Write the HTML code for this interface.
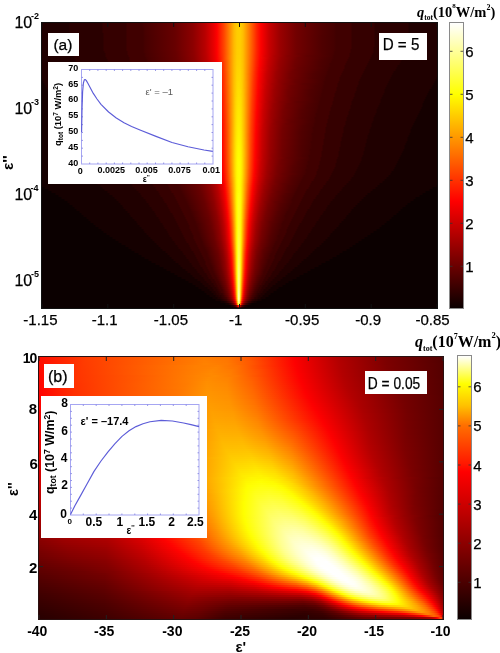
<!DOCTYPE html>
<html><head><meta charset="utf-8"><style>
html,body{margin:0;padding:0;background:#fff;}
body{width:500px;height:653px;position:relative;overflow:hidden;}
.t{position:absolute;white-space:nowrap;z-index:3;}
.t sub{font-size:70%;vertical-align:-0.25em;line-height:0}
.t sup{font-size:70%;vertical-align:0.5em;line-height:0}
.hm{position:absolute;overflow:hidden;}
.hm div{width:100%;}
.box{position:absolute;background:#fff;}
.cb{position:absolute;box-sizing:border-box;border:1px solid #8a8a8a;}
.sv{position:absolute;left:0;top:0;z-index:2;}
</style></head><body>
<div class="hm" style="left:42px;top:23px;width:395px;height:285px;"><div style="height:2px;background:linear-gradient(90deg,#200000 0px,#200000 27px,#2a0000 28px,#2a0000 60px,#350000 61px,#350000 84px,#400000 85px,#400000 100px,#460000 102px,#650000 132px,#8c0000 151px,#b70000 163px,#ea0000 172px,#ff0100 175px,#ff4500 182px,#ffb900 192px,#ffcd00 195px,#ffcf00 198px,#ffbe00 201px,#ff7c00 207px,#ff2100 215px,#fd0000 219px,#c80000 227px,#9a0000 238px,#720000 254px,#500000 280px,#460000 292px,#400000 294px,#400000 309px,#350000 310px,#350000 332px,#2a0000 333px,#2a0000 366px,#200000 367px,#200000 395px)"></div><div style="height:2px;background:linear-gradient(90deg,#200000 0px,#200000 27px,#2a0000 28px,#2a0000 60px,#350000 61px,#350000 84px,#400000 85px,#400000 100px,#460000 102px,#650000 132px,#8c0000 151px,#b70000 163px,#ea0000 172px,#ff0100 175px,#ff4500 182px,#ffb900 192px,#ffcd00 195px,#ffcf00 198px,#ffbe00 201px,#ff7c00 207px,#ff2100 215px,#fd0000 219px,#c80000 227px,#9a0000 238px,#720000 254px,#500000 280px,#460000 292px,#400000 294px,#400000 309px,#350000 310px,#350000 332px,#2a0000 333px,#2a0000 366px,#200000 367px,#200000 395px)"></div><div style="height:2px;background:linear-gradient(90deg,#200000 0px,#200000 27px,#2a0000 28px,#2a0000 60px,#350000 61px,#350000 84px,#400000 85px,#400000 101px,#470000 103px,#670000 133px,#8c0000 151px,#b70000 163px,#ea0000 172px,#ff0100 175px,#ff4500 182px,#ffb900 192px,#ffcd00 195px,#ffcf00 198px,#ffbe00 201px,#ff7c00 207px,#ff2100 215px,#fd0000 219px,#c80000 227px,#9a0000 238px,#720000 254px,#500000 280px,#460000 292px,#400000 294px,#400000 309px,#350000 310px,#350000 332px,#2a0000 333px,#2a0000 366px,#200000 367px,#200000 395px)"></div><div style="height:2px;background:linear-gradient(90deg,#200000 0px,#200000 27px,#2a0000 28px,#2a0000 60px,#350000 61px,#350000 84px,#400000 85px,#400000 101px,#470000 103px,#670000 133px,#8c0000 151px,#b70000 163px,#ea0000 172px,#ff0100 175px,#ff4500 182px,#ffb900 192px,#ffcd00 195px,#ffcf00 198px,#ffbe00 201px,#ff7c00 207px,#ff2100 215px,#fd0000 219px,#c80000 227px,#9a0000 238px,#720000 254px,#500000 280px,#450000 292px,#400000 294px,#400000 309px,#350000 310px,#350000 332px,#2a0000 333px,#2a0000 366px,#200000 367px,#200000 395px)"></div><div style="height:2px;background:linear-gradient(90deg,#200000 0px,#200000 27px,#2a0000 28px,#2a0000 60px,#350000 61px,#350000 84px,#400000 85px,#400000 101px,#470000 103px,#670000 133px,#8c0000 151px,#b70000 163px,#ea0000 172px,#ff0100 175px,#ff4500 182px,#ffb900 192px,#ffcd00 195px,#ffcf00 198px,#ffbe00 201px,#ff7c00 207px,#ff2100 215px,#fd0000 219px,#c80000 227px,#9a0000 238px,#720000 254px,#500000 280px,#450000 292px,#400000 294px,#400000 309px,#350000 310px,#350000 332px,#2a0000 333px,#2a0000 366px,#200000 367px,#200000 395px)"></div><div style="height:2px;background:linear-gradient(90deg,#200000 0px,#200000 27px,#2a0000 28px,#2a0000 61px,#350000 62px,#350000 84px,#400000 85px,#400000 101px,#470000 103px,#670000 133px,#8c0000 151px,#b70000 163px,#ea0000 172px,#ff0100 175px,#ff4500 182px,#ffb900 192px,#ffcd00 195px,#ffcf00 198px,#ffbe00 201px,#ff7c00 207px,#ff2100 215px,#fd0000 219px,#c80000 227px,#9a0000 238px,#720000 254px,#500000 280px,#450000 292px,#400000 294px,#400000 309px,#350000 310px,#350000 332px,#2a0000 333px,#2a0000 366px,#200000 367px,#200000 395px)"></div><div style="height:2px;background:linear-gradient(90deg,#200000 0px,#200000 27px,#2a0000 28px,#2a0000 61px,#350000 62px,#350000 84px,#400000 85px,#400000 101px,#460000 103px,#670000 133px,#8c0000 151px,#b70000 163px,#ea0000 172px,#ff0100 175px,#ff4500 182px,#ffb900 192px,#ffcd00 195px,#ffcf00 198px,#ffbe00 201px,#ff7c00 207px,#ff2100 215px,#fd0000 219px,#c80000 227px,#9a0000 238px,#720000 254px,#4f0000 280px,#450000 292px,#400000 294px,#400000 309px,#350000 310px,#350000 332px,#2a0000 333px,#2a0000 366px,#200000 367px,#200000 395px)"></div><div style="height:2px;background:linear-gradient(90deg,#200000 0px,#200000 27px,#2a0000 28px,#2a0000 61px,#350000 62px,#350000 84px,#400000 85px,#400000 101px,#460000 103px,#670000 133px,#8c0000 151px,#b70000 163px,#ea0000 172px,#ff0100 175px,#ff4500 182px,#ffb900 192px,#ffcd00 195px,#ffcf00 198px,#ffbe00 201px,#ff7c00 207px,#ff2100 215px,#fd0000 219px,#c80000 227px,#9a0000 238px,#720000 254px,#4f0000 280px,#450000 292px,#400000 294px,#400000 309px,#350000 310px,#350000 332px,#2a0000 333px,#2a0000 365px,#200000 366px,#200000 395px)"></div><div style="height:2px;background:linear-gradient(90deg,#200000 0px,#200000 27px,#2a0000 28px,#2a0000 61px,#350000 62px,#350000 84px,#400000 85px,#400000 101px,#460000 103px,#670000 133px,#8c0000 151px,#b70000 163px,#ea0000 172px,#ff0100 175px,#ff4500 182px,#ffb900 192px,#ffcd00 195px,#ffcf00 198px,#ffbe00 201px,#ff7c00 207px,#ff2100 215px,#fd0000 219px,#c80000 227px,#9a0000 238px,#720000 254px,#4f0000 280px,#450000 292px,#400000 294px,#400000 309px,#350000 310px,#350000 332px,#2a0000 333px,#2a0000 365px,#200000 366px,#200000 395px)"></div><div style="height:2px;background:linear-gradient(90deg,#200000 0px,#200000 27px,#2a0000 28px,#2a0000 61px,#350000 62px,#350000 84px,#400000 85px,#400000 101px,#460000 103px,#670000 133px,#8c0000 151px,#b70000 163px,#ea0000 172px,#ff0100 175px,#ff4500 182px,#ffb900 192px,#ffcd00 195px,#ffcf00 198px,#ffbe00 201px,#ff7c00 207px,#ff2100 215px,#fd0000 219px,#c80000 227px,#9a0000 238px,#720000 254px,#4f0000 280px,#450000 292px,#400000 294px,#400000 309px,#350000 310px,#350000 332px,#2a0000 333px,#2a0000 365px,#200000 366px,#200000 395px)"></div><div style="height:2px;background:linear-gradient(90deg,#200000 0px,#200000 28px,#2a0000 29px,#2a0000 61px,#350000 62px,#350000 84px,#400000 85px,#400000 101px,#460000 103px,#670000 133px,#8c0000 151px,#b70000 163px,#ea0000 172px,#ff0100 175px,#ff4500 182px,#ffb900 192px,#ffcd00 195px,#ffcf00 198px,#ffbe00 201px,#ff7c00 207px,#ff2100 215px,#fd0000 219px,#c80000 227px,#9a0000 238px,#720000 254px,#4f0000 280px,#450000 292px,#400000 294px,#400000 309px,#350000 310px,#350000 332px,#2a0000 333px,#2a0000 365px,#200000 366px,#200000 395px)"></div><div style="height:2px;background:linear-gradient(90deg,#200000 0px,#200000 28px,#2a0000 29px,#2a0000 61px,#350000 62px,#350000 84px,#400000 85px,#400000 101px,#460000 103px,#670000 133px,#8c0000 151px,#b70000 163px,#ea0000 172px,#ff0100 175px,#ff4500 182px,#ffb900 192px,#ffcd00 195px,#ffcf00 198px,#ffbe00 201px,#ff7c00 207px,#ff2100 215px,#fd0000 219px,#c80000 227px,#9a0000 238px,#720000 254px,#4f0000 280px,#450000 292px,#400000 294px,#400000 309px,#350000 310px,#350000 332px,#2a0000 333px,#2a0000 365px,#200000 366px,#200000 395px)"></div><div style="height:2px;background:linear-gradient(90deg,#200000 0px,#200000 28px,#2a0000 29px,#2a0000 61px,#350000 62px,#350000 84px,#400000 85px,#400000 101px,#460000 103px,#670000 133px,#8c0000 151px,#b70000 163px,#e90000 172px,#ff0100 175px,#ff4500 182px,#ffb900 192px,#ffcd00 195px,#ffcf00 198px,#ffbe00 201px,#ff7c00 207px,#ff2100 215px,#fd0000 219px,#c80000 227px,#9a0000 238px,#720000 254px,#4f0000 280px,#450000 292px,#400000 294px,#400000 309px,#350000 310px,#350000 331px,#2a0000 332px,#2a0000 365px,#200000 366px,#200000 395px)"></div><div style="height:2px;background:linear-gradient(90deg,#200000 0px,#200000 28px,#2a0000 29px,#2a0000 61px,#350000 62px,#350000 84px,#400000 85px,#400000 101px,#460000 103px,#670000 133px,#8c0000 151px,#b60000 163px,#e90000 172px,#ff0100 175px,#ff4400 182px,#ffb900 192px,#ffce00 195px,#ffd000 198px,#ffbf00 201px,#ff7b00 207px,#ff2100 215px,#fd0000 219px,#c80000 227px,#9a0000 238px,#720000 254px,#4f0000 280px,#450000 292px,#400000 294px,#400000 308px,#350000 309px,#350000 331px,#2a0000 332px,#2a0000 364px,#200000 365px,#200000 395px)"></div><div style="height:2px;background:linear-gradient(90deg,#200000 0px,#200000 29px,#2a0000 30px,#2a0000 62px,#350000 63px,#350000 85px,#400000 86px,#400000 101px,#460000 103px,#660000 133px,#8b0000 151px,#b60000 163px,#e90000 172px,#ff0000 175px,#ff4400 182px,#ffb900 192px,#ffce00 195px,#ffd000 198px,#ffbf00 201px,#ff7b00 207px,#ff2000 215px,#fc0000 219px,#c80000 227px,#990000 238px,#720000 254px,#4f0000 280px,#460000 291px,#400000 293px,#400000 308px,#350000 309px,#350000 331px,#2a0000 332px,#2a0000 364px,#200000 365px,#200000 395px)"></div><div style="height:2px;background:linear-gradient(90deg,#200000 0px,#200000 30px,#2a0000 31px,#2a0000 63px,#350000 64px,#350000 85px,#400000 86px,#400000 102px,#460000 104px,#670000 134px,#8e0000 152px,#ba0000 164px,#ef0000 173px,#ff0000 175px,#ff4300 182px,#ffb900 192px,#ffce00 195px,#ffd000 198px,#ffbf00 201px,#ff7b00 207px,#ff2a00 214px,#ff0500 218px,#f40000 220px,#c20000 228px,#960000 239px,#6d0000 256px,#4c0000 283px,#450000 291px,#400000 293px,#400000 307px,#350000 308px,#350000 330px,#2a0000 331px,#2a0000 363px,#200000 364px,#200000 395px)"></div><div style="height:2px;background:linear-gradient(90deg,#200000 0px,#200000 31px,#2a0000 32px,#2a0000 63px,#350000 64px,#350000 86px,#400000 87px,#400000 102px,#460000 104px,#670000 134px,#8d0000 152px,#b90000 164px,#ee0000 173px,#fe0000 175px,#ff3800 181px,#ffba00 192px,#ffcf00 195px,#ffd100 198px,#ffbf00 201px,#ff7a00 207px,#ff2900 214px,#ff0400 218px,#de0000 223px,#ae0000 232px,#840000 245px,#5f0000 265px,#460000 290px,#400000 292px,#400000 307px,#350000 308px,#350000 329px,#2a0000 330px,#2a0000 362px,#200000 363px,#200000 395px)"></div><div style="height:2px;background:linear-gradient(90deg,#200000 0px,#200000 32px,#2a0000 33px,#2a0000 64px,#350000 65px,#350000 87px,#400000 88px,#400000 103px,#460000 105px,#660000 134px,#8c0000 152px,#b80000 164px,#ed0000 173px,#fd0000 175px,#ff2c00 180px,#ffba00 192px,#ffcf00 195px,#ffd100 198px,#ffbf00 201px,#ff7a00 207px,#ff2800 214px,#ff0300 218px,#c00000 228px,#940000 239px,#6c0000 256px,#4b0000 283px,#450000 290px,#400000 292px,#400000 306px,#350000 307px,#350000 328px,#2a0000 329px,#2a0000 361px,#200000 362px,#200000 395px)"></div><div style="height:2px;background:linear-gradient(90deg,#200000 0px,#200000 33px,#2a0000 34px,#2a0000 65px,#350000 66px,#350000 87px,#400000 88px,#400000 104px,#470000 106px,#670000 135px,#8e0000 153px,#bc0000 165px,#ec0000 173px,#fb0000 175px,#ff1700 178px,#ff6500 185px,#ffba00 192px,#ffd000 195px,#ffd200 198px,#ffc000 201px,#ff7900 207px,#ff2700 214px,#ff0100 218px,#c40000 227px,#960000 238px,#6f0000 254px,#4d0000 280px,#450000 289px,#400000 291px,#400000 305px,#350000 306px,#350000 327px,#2a0000 328px,#2a0000 359px,#200000 360px,#200000 395px)"></div><div style="height:2px;background:linear-gradient(90deg,#200000 0px,#200000 34px,#2a0000 35px,#2a0000 66px,#350000 67px,#350000 88px,#400000 89px,#400000 104px,#460000 106px,#660000 135px,#8d0000 153px,#bb0000 165px,#eb0000 173px,#ff0300 176px,#ff4b00 183px,#ffba00 192px,#ffd100 195px,#ffd300 198px,#ffc000 201px,#ff7900 207px,#ff2500 214px,#ff0000 218px,#c80000 226px,#980000 237px,#700000 253px,#4d0000 279px,#460000 288px,#400000 290px,#400000 304px,#350000 305px,#350000 326px,#2a0000 327px,#2a0000 358px,#200000 359px,#200000 395px)"></div><div style="height:2px;background:linear-gradient(90deg,#200000 0px,#200000 36px,#2a0000 37px,#2a0000 67px,#350000 68px,#350000 89px,#400000 90px,#400000 105px,#460000 107px,#670000 136px,#8c0000 153px,#b90000 165px,#e90000 173px,#ff0200 176px,#ff3e00 182px,#ffbb00 192px,#ffd100 195px,#ffd400 198px,#ffc100 201px,#ff7800 207px,#ff2400 214px,#fe0000 218px,#c70000 226px,#970000 237px,#6f0000 253px,#4d0000 279px,#460000 287px,#400000 288px,#400000 303px,#350000 304px,#350000 325px,#2a0000 326px,#2a0000 357px,#200000 358px,#200000 395px)"></div><div style="height:2px;background:linear-gradient(90deg,#200000 0px,#200000 37px,#2a0000 38px,#2a0000 69px,#350000 70px,#350000 90px,#400000 91px,#400000 106px,#460000 108px,#660000 136px,#8b0000 153px,#b80000 165px,#e80000 173px,#ff0100 176px,#ff3d00 182px,#ffbb00 192px,#ffd200 195px,#ffd400 198px,#ffc100 201px,#ff7700 207px,#ff2300 214px,#fc0000 218px,#c50000 226px,#960000 237px,#6e0000 253px,#4c0000 279px,#450000 287px,#400000 289px,#400000 302px,#350000 303px,#350000 324px,#2a0000 325px,#2a0000 355px,#200000 356px,#200000 395px)"></div><div style="height:2px;background:linear-gradient(90deg,#200000 0px,#200000 39px,#2a0000 40px,#2a0000 70px,#350000 71px,#350000 91px,#400000 92px,#400000 107px,#460000 109px,#670000 137px,#8d0000 154px,#b70000 165px,#e60000 173px,#fe0000 176px,#ff3c00 182px,#ffbb00 192px,#ffd300 195px,#ffd500 198px,#ffc100 201px,#ff7600 207px,#ff2100 214px,#ff0400 217px,#eb0000 220px,#ba0000 228px,#8f0000 239px,#680000 256px,#470000 284px,#450000 286px,#400000 288px,#400000 302px,#350000 303px,#350000 323px,#2a0000 324px,#2a0000 354px,#200000 355px,#200000 395px)"></div><div style="height:2px;background:linear-gradient(90deg,#200000 0px,#200000 40px,#2a0000 41px,#2a0000 71px,#350000 72px,#350000 92px,#400000 93px,#400000 108px,#470000 110px,#680000 138px,#8f0000 155px,#ba0000 166px,#ec0000 174px,#fd0000 176px,#ff2f00 181px,#ffbb00 192px,#ffd400 195px,#ffd600 198px,#ffc200 201px,#ff7500 207px,#ff2000 214px,#ff0300 217px,#c30000 226px,#940000 237px,#6c0000 253px,#4b0000 279px,#460000 285px,#400000 287px,#400000 301px,#350000 302px,#350000 322px,#2a0000 323px,#2a0000 353px,#200000 354px,#200000 395px)"></div><div style="height:2px;background:linear-gradient(90deg,#200000 0px,#200000 41px,#2a0000 42px,#2a0000 72px,#350000 73px,#350000 93px,#400000 94px,#400000 108px,#460000 110px,#670000 138px,#8e0000 155px,#b90000 166px,#eb0000 174px,#fb0000 176px,#ff0e00 178px,#ff5200 184px,#ffbc00 192px,#ffd400 195px,#ffd700 198px,#ffc200 201px,#ff7500 207px,#ff2900 213px,#ff0100 217px,#c70000 225px,#990000 235px,#710000 250px,#4f0000 274px,#460000 284px,#400000 286px,#400000 300px,#350000 301px,#350000 321px,#2a0000 322px,#2a0000 351px,#200000 352px,#200000 395px)"></div><div style="height:2px;background:linear-gradient(90deg,#200000 0px,#200000 43px,#2a0000 44px,#2a0000 73px,#350000 74px,#350000 94px,#400000 95px,#400000 109px,#460000 111px,#660000 138px,#8c0000 155px,#b80000 166px,#ea0000 174px,#ff0400 177px,#ff4400 183px,#ffbc00 192px,#ffd500 195px,#ffd800 198px,#ffc200 201px,#ff6600 208px,#ff1d00 214px,#ff0000 217px,#cb0000 224px,#9c0000 234px,#740000 248px,#510000 271px,#450000 284px,#400000 286px,#400000 299px,#350000 300px,#350000 320px,#2a0000 321px,#2a0000 350px,#200000 351px,#200000 395px)"></div><div style="height:2px;background:linear-gradient(90deg,#200000 0px,#200000 44px,#2a0000 45px,#2a0000 74px,#350000 75px,#350000 95px,#400000 96px,#400000 110px,#470000 112px,#670000 139px,#8b0000 155px,#b60000 166px,#e80000 174px,#ff0200 177px,#ff4300 183px,#ffbc00 192px,#ffd600 195px,#ffd800 198px,#ffc300 201px,#ff3200 212px,#fe0000 217px,#ca0000 224px,#9b0000 234px,#740000 248px,#510000 271px,#450000 283px,#400000 285px,#400000 298px,#350000 299px,#350000 319px,#2a0000 320px,#2a0000 349px,#200000 350px,#200000 395px)"></div><div style="height:2px;background:linear-gradient(90deg,#200000 0px,#200000 45px,#2a0000 46px,#2a0000 75px,#350000 76px,#350000 95px,#400000 96px,#400000 110px,#460000 112px,#660000 139px,#8b0000 155px,#b50000 166px,#e70000 174px,#ff0100 177px,#ff4200 183px,#ffbc00 192px,#ffd700 195px,#ffd900 198px,#ffc300 201px,#ff3100 212px,#ff0700 216px,#fd0000 217px,#c90000 224px,#9a0000 234px,#730000 248px,#500000 271px,#460000 282px,#400000 284px,#400000 297px,#350000 298px,#350000 318px,#2a0000 319px,#2a0000 348px,#200000 349px,#200000 394px,#150000 395px)"></div><div style="height:2px;background:linear-gradient(90deg,#150000 0px,#200000 1px,#200000 46px,#2a0000 47px,#2a0000 75px,#350000 76px,#350000 96px,#400000 97px,#400000 111px,#460000 113px,#670000 140px,#8d0000 156px,#ba0000 167px,#ee0000 175px,#ff0000 177px,#ff4100 183px,#ffbd00 192px,#ffd700 195px,#ffda00 198px,#ffc300 201px,#ff3000 212px,#ff0600 216px,#f30000 218px,#bd0000 226px,#8f0000 237px,#690000 253px,#480000 279px,#450000 282px,#400000 284px,#400000 297px,#350000 298px,#350000 317px,#2a0000 318px,#2a0000 347px,#200000 348px,#200000 393px,#150000 394px,#150000 395px)"></div><div style="height:2px;background:linear-gradient(90deg,#150000 0px,#150000 1px,#200000 2px,#200000 47px,#2a0000 48px,#2a0000 76px,#350000 77px,#350000 97px,#400000 98px,#400000 111px,#460000 113px,#670000 140px,#8c0000 156px,#b90000 167px,#ed0000 175px,#fe0000 177px,#ff3400 182px,#ffbd00 192px,#ffd800 195px,#ffdd00 197px,#ffce00 200px,#ff9d00 204px,#ff3b00 211px,#ff0500 216px,#f20000 218px,#bc0000 226px,#8e0000 237px,#680000 253px,#470000 280px,#400000 283px,#400000 296px,#350000 297px,#350000 316px,#2a0000 317px,#2a0000 346px,#200000 347px,#200000 392px,#150000 393px,#150000 395px)"></div><div style="height:2px;background:linear-gradient(90deg,#150000 0px,#150000 2px,#200000 3px,#200000 48px,#2a0000 49px,#2a0000 77px,#350000 78px,#350000 97px,#400000 98px,#400000 112px,#460000 114px,#660000 140px,#8b0000 156px,#b80000 167px,#ec0000 175px,#fd0000 177px,#ff3300 182px,#ffbd00 192px,#ffd900 195px,#ffde00 197px,#ffce00 200px,#ff9d00 204px,#ff3a00 211px,#ff0400 216px,#da0000 221px,#a70000 230px,#7f0000 242px,#5b0000 261px,#450000 281px,#400000 283px,#400000 295px,#350000 296px,#350000 316px,#2a0000 317px,#2a0000 345px,#200000 346px,#200000 391px,#150000 392px,#150000 395px)"></div><div style="height:2px;background:linear-gradient(90deg,#150000 0px,#150000 3px,#200000 4px,#200000 48px,#2a0000 49px,#2a0000 78px,#350000 79px,#350000 98px,#400000 99px,#400000 112px,#460000 114px,#660000 140px,#8a0000 156px,#b70000 167px,#eb0000 175px,#fc0000 177px,#ff1b00 180px,#ff6700 186px,#ffbe00 192px,#ffd900 195px,#ffde00 197px,#ffcf00 200px,#ff9d00 204px,#ff3900 211px,#ff0300 216px,#c50000 224px,#970000 234px,#6e0000 249px,#4c0000 273px,#460000 280px,#400000 282px,#400000 295px,#350000 296px,#350000 315px,#2a0000 316px,#2a0000 344px,#200000 345px,#200000 390px,#150000 391px,#150000 395px)"></div><div style="height:2px;background:linear-gradient(90deg,#150000 0px,#150000 4px,#200000 5px,#200000 49px,#2a0000 50px,#2a0000 78px,#350000 79px,#350000 98px,#400000 99px,#400000 113px,#460000 115px,#670000 141px,#8d0000 157px,#b60000 167px,#ea0000 175px,#fb0000 177px,#ff0f00 179px,#ff5800 185px,#ffbe00 192px,#ffda00 195px,#ffdf00 197px,#ffcf00 200px,#ff9c00 204px,#ff3800 211px,#ff0200 216px,#c40000 224px,#960000 234px,#6d0000 249px,#4c0000 273px,#450000 280px,#400000 282px,#400000 294px,#350000 295px,#350000 314px,#2a0000 315px,#2a0000 343px,#200000 344px,#200000 389px,#150000 390px,#150000 395px)"></div><div style="height:2px;background:linear-gradient(90deg,#150000 0px,#150000 5px,#200000 6px,#200000 50px,#2a0000 51px,#2a0000 79px,#350000 80px,#350000 99px,#400000 100px,#400000 113px,#470000 116px,#680000 142px,#8c0000 157px,#b50000 167px,#e90000 175px,#ff0400 178px,#ff4a00 184px,#ffbe00 192px,#ffdb00 195px,#ffe000 197px,#ffd800 199px,#ffb900 202px,#ff3700 211px,#ff0000 216px,#c90000 223px,#9c0000 232px,#730000 246px,#500000 268px,#460000 279px,#400000 281px,#400000 294px,#350000 295px,#350000 314px,#2a0000 315px,#2a0000 342px,#200000 343px,#200000 387px,#150000 388px,#150000 395px)"></div><div style="height:2px;background:linear-gradient(90deg,#150000 0px,#150000 6px,#200000 7px,#200000 51px,#2a0000 52px,#2a0000 80px,#350000 81px,#350000 100px,#400000 101px,#400000 114px,#460000 116px,#670000 142px,#8e0000 158px,#b90000 168px,#e80000 175px,#ff0300 178px,#ff4900 184px,#ffbe00 192px,#ffdc00 195px,#ffe100 197px,#ffd900 199px,#ffb900 202px,#ff3600 211px,#fe0000 216px,#c80000 223px,#9c0000 232px,#720000 246px,#500000 268px,#450000 279px,#400000 281px,#400000 293px,#350000 294px,#350000 313px,#2a0000 314px,#2a0000 342px,#200000 343px,#200000 386px,#150000 387px,#150000 395px)"></div><div style="height:2px;background:linear-gradient(90deg,#150000 0px,#150000 7px,#200000 8px,#200000 52px,#2a0000 53px,#2a0000 80px,#350000 81px,#350000 100px,#400000 101px,#400000 114px,#470000 117px,#670000 142px,#8e0000 158px,#b80000 168px,#e70000 175px,#ff0200 178px,#ff3b00 183px,#ffcb00 193px,#ffe100 196px,#ffdf00 198px,#ffc600 201px,#ff3600 211px,#fd0000 216px,#c70000 223px,#9b0000 232px,#720000 246px,#4f0000 268px,#460000 278px,#400000 280px,#400000 292px,#350000 293px,#350000 312px,#2a0000 313px,#2a0000 341px,#200000 342px,#200000 385px,#150000 386px,#150000 395px)"></div><div style="height:2px;background:linear-gradient(90deg,#150000 0px,#150000 8px,#200000 9px,#200000 53px,#2a0000 54px,#2a0000 81px,#350000 82px,#350000 101px,#400000 102px,#400000 115px,#460000 117px,#660000 142px,#8d0000 158px,#b70000 168px,#e50000 175px,#ff0100 178px,#ff3a00 183px,#ffcb00 193px,#ffe200 196px,#ffe000 198px,#ffc700 201px,#ff3500 211px,#ff0700 215px,#fc0000 216px,#c60000 223px,#9a0000 232px,#710000 246px,#4f0000 268px,#450000 278px,#400000 280px,#400000 292px,#350000 293px,#350000 312px,#2a0000 313px,#2a0000 340px,#200000 341px,#200000 384px,#150000 385px,#150000 395px)"></div><div style="height:2px;background:linear-gradient(90deg,#150000 0px,#150000 9px,#200000 10px,#200000 53px,#2a0000 54px,#2a0000 82px,#350000 83px,#350000 101px,#400000 102px,#400000 115px,#470000 118px,#670000 143px,#8c0000 158px,#b60000 168px,#e40000 175px,#ff0000 178px,#ff3900 183px,#ffcc00 193px,#ffde00 195px,#ffe400 197px,#ffdb00 199px,#ffba00 202px,#ff4100 210px,#ff0600 215px,#f20000 217px,#bf0000 224px,#920000 234px,#6a0000 249px,#490000 273px,#460000 277px,#400000 279px,#400000 291px,#350000 292px,#350000 311px,#2a0000 312px,#2a0000 339px,#200000 340px,#200000 383px,#150000 384px,#150000 395px)"></div><div style="height:2px;background:linear-gradient(90deg,#150000 0px,#150000 10px,#200000 11px,#200000 54px,#2a0000 55px,#2a0000 82px,#350000 83px,#350000 102px,#400000 103px,#400000 116px,#460000 118px,#670000 143px,#8b0000 158px,#b50000 168px,#e30000 175px,#fe0000 178px,#ff3800 183px,#ffcc00 193px,#ffdf00 195px,#ffe400 197px,#ffdc00 199px,#ffba00 202px,#ff4000 210px,#ff0500 215px,#f10000 217px,#be0000 224px,#910000 234px,#6a0000 249px,#490000 273px,#450000 277px,#400000 279px,#400000 291px,#350000 292px,#350000 310px,#2a0000 311px,#2a0000 338px,#200000 339px,#200000 382px,#150000 383px,#150000 395px)"></div><div style="height:2px;background:linear-gradient(90deg,#150000 0px,#150000 11px,#200000 12px,#200000 55px,#2a0000 56px,#2a0000 83px,#350000 84px,#350000 102px,#400000 103px,#400000 116px,#470000 119px,#680000 144px,#8e0000 159px,#ba0000 169px,#eb0000 176px,#fd0000 178px,#ff2a00 182px,#ff8100 188px,#ffcd00 193px,#ffe000 195px,#ffe500 197px,#ffdd00 199px,#ffba00 202px,#ff3f00 210px,#ff0400 215px,#df0000 219px,#ad0000 227px,#830000 238px,#5e0000 255px,#460000 276px,#400000 278px,#400000 290px,#350000 291px,#350000 309px,#2a0000 310px,#2a0000 338px,#200000 339px,#200000 381px,#150000 382px,#150000 395px)"></div><div style="height:2px;background:linear-gradient(90deg,#150000 0px,#150000 12px,#200000 13px,#200000 56px,#2a0000 57px,#2a0000 84px,#350000 85px,#350000 103px,#400000 104px,#400000 117px,#460000 119px,#670000 144px,#8d0000 159px,#b90000 169px,#ea0000 176px,#fc0000 178px,#ff1d00 181px,#ff6100 186px,#ffcd00 193px,#ffe000 195px,#ffe600 197px,#ffdd00 199px,#ffba00 202px,#ff3e00 210px,#ff0300 215px,#c20000 223px,#960000 232px,#6e0000 246px,#4d0000 268px,#450000 276px,#400000 278px,#400000 290px,#350000 291px,#350000 309px,#2a0000 310px,#2a0000 337px,#200000 338px,#200000 380px,#150000 381px,#150000 395px)"></div><div style="height:2px;background:linear-gradient(90deg,#150000 0px,#150000 13px,#200000 14px,#200000 57px,#2a0000 58px,#2a0000 84px,#350000 85px,#350000 104px,#400000 105px,#400000 117px,#470000 120px,#670000 144px,#8c0000 159px,#b80000 169px,#e90000 176px,#fb0000 178px,#ff1100 180px,#ff5100 185px,#ffce00 193px,#ffe100 195px,#ffe700 197px,#ffde00 199px,#ffba00 202px,#ff3d00 210px,#ff0200 215px,#c80000 222px,#990000 231px,#720000 244px,#500000 265px,#460000 275px,#400000 277px,#400000 289px,#350000 290px,#350000 308px,#2a0000 309px,#2a0000 336px,#200000 337px,#200000 380px,#150000 381px,#150000 395px)"></div><div style="height:2px;background:linear-gradient(90deg,#150000 0px,#150000 14px,#200000 15px,#200000 57px,#2a0000 58px,#2a0000 85px,#350000 86px,#350000 104px,#400000 105px,#400000 118px,#470000 120px,#660000 144px,#8b0000 159px,#b70000 169px,#e80000 176px,#fa0000 178px,#ff1000 180px,#ff5000 185px,#ffce00 193px,#ffe200 195px,#ffe800 197px,#ffdf00 199px,#ffbb00 202px,#ff3c00 210px,#ff0100 215px,#c70000 222px,#990000 231px,#710000 244px,#4f0000 265px,#450000 275px,#400000 277px,#400000 288px,#350000 289px,#350000 308px,#2a0000 309px,#2a0000 335px,#200000 336px,#200000 379px,#150000 380px,#150000 395px)"></div><div style="height:2px;background:linear-gradient(90deg,#150000 0px,#150000 15px,#200000 16px,#200000 58px,#2a0000 59px,#2a0000 86px,#350000 87px,#350000 105px,#400000 106px,#400000 118px,#470000 121px,#670000 145px,#8e0000 160px,#bc0000 170px,#ef0000 177px,#ff0400 179px,#ff4100 184px,#ffcf00 193px,#ffe300 195px,#ffe900 197px,#ffe000 199px,#ffbb00 202px,#ff3b00 210px,#ff0000 215px,#cc0000 221px,#a00000 229px,#780000 241px,#550000 260px,#460000 274px,#400000 276px,#400000 288px,#350000 289px,#350000 307px,#2a0000 308px,#2a0000 334px,#200000 335px,#200000 378px,#150000 379px,#150000 395px)"></div><div style="height:2px;background:linear-gradient(90deg,#150000 0px,#150000 16px,#200000 17px,#200000 59px,#2a0000 60px,#2a0000 86px,#350000 87px,#350000 105px,#400000 106px,#400000 119px,#470000 121px,#670000 145px,#8d0000 160px,#bb0000 170px,#ee0000 177px,#ff0300 179px,#ff4000 184px,#ffcf00 193px,#ffe400 195px,#ffea00 197px,#ffe000 199px,#ffbb00 202px,#ff3a00 210px,#ff0900 214px,#fe0000 215px,#cb0000 221px,#9f0000 229px,#770000 241px,#550000 260px,#450000 274px,#400000 276px,#400000 287px,#350000 288px,#350000 306px,#2a0000 307px,#2a0000 334px,#200000 335px,#200000 377px,#150000 378px,#150000 395px)"></div><div style="height:2px;background:linear-gradient(90deg,#150000 0px,#150000 17px,#200000 18px,#200000 60px,#2a0000 61px,#2a0000 87px,#350000 88px,#350000 106px,#400000 107px,#400000 119px,#460000 121px,#660000 145px,#8d0000 160px,#ba0000 170px,#ed0000 177px,#ff0200 179px,#ff3f00 184px,#ffd000 193px,#ffe400 195px,#ffeb00 197px,#ffe100 199px,#ffbb00 202px,#ff4800 209px,#ff0800 214px,#fd0000 215px,#ca0000 221px,#9e0000 229px,#770000 241px,#540000 260px,#460000 273px,#400000 274px,#400000 287px,#350000 288px,#350000 306px,#2a0000 307px,#2a0000 333px,#200000 334px,#200000 376px,#150000 377px,#150000 395px)"></div><div style="height:2px;background:linear-gradient(90deg,#150000 0px,#150000 18px,#200000 19px,#200000 60px,#2a0000 61px,#2a0000 88px,#350000 89px,#350000 106px,#400000 107px,#400000 120px,#470000 122px,#670000 146px,#8c0000 160px,#b90000 170px,#ec0000 177px,#ff0100 179px,#ff3e00 184px,#ffd000 193px,#ffe500 195px,#ffec00 197px,#ffe200 199px,#ffbb00 202px,#ff4700 209px,#ff0700 214px,#fc0000 215px,#c90000 221px,#9e0000 229px,#760000 241px,#540000 260px,#450000 273px,#400000 275px,#400000 286px,#350000 287px,#350000 305px,#2a0000 306px,#2a0000 332px,#200000 333px,#200000 375px,#150000 376px,#150000 395px)"></div><div style="height:2px;background:linear-gradient(90deg,#150000 0px,#150000 19px,#200000 20px,#200000 61px,#2a0000 62px,#2a0000 88px,#350000 89px,#350000 107px,#400000 108px,#400000 120px,#460000 122px,#670000 146px,#8b0000 160px,#b80000 170px,#eb0000 177px,#ff0000 179px,#ff3d00 184px,#ffd000 193px,#ffe600 195px,#ffed00 197px,#ffe300 199px,#ffbb00 202px,#ff4600 209px,#ff0600 214px,#fb0000 215px,#c90000 221px,#9d0000 229px,#750000 241px,#530000 260px,#460000 272px,#400000 273px,#400000 286px,#350000 287px,#350000 304px,#2a0000 305px,#2a0000 331px,#200000 332px,#200000 374px,#150000 375px,#150000 395px)"></div><div style="height:2px;background:linear-gradient(90deg,#150000 0px,#150000 20px,#200000 21px,#200000 62px,#2a0000 63px,#2a0000 89px,#350000 90px,#350000 107px,#400000 108px,#400000 121px,#470000 123px,#660000 146px,#8a0000 160px,#b70000 170px,#ea0000 177px,#fe0000 179px,#ff2e00 183px,#ff7d00 188px,#ffd100 193px,#ffe700 195px,#ffed00 197px,#ffe300 199px,#ffbc00 202px,#ff4500 209px,#ff0500 214px,#f00000 216px,#bb0000 223px,#900000 232px,#690000 246px,#480000 269px,#460000 272px,#400000 274px,#400000 285px,#350000 286px,#350000 304px,#2a0000 305px,#2a0000 331px,#200000 332px,#200000 373px,#150000 374px,#150000 395px)"></div><div style="height:2px;background:linear-gradient(90deg,#150000 0px,#150000 21px,#200000 22px,#200000 63px,#2a0000 64px,#2a0000 89px,#350000 90px,#350000 108px,#400000 109px,#400000 121px,#460000 123px,#660000 146px,#8a0000 160px,#b60000 170px,#e90000 177px,#fd0000 179px,#ff2e00 183px,#ff7c00 188px,#ffd100 193px,#ffe700 195px,#ffee00 197px,#ffe400 199px,#ffbc00 202px,#ff4500 209px,#ff0400 214px,#e60000 217px,#b40000 224px,#880000 234px,#630000 249px,#450000 272px,#400000 274px,#400000 285px,#350000 286px,#350000 303px,#2a0000 304px,#2a0000 330px,#200000 331px,#200000 372px,#150000 373px,#150000 395px)"></div><div style="height:2px;background:linear-gradient(90deg,#150000 0px,#150000 22px,#200000 23px,#200000 63px,#2a0000 64px,#2a0000 90px,#350000 91px,#350000 108px,#400000 109px,#400000 121px,#470000 124px,#670000 147px,#8c0000 161px,#b50000 170px,#e80000 177px,#fc0000 179px,#ff1f00 182px,#ff6a00 187px,#ffd200 193px,#ffe800 195px,#ffef00 197px,#ffe500 199px,#ffbc00 202px,#ff4400 209px,#ff0300 214px,#bf0000 222px,#920000 231px,#6c0000 244px,#4b0000 266px,#460000 271px,#400000 273px,#400000 284px,#350000 285px,#350000 303px,#2a0000 304px,#2a0000 329px,#200000 330px,#200000 371px,#150000 372px,#150000 395px)"></div><div style="height:2px;background:linear-gradient(90deg,#150000 0px,#150000 22px,#200000 23px,#200000 64px,#2a0000 65px,#2a0000 91px,#350000 92px,#350000 109px,#400000 110px,#400000 122px,#470000 124px,#670000 147px,#8c0000 161px,#b50000 170px,#e70000 177px,#fb0000 179px,#ff1200 181px,#ff5900 186px,#ffd200 193px,#ffe900 195px,#fff000 197px,#ffe500 199px,#ffbc00 202px,#ff4300 209px,#ff0200 214px,#c50000 221px,#9a0000 229px,#730000 241px,#500000 261px,#450000 271px,#400000 273px,#400000 284px,#350000 285px,#350000 302px,#2a0000 303px,#2a0000 329px,#200000 330px,#200000 370px,#150000 371px,#150000 395px)"></div><div style="height:2px;background:linear-gradient(90deg,#150000 0px,#150000 23px,#200000 24px,#200000 65px,#2a0000 66px,#2a0000 91px,#350000 92px,#350000 109px,#400000 110px,#400000 122px,#460000 124px,#660000 147px,#8b0000 161px,#b40000 170px,#e70000 177px,#fa0000 179px,#ff1100 181px,#ff5800 186px,#ffd300 193px,#ffea00 195px,#fff100 197px,#ffe600 199px,#ffbc00 202px,#ff4200 209px,#ff0100 214px,#c40000 221px,#990000 229px,#720000 241px,#500000 261px,#460000 270px,#400000 271px,#400000 283px,#350000 284px,#350000 301px,#2a0000 302px,#2a0000 328px,#200000 329px,#200000 369px,#150000 370px,#150000 395px)"></div><div style="height:2px;background:linear-gradient(90deg,#150000 0px,#150000 24px,#200000 25px,#200000 65px,#2a0000 66px,#2a0000 92px,#350000 93px,#350000 110px,#400000 111px,#400000 123px,#470000 125px,#680000 148px,#8e0000 162px,#b90000 171px,#e60000 177px,#f90000 179px,#ff0500 180px,#ff4800 185px,#ffd300 193px,#ffea00 195px,#fff200 197px,#ffe700 199px,#ffbc00 202px,#ff4200 209px,#ff0100 214px,#ca0000 220px,#9d0000 228px,#740000 240px,#520000 259px,#460000 270px,#400000 272px,#400000 283px,#350000 284px,#350000 301px,#2a0000 302px,#2a0000 327px,#200000 328px,#200000 368px,#150000 369px,#150000 395px)"></div><div style="height:2px;background:linear-gradient(90deg,#150000 0px,#150000 25px,#200000 26px,#200000 66px,#2a0000 67px,#2a0000 92px,#350000 93px,#350000 110px,#400000 111px,#400000 123px,#470000 125px,#670000 148px,#8e0000 162px,#b80000 171px,#e50000 177px,#ff0400 180px,#ff4700 185px,#ffd400 193px,#ffeb00 195px,#fff300 197px,#ffe800 199px,#ffbd00 202px,#ff4100 209px,#ff0000 214px,#ca0000 220px,#9c0000 228px,#740000 240px,#510000 259px,#450000 270px,#400000 272px,#400000 283px,#350000 284px,#350000 301px,#2a0000 302px,#2a0000 327px,#200000 328px,#200000 368px,#150000 369px,#150000 395px)"></div><div style="height:2px;background:linear-gradient(90deg,#150000 0px,#150000 26px,#200000 27px,#200000 67px,#2a0000 68px,#2a0000 93px,#350000 94px,#350000 110px,#400000 111px,#400000 123px,#460000 125px,#670000 148px,#8d0000 162px,#b80000 171px,#e50000 177px,#ff0400 180px,#ff4700 185px,#ffd400 193px,#ffec00 195px,#fff400 197px,#ffe900 199px,#ffbd00 202px,#ff5000 208px,#ff0b00 213px,#fe0000 214px,#c90000 220px,#9c0000 228px,#730000 240px,#510000 259px,#460000 269px,#400000 270px,#400000 282px,#350000 283px,#350000 300px,#2a0000 301px,#2a0000 326px,#200000 327px,#200000 367px,#150000 368px,#150000 395px)"></div><div style="height:2px;background:linear-gradient(90deg,#150000 0px,#150000 27px,#200000 28px,#200000 67px,#2a0000 68px,#2a0000 93px,#350000 94px,#350000 111px,#400000 112px,#400000 124px,#470000 126px,#660000 148px,#8d0000 162px,#b70000 171px,#e40000 177px,#ff0300 180px,#ff4600 185px,#ffd500 193px,#ffed00 195px,#fff500 197px,#ffea00 199px,#ffbd00 202px,#ff5000 208px,#ff0a00 213px,#fe0000 214px,#c90000 220px,#9b0000 228px,#730000 240px,#510000 259px,#460000 269px,#400000 271px,#400000 282px,#350000 283px,#350000 300px,#2a0000 301px,#2a0000 325px,#200000 326px,#200000 366px,#150000 367px,#150000 395px)"></div><div style="height:2px;background:linear-gradient(90deg,#150000 0px,#150000 27px,#200000 28px,#200000 68px,#2a0000 69px,#2a0000 93px,#350000 94px,#350000 111px,#400000 112px,#400000 124px,#470000 126px,#660000 148px,#8c0000 162px,#b70000 171px,#e30000 177px,#ff0300 180px,#ff4600 185px,#ffd600 193px,#ffee00 195px,#fff600 197px,#ffea00 199px,#ffbe00 202px,#ff5000 208px,#ff0a00 213px,#fd0000 214px,#c80000 220px,#9b0000 228px,#730000 240px,#510000 259px,#450000 269px,#400000 271px,#400000 282px,#350000 283px,#350000 299px,#2a0000 300px,#2a0000 325px,#200000 326px,#200000 365px,#150000 366px,#150000 395px)"></div><div style="height:2px;background:linear-gradient(90deg,#150000 0px,#150000 28px,#200000 29px,#200000 68px,#2a0000 69px,#2a0000 94px,#350000 95px,#350000 111px,#400000 112px,#400000 124px,#460000 126px,#660000 148px,#8c0000 162px,#b60000 171px,#e30000 177px,#ff0200 180px,#ff4600 185px,#ffd600 193px,#ffef00 195px,#fff700 197px,#ffeb00 199px,#ffbe00 202px,#ff4f00 208px,#ff0900 213px,#fd0000 214px,#c80000 220px,#9a0000 228px,#720000 240px,#500000 259px,#450000 269px,#400000 271px,#400000 281px,#350000 282px,#350000 299px,#2a0000 300px,#2a0000 324px,#200000 325px,#200000 365px,#150000 366px,#150000 395px)"></div><div style="height:2px;background:linear-gradient(90deg,#150000 0px,#150000 29px,#200000 30px,#200000 69px,#2a0000 70px,#2a0000 94px,#350000 95px,#350000 112px,#400000 113px,#400000 124px,#470000 127px,#670000 149px,#8b0000 162px,#b60000 171px,#e20000 177px,#ff0200 180px,#ff4500 185px,#ffd700 193px,#fff000 195px,#fff800 197px,#ffec00 199px,#ffbf00 202px,#ff4f00 208px,#ff0900 213px,#fc0000 214px,#c70000 220px,#9a0000 228px,#720000 240px,#500000 259px,#460000 268px,#400000 269px,#400000 281px,#350000 282px,#350000 298px,#2a0000 299px,#2a0000 324px,#200000 325px,#200000 364px,#150000 365px,#150000 395px)"></div><div style="height:2px;background:linear-gradient(90deg,#150000 0px,#150000 30px,#200000 31px,#200000 69px,#2a0000 70px,#2a0000 95px,#350000 96px,#350000 112px,#400000 113px,#400000 125px,#470000 127px,#670000 149px,#8b0000 162px,#b50000 171px,#e20000 177px,#ff0100 180px,#ff4500 185px,#ffd800 193px,#fff100 195px,#fff900 197px,#ffed00 199px,#ffbf00 202px,#ff4f00 208px,#ff1400 212px,#fc0000 214px,#c70000 220px,#990000 228px,#720000 240px,#500000 259px,#460000 268px,#400000 270px,#400000 281px,#350000 282px,#350000 298px,#2a0000 299px,#2a0000 323px,#200000 324px,#200000 363px,#150000 364px,#150000 395px)"></div><div style="height:2px;background:linear-gradient(90deg,#150000 0px,#150000 30px,#200000 31px,#200000 70px,#2a0000 71px,#2a0000 95px,#350000 96px,#350000 112px,#400000 113px,#400000 125px,#470000 127px,#670000 149px,#8a0000 162px,#b50000 171px,#e10000 177px,#ff0100 180px,#ff4500 185px,#ffb400 191px,#ffe700 194px,#fff900 196px,#fff700 198px,#ffe100 200px,#ff9900 204px,#ff3e00 209px,#ff0800 213px,#fb0000 214px,#c60000 220px,#990000 228px,#710000 240px,#4f0000 259px,#450000 268px,#400000 270px,#400000 280px,#350000 281px,#350000 298px,#2a0000 299px,#2a0000 323px,#200000 324px,#200000 362px,#150000 363px,#150000 395px)"></div><div style="height:2px;background:linear-gradient(90deg,#150000 0px,#150000 31px,#200000 32px,#200000 70px,#2a0000 71px,#2a0000 95px,#350000 96px,#350000 113px,#400000 114px,#400000 125px,#460000 127px,#660000 149px,#8a0000 162px,#b40000 171px,#e10000 177px,#ff0000 180px,#ff4400 185px,#ffb400 191px,#ffe800 194px,#fffa00 196px,#fff800 198px,#ffe200 200px,#ff9900 204px,#ff3e00 209px,#ff0700 213px,#fb0000 214px,#c60000 220px,#990000 228px,#710000 240px,#4f0000 259px,#450000 268px,#400000 270px,#400000 280px,#350000 281px,#350000 297px,#2a0000 298px,#2a0000 322px,#200000 323px,#200000 362px,#150000 363px,#150000 395px)"></div><div style="height:2px;background:linear-gradient(90deg,#150000 0px,#150000 32px,#200000 33px,#200000 71px,#2a0000 72px,#2a0000 96px,#350000 97px,#350000 113px,#400000 114px,#400000 125px,#470000 128px,#680000 150px,#8d0000 163px,#ba0000 172px,#ea0000 178px,#ff0000 180px,#ff3400 184px,#ff7900 188px,#ffda00 193px,#fff400 195px,#fffc00 197px,#fff000 199px,#ffc000 202px,#ff4e00 208px,#ff1300 212px,#fa0000 214px,#c50000 220px,#980000 228px,#700000 240px,#4f0000 259px,#460000 267px,#400000 268px,#400000 280px,#350000 281px,#350000 297px,#2a0000 298px,#2a0000 322px,#200000 323px,#200000 361px,#150000 362px,#150000 395px)"></div><div style="height:2px;background:linear-gradient(90deg,#150000 0px,#150000 33px,#200000 34px,#200000 71px,#2a0000 72px,#2a0000 96px,#350000 97px,#350000 113px,#400000 114px,#400000 126px,#470000 128px,#680000 150px,#8d0000 163px,#ba0000 172px,#e90000 178px,#fe0000 180px,#ff3400 184px,#ff7900 188px,#ffda00 193px,#fff500 195px,#fffd00 197px,#fff100 199px,#ffc100 202px,#ff4d00 208px,#ff1200 212px,#ff0600 213px,#fa0000 214px,#c40000 220px,#980000 228px,#700000 240px,#4f0000 259px,#460000 267px,#400000 269px,#400000 279px,#350000 280px,#350000 296px,#2a0000 297px,#2a0000 321px,#200000 322px,#200000 360px,#150000 361px,#150000 395px)"></div><div style="height:2px;background:linear-gradient(90deg,#150000 0px,#150000 33px,#200000 34px,#200000 72px,#2a0000 73px,#2a0000 97px,#350000 98px,#350000 114px,#400000 115px,#400000 126px,#470000 128px,#670000 150px,#8c0000 163px,#b90000 172px,#e90000 178px,#fe0000 180px,#ff3300 184px,#ff7900 188px,#ffdb00 193px,#fff600 195px,#fffe00 197px,#fff200 199px,#ffc100 202px,#ff4d00 208px,#ff1200 212px,#ff0500 213px,#ef0000 215px,#bd0000 221px,#930000 229px,#6d0000 241px,#4c0000 261px,#450000 267px,#400000 269px,#400000 279px,#350000 280px,#350000 296px,#2a0000 297px,#2a0000 321px,#200000 322px,#200000 359px,#150000 360px,#150000 395px)"></div><div style="height:2px;background:linear-gradient(90deg,#150000 0px,#150000 34px,#200000 35px,#200000 73px,#2a0000 74px,#2a0000 97px,#350000 98px,#350000 114px,#400000 115px,#400000 126px,#460000 128px,#670000 150px,#8c0000 163px,#b80000 172px,#e80000 178px,#fd0000 180px,#ff2400 183px,#ff6500 187px,#ffdb00 193px,#fff600 195px,#ffff00 197px,#fff200 199px,#ffc100 202px,#ff4c00 208px,#ff1100 212px,#ff0500 213px,#ee0000 215px,#bc0000 221px,#920000 229px,#6d0000 241px,#4b0000 261px,#460000 266px,#400000 267px,#400000 279px,#350000 280px,#350000 296px,#2a0000 297px,#2a0000 320px,#200000 321px,#200000 358px,#150000 359px,#150000 395px)"></div><div style="height:2px;background:linear-gradient(90deg,#150000 0px,#150000 35px,#200000 36px,#200000 73px,#2a0000 74px,#2a0000 98px,#350000 99px,#350000 114px,#400000 115px,#400000 127px,#470000 129px,#670000 150px,#8b0000 163px,#b80000 172px,#e70000 178px,#fc0000 180px,#ff2300 183px,#ff6500 187px,#ffdb00 193px,#fff700 195px,#fffe00 196px,#fffc00 198px,#ffe500 200px,#ff4c00 208px,#ff1000 212px,#ff0400 213px,#e30000 216px,#b50000 222px,#8a0000 231px,#640000 245px,#460000 266px,#400000 268px,#400000 278px,#350000 279px,#350000 295px,#2a0000 296px,#2a0000 319px,#200000 320px,#200000 357px,#150000 358px,#150000 395px)"></div><div style="height:2px;background:linear-gradient(90deg,#150000 0px,#150000 36px,#200000 37px,#200000 74px,#2a0000 75px,#2a0000 98px,#350000 99px,#350000 115px,#400000 116px,#400000 127px,#470000 129px,#660000 150px,#8b0000 163px,#b70000 172px,#e60000 178px,#fb0000 180px,#ff1500 182px,#ff5200 186px,#ffdc00 193px,#fff800 195px,#ffff00 196px,#fffd00 198px,#ffe600 200px,#ff4b00 208px,#ff0f00 212px,#ff0300 213px,#c20000 220px,#950000 228px,#6e0000 240px,#4c0000 260px,#450000 266px,#400000 268px,#400000 278px,#350000 279px,#350000 294px,#2a0000 295px,#2a0000 319px,#200000 320px,#200000 356px,#150000 357px,#150000 395px)"></div><div style="height:2px;background:linear-gradient(90deg,#150000 0px,#150000 37px,#200000 38px,#200000 75px,#2a0000 76px,#2a0000 99px,#350000 100px,#350000 115px,#400000 116px,#400000 127px,#470000 130px,#680000 151px,#8e0000 164px,#b60000 172px,#e50000 178px,#fa0000 180px,#ff1400 182px,#ff5100 186px,#ffdc00 193px,#fff800 195px,#ffff01 196px,#ffff04 197px,#fffe00 198px,#ffe600 200px,#ff4a00 208px,#ff0e00 212px,#ff0200 213px,#c80000 219px,#990000 227px,#730000 238px,#510000 256px,#460000 265px,#400000 266px,#400000 277px,#350000 278px,#350000 294px,#2a0000 295px,#2a0000 318px,#200000 319px,#200000 355px,#150000 356px,#150000 395px)"></div><div style="height:2px;background:linear-gradient(90deg,#150000 0px,#150000 38px,#200000 39px,#200000 75px,#2a0000 76px,#2a0000 99px,#350000 100px,#350000 116px,#400000 117px,#400000 128px,#470000 130px,#670000 151px,#8d0000 164px,#b50000 172px,#e40000 178px,#f90000 180px,#ff0600 181px,#ff3f00 185px,#ff8a00 189px,#ffdc00 193px,#fff900 195px,#ffff02 196px,#ffff05 197px,#fffe00 198px,#ffe600 200px,#ff4900 208px,#ff0d00 212px,#ff0100 213px,#c70000 219px,#980000 227px,#720000 238px,#500000 256px,#450000 265px,#400000 267px,#400000 277px,#350000 278px,#350000 293px,#2a0000 294px,#2a0000 317px,#200000 318px,#200000 354px,#150000 355px,#150000 395px)"></div><div style="height:2px;background:linear-gradient(90deg,#150000 0px,#150000 39px,#200000 40px,#200000 76px,#2a0000 77px,#2a0000 100px,#350000 101px,#350000 116px,#400000 117px,#400000 128px,#460000 130px,#660000 151px,#8c0000 164px,#b40000 172px,#e30000 178px,#f80000 180px,#ff0500 181px,#ff3e00 185px,#ff8900 189px,#ffdc00 193px,#fff900 195px,#ffff06 197px,#ffff00 198px,#ffe600 200px,#ff4800 208px,#ff0c00 212px,#ff0000 213px,#ce0000 218px,#a10000 225px,#7a0000 235px,#570000 251px,#460000 264px,#400000 265px,#400000 276px,#350000 277px,#350000 293px,#2a0000 294px,#2a0000 316px,#200000 317px,#200000 353px,#150000 354px,#150000 395px)"></div><div style="height:2px;background:linear-gradient(90deg,#150000 0px,#150000 41px,#200000 42px,#200000 77px,#2a0000 78px,#2a0000 101px,#350000 102px,#350000 117px,#400000 118px,#400000 129px,#470000 131px,#680000 152px,#8b0000 164px,#b30000 172px,#e20000 178px,#ff0300 181px,#ff3c00 185px,#ff8800 189px,#ffdc00 193px,#fffa00 195px,#ffff06 197px,#ffff00 198px,#ffe600 200px,#ff4700 208px,#ff0b00 212px,#fe0000 213px,#cd0000 218px,#a00000 225px,#790000 235px,#560000 251px,#450000 264px,#400000 266px,#400000 276px,#350000 277px,#350000 292px,#2a0000 293px,#2a0000 315px,#200000 316px,#200000 352px,#150000 353px,#150000 395px)"></div><div style="height:2px;background:linear-gradient(90deg,#150000 0px,#150000 42px,#200000 43px,#200000 78px,#2a0000 79px,#2a0000 101px,#350000 102px,#350000 118px,#400000 119px,#400000 129px,#470000 132px,#670000 152px,#8a0000 164px,#b20000 172px,#e10000 178px,#ff0200 181px,#ff3b00 185px,#ff8700 189px,#ffdc00 193px,#fffa00 195px,#ffff07 197px,#ffff00 198px,#ffe600 200px,#ff5700 207px,#ff1700 211px,#fc0000 213px,#cb0000 218px,#9f0000 225px,#780000 235px,#560000 251px,#460000 263px,#400000 264px,#400000 275px,#350000 276px,#350000 291px,#2a0000 292px,#2a0000 314px,#200000 315px,#200000 351px,#150000 352px,#150000 395px)"></div><div style="height:2px;background:linear-gradient(90deg,#150000 0px,#150000 43px,#200000 44px,#200000 79px,#2a0000 80px,#2a0000 102px,#350000 103px,#350000 118px,#400000 119px,#400000 130px,#470000 132px,#660000 152px,#890000 164px,#b10000 172px,#df0000 178px,#ff0000 181px,#ff3900 185px,#ff8600 189px,#ffdb00 193px,#fffa00 195px,#ffff07 197px,#ffff01 198px,#ffe600 200px,#ff5600 207px,#ff1500 211px,#fb0000 213px,#ca0000 218px,#9d0000 225px,#770000 235px,#550000 251px,#450000 263px,#400000 265px,#400000 274px,#350000 275px,#350000 290px,#2a0000 291px,#2a0000 313px,#200000 314px,#200000 349px,#150000 350px,#150000 395px)"></div><div style="height:2px;background:linear-gradient(90deg,#150000 0px,#150000 45px,#200000 46px,#200000 80px,#2a0000 81px,#2a0000 103px,#350000 104px,#350000 119px,#400000 120px,#400000 131px,#470000 133px,#670000 153px,#8c0000 165px,#b50000 173px,#e70000 179px,#fd0000 181px,#ff2700 184px,#ff6f00 188px,#ffdb00 193px,#fffa00 195px,#ffff07 197px,#ffff01 198px,#ffe600 200px,#ff5400 207px,#ff1300 211px,#ff0600 212px,#ed0000 214px,#b90000 220px,#8e0000 228px,#690000 240px,#480000 260px,#460000 262px,#400000 264px,#400000 274px,#350000 275px,#350000 289px,#2a0000 290px,#2a0000 312px,#200000 313px,#200000 348px,#150000 349px,#150000 395px)"></div><div style="height:2px;background:linear-gradient(90deg,#150000 0px,#150000 47px,#200000 48px,#200000 82px,#2a0000 83px,#2a0000 104px,#350000 105px,#350000 120px,#400000 121px,#400000 131px,#480000 134px,#690000 154px,#8f0000 166px,#bb0000 174px,#e50000 179px,#fb0000 181px,#ff1600 183px,#ff5900 187px,#ffda00 193px,#fffa00 195px,#ffff07 197px,#ffff00 198px,#ffe500 200px,#ff5200 207px,#ff1100 211px,#ff0400 212px,#cf0000 217px,#a00000 224px,#780000 234px,#550000 250px,#460000 261px,#400000 262px,#400000 273px,#350000 274px,#350000 288px,#2a0000 289px,#2a0000 311px,#200000 312px,#200000 346px,#150000 347px,#150000 395px)"></div><div style="height:2px;background:linear-gradient(90deg,#150000 0px,#150000 48px,#200000 49px,#200000 83px,#2a0000 84px,#2a0000 105px,#350000 106px,#350000 121px,#400000 122px,#400000 132px,#470000 134px,#670000 154px,#8d0000 166px,#b80000 174px,#e30000 179px,#f90000 181px,#ff0600 182px,#ff4400 186px,#ff9600 190px,#ffeb00 194px,#fff900 195px,#ffff07 197px,#ffff00 198px,#ffe400 200px,#ff4f00 207px,#ff0e00 211px,#ff0100 212px,#cc0000 217px,#9e0000 224px,#760000 234px,#530000 250px,#460000 260px,#400000 261px,#400000 272px,#350000 273px,#350000 287px,#2a0000 288px,#2a0000 309px,#200000 310px,#200000 344px,#150000 345px,#150000 395px)"></div><div style="height:2px;background:linear-gradient(90deg,#150000 0px,#150000 51px,#200000 52px,#200000 85px,#2a0000 86px,#2a0000 107px,#350000 108px,#350000 122px,#400000 123px,#400000 133px,#470000 135px,#660000 154px,#8b0000 166px,#b60000 174px,#e00000 179px,#ff0300 182px,#ff4100 186px,#ff9400 190px,#ffea00 194px,#fff900 195px,#ffff04 196px,#ffff07 197px,#ffff00 198px,#ffe300 200px,#ff4c00 207px,#ff0b00 211px,#fd0000 212px,#ca0000 217px,#9b0000 224px,#740000 234px,#520000 250px,#460000 259px,#400000 260px,#400000 271px,#350000 272px,#350000 286px,#2a0000 287px,#2a0000 308px,#200000 309px,#200000 342px,#150000 343px,#150000 395px)"></div><div style="height:2px;background:linear-gradient(90deg,#150000 0px,#150000 53px,#200000 54px,#200000 87px,#2a0000 88px,#2a0000 108px,#350000 109px,#350000 123px,#400000 124px,#400000 134px,#470000 136px,#660000 155px,#8d0000 167px,#ba0000 175px,#e70000 180px,#ff0000 182px,#ff3d00 186px,#ff9100 190px,#ffea00 194px,#fff900 195px,#ffff04 196px,#ffff07 197px,#ffff00 198px,#ffe200 200px,#ff4900 207px,#ff0800 211px,#fa0000 212px,#c70000 217px,#990000 224px,#720000 234px,#510000 250px,#460000 258px,#400000 259px,#400000 269px,#350000 270px,#350000 284px,#2a0000 285px,#2a0000 306px,#200000 307px,#200000 340px,#150000 341px,#150000 395px)"></div><div style="height:2px;background:linear-gradient(90deg,#150000 0px,#150000 55px,#200000 56px,#200000 89px,#2a0000 90px,#2a0000 110px,#350000 111px,#350000 125px,#400000 126px,#400000 135px,#480000 138px,#670000 156px,#8b0000 167px,#b70000 175px,#e40000 180px,#fb0000 182px,#ff1900 184px,#ff6100 188px,#ffe900 194px,#fff800 195px,#ffff04 196px,#ffff07 197px,#ffff00 198px,#ffe100 200px,#ff5900 206px,#ff1300 210px,#ff0400 211px,#e00000 214px,#ae0000 220px,#850000 228px,#5f0000 241px,#460000 257px,#400000 258px,#400000 268px,#350000 269px,#350000 283px,#2a0000 284px,#2a0000 304px,#200000 305px,#200000 337px,#150000 338px,#150000 395px)"></div><div style="height:2px;background:linear-gradient(90deg,#150000 0px,#150000 58px,#200000 59px,#200000 90px,#2a0000 91px,#2a0000 111px,#350000 112px,#350000 126px,#400000 127px,#400000 136px,#480000 139px,#680000 157px,#8d0000 168px,#b50000 175px,#e10000 180px,#f80000 182px,#ff0700 183px,#ff4a00 187px,#ffa400 191px,#ffe800 194px,#fff800 195px,#ffff04 196px,#ffff08 197px,#ffff00 198px,#ffe000 200px,#ff5600 206px,#ff1f00 209px,#ff0100 211px,#c90000 216px,#9f0000 222px,#780000 231px,#540000 246px,#460000 256px,#400000 257px,#400000 267px,#350000 268px,#350000 281px,#2a0000 282px,#2a0000 302px,#200000 303px,#200000 335px,#150000 336px,#150000 394px,#0b0000 395px)"></div><div style="height:2px;background:linear-gradient(90deg,#0b0000 0px,#0b0000 2px,#150000 3px,#150000 60px,#200000 61px,#200000 92px,#2a0000 93px,#2a0000 113px,#350000 114px,#350000 127px,#400000 128px,#400000 137px,#480000 140px,#690000 158px,#8f0000 169px,#b90000 176px,#e90000 181px,#ff0300 183px,#ff3300 186px,#ff7200 189px,#ffe800 194px,#fff800 195px,#ffff05 196px,#ffff09 197px,#ffff01 198px,#fff300 199px,#ffc900 201px,#ff5300 206px,#ff1b00 209px,#fd0000 211px,#c70000 216px,#9d0000 222px,#760000 231px,#530000 246px,#460000 255px,#400000 256px,#400000 266px,#350000 267px,#350000 280px,#2a0000 281px,#2a0000 300px,#200000 301px,#200000 333px,#150000 334px,#150000 390px,#0b0000 391px,#0b0000 395px)"></div><div style="height:2px;background:linear-gradient(90deg,#0b0000 0px,#0b0000 6px,#150000 7px,#150000 62px,#200000 63px,#200000 94px,#2a0000 95px,#2a0000 114px,#350000 115px,#350000 128px,#400000 129px,#400000 138px,#480000 141px,#670000 158px,#8d0000 169px,#b70000 176px,#e60000 181px,#ff0000 183px,#ff3000 186px,#ff6f00 189px,#ffe800 194px,#fff900 195px,#ffff0b 197px,#ffff02 198px,#fff300 199px,#ffc900 201px,#ff5000 206px,#ff1800 209px,#ff0900 210px,#fa0000 211px,#c40000 216px,#9a0000 222px,#740000 231px,#520000 246px,#460000 254px,#400000 255px,#400000 264px,#350000 265px,#350000 278px,#2a0000 279px,#2a0000 299px,#200000 300px,#200000 330px,#150000 331px,#150000 387px,#0b0000 388px,#0b0000 395px)"></div><div style="height:2px;background:linear-gradient(90deg,#0b0000 0px,#0b0000 9px,#150000 10px,#150000 65px,#200000 66px,#200000 96px,#2a0000 97px,#2a0000 116px,#350000 117px,#350000 129px,#400000 130px,#400000 139px,#480000 142px,#680000 159px,#8b0000 169px,#b40000 176px,#e30000 181px,#fc0000 183px,#ff1c00 185px,#ff5600 188px,#ffe800 194px,#fffa00 195px,#ffff0d 197px,#ffff04 198px,#fff400 199px,#ffc800 201px,#ff6300 205px,#ff2600 208px,#ff0600 210px,#ea0000 212px,#b90000 217px,#8e0000 224px,#670000 235px,#460000 253px,#400000 254px,#400000 263px,#350000 264px,#350000 277px,#2a0000 278px,#2a0000 297px,#200000 298px,#200000 328px,#150000 329px,#150000 383px,#0b0000 384px,#0b0000 395px)"></div><div style="height:2px;background:linear-gradient(90deg,#0b0000 0px,#0b0000 13px,#150000 14px,#150000 67px,#200000 68px,#200000 98px,#2a0000 99px,#2a0000 117px,#350000 118px,#350000 131px,#400000 132px,#400000 140px,#480000 143px,#690000 160px,#8d0000 170px,#b90000 177px,#ec0000 182px,#f90000 183px,#ff0900 184px,#ff3d00 187px,#ff8300 190px,#ffe900 194px,#fffb00 195px,#ffff0c 196px,#ffff10 197px,#ffff06 198px,#fff500 199px,#ffc700 201px,#ff6000 205px,#ff2300 208px,#ff0300 210px,#c70000 215px,#9b0000 221px,#740000 230px,#520000 244px,#460000 252px,#400000 253px,#400000 262px,#350000 263px,#350000 276px,#2a0000 277px,#2a0000 295px,#200000 296px,#200000 325px,#150000 326px,#150000 380px,#0b0000 381px,#0b0000 395px)"></div><div style="height:2px;background:linear-gradient(90deg,#0b0000 0px,#0b0000 16px,#150000 17px,#150000 70px,#200000 71px,#200000 99px,#2a0000 100px,#2a0000 118px,#350000 119px,#350000 132px,#400000 133px,#400000 141px,#480000 144px,#670000 160px,#8b0000 170px,#b70000 177px,#e90000 182px,#ff0500 184px,#ff3a00 187px,#ff8000 190px,#ffe900 194px,#fffc00 195px,#ffff0e 196px,#ffff12 197px,#ffff08 198px,#fff500 199px,#ffc600 201px,#ff5d00 205px,#ff2000 208px,#fe0000 210px,#ce0000 214px,#9f0000 220px,#790000 228px,#560000 241px,#460000 251px,#400000 252px,#400000 261px,#350000 262px,#350000 274px,#2a0000 275px,#2a0000 293px,#200000 294px,#200000 323px,#150000 324px,#150000 377px,#0b0000 378px,#0b0000 395px)"></div><div style="height:2px;background:linear-gradient(90deg,#0b0000 0px,#0b0000 19px,#150000 20px,#150000 72px,#200000 73px,#200000 101px,#2a0000 102px,#2a0000 120px,#350000 121px,#350000 133px,#400000 134px,#400000 142px,#480000 145px,#680000 161px,#8e0000 171px,#b40000 177px,#e60000 182px,#ff0200 184px,#ff3700 187px,#ff7e00 190px,#ffe900 194px,#fffd00 195px,#ffff10 196px,#ffff15 197px,#ffff0a 198px,#fff600 199px,#ffc500 201px,#ff5a00 205px,#ff1c00 208px,#fb0000 210px,#cb0000 214px,#9c0000 220px,#730000 229px,#510000 243px,#460000 250px,#400000 251px,#400000 260px,#350000 261px,#350000 273px,#2a0000 274px,#2a0000 292px,#200000 293px,#200000 321px,#150000 322px,#150000 373px,#0b0000 374px,#0b0000 395px)"></div><div style="height:2px;background:linear-gradient(90deg,#0b0000 0px,#0b0000 22px,#150000 23px,#150000 74px,#200000 75px,#200000 103px,#2a0000 104px,#2a0000 121px,#350000 122px,#350000 134px,#400000 135px,#400000 143px,#480000 146px,#690000 162px,#910000 172px,#b90000 178px,#e30000 182px,#fe0000 184px,#ff3400 187px,#ff7b00 190px,#ffe900 194px,#fffe00 195px,#ffff12 196px,#ffff17 197px,#ffff0c 198px,#fff600 199px,#ffc400 201px,#ff5700 205px,#ff1900 208px,#ff0800 209px,#f80000 210px,#c80000 214px,#9a0000 220px,#710000 229px,#500000 243px,#460000 249px,#400000 250px,#400000 259px,#350000 260px,#350000 271px,#2a0000 272px,#2a0000 290px,#200000 291px,#200000 319px,#150000 320px,#150000 371px,#0b0000 372px,#0b0000 395px)"></div><div style="height:2px;background:linear-gradient(90deg,#0b0000 0px,#0b0000 25px,#150000 26px,#150000 76px,#200000 77px,#200000 104px,#2a0000 105px,#2a0000 122px,#350000 123px,#350000 135px,#400000 136px,#400000 144px,#490000 147px,#670000 162px,#8e0000 172px,#b70000 178px,#df0000 182px,#fb0000 184px,#ff0b00 185px,#ff4600 188px,#ff9400 191px,#ffe900 194px,#fffe00 195px,#ffff13 196px,#ffff18 197px,#ffff0d 198px,#fff600 199px,#ffc200 201px,#ff5400 205px,#ff1600 208px,#ff0500 209px,#e70000 211px,#b30000 216px,#870000 223px,#630000 233px,#450000 249px,#400000 251px,#400000 258px,#350000 259px,#350000 270px,#2a0000 271px,#2a0000 288px,#200000 289px,#200000 317px,#150000 318px,#150000 368px,#0b0000 369px,#0b0000 395px)"></div><div style="height:2px;background:linear-gradient(90deg,#0b0000 0px,#0b0000 27px,#150000 28px,#150000 78px,#200000 79px,#200000 106px,#2a0000 107px,#2a0000 124px,#350000 125px,#350000 136px,#400000 137px,#400000 145px,#470000 147px,#680000 163px,#8c0000 172px,#b40000 178px,#dc0000 182px,#f70000 184px,#ff0800 185px,#ff4300 188px,#ff9100 191px,#ffe800 194px,#fffe00 195px,#ffff14 196px,#ffff19 197px,#ffff0d 198px,#fff600 199px,#ffa300 202px,#ff5100 205px,#ff1200 208px,#ff0100 209px,#cc0000 213px,#a20000 218px,#780000 226px,#560000 238px,#450000 248px,#400000 250px,#400000 257px,#350000 258px,#350000 269px,#2a0000 270px,#2a0000 287px,#200000 288px,#200000 315px,#150000 316px,#150000 365px,#0b0000 366px,#0b0000 395px)"></div><div style="height:2px;background:linear-gradient(90deg,#0b0000 0px,#0b0000 30px,#150000 31px,#150000 80px,#200000 81px,#200000 107px,#2a0000 108px,#2a0000 125px,#350000 126px,#350000 137px,#400000 138px,#400000 146px,#470000 148px,#670000 163px,#8a0000 172px,#b10000 178px,#d90000 182px,#ff0400 185px,#ff3f00 188px,#ff8e00 191px,#ffe700 194px,#fffe00 195px,#ffff15 196px,#ffff1b 197px,#ffff0e 198px,#fff600 199px,#ffa000 202px,#ff4d00 205px,#ff0f00 208px,#fd0000 209px,#c90000 213px,#9f0000 218px,#760000 226px,#550000 238px,#450000 247px,#400000 249px,#400000 256px,#350000 257px,#350000 268px,#2a0000 269px,#2a0000 285px,#200000 286px,#200000 313px,#150000 314px,#150000 363px,#0b0000 364px,#0b0000 395px)"></div><div style="height:2px;background:linear-gradient(90deg,#0b0000 0px,#0b0000 32px,#150000 33px,#150000 81px,#200000 82px,#200000 109px,#2a0000 110px,#2a0000 126px,#350000 127px,#350000 138px,#400000 139px,#400000 147px,#480000 149px,#680000 164px,#8d0000 173px,#b70000 179px,#e20000 183px,#ff0100 185px,#ff3c00 188px,#ff8c00 191px,#ffe600 194px,#fffe00 195px,#ffff16 196px,#ffff1c 197px,#ffff0f 198px,#fff600 199px,#ff9e00 202px,#ff4a00 205px,#ff0b00 208px,#f90000 209px,#c60000 213px,#9c0000 218px,#740000 226px,#510000 239px,#460000 246px,#400000 248px,#400000 255px,#350000 256px,#350000 267px,#2a0000 268px,#2a0000 284px,#200000 285px,#200000 311px,#150000 312px,#150000 360px,#0b0000 361px,#0b0000 395px)"></div><div style="height:2px;background:linear-gradient(90deg,#0b0000 0px,#0b0000 34px,#150000 35px,#150000 83px,#200000 84px,#200000 110px,#2a0000 111px,#2a0000 127px,#350000 128px,#350000 139px,#400000 140px,#400000 148px,#480000 150px,#690000 165px,#900000 174px,#bd0000 180px,#ed0000 184px,#fc0000 185px,#ff2200 187px,#ff6b00 190px,#ffe600 194px,#fffe00 195px,#ffff17 196px,#ffff1d 197px,#ffff0f 198px,#fff500 199px,#ff6000 204px,#ff1a00 207px,#ff0800 208px,#f60000 209px,#c30000 213px,#9a0000 218px,#720000 226px,#500000 239px,#460000 245px,#400000 247px,#400000 254px,#350000 255px,#350000 265px,#2a0000 266px,#2a0000 283px,#200000 284px,#200000 309px,#150000 310px,#150000 358px,#0b0000 359px,#0b0000 395px)"></div><div style="height:2px;background:linear-gradient(90deg,#0b0000 0px,#0b0000 37px,#150000 38px,#150000 85px,#200000 86px,#200000 112px,#2a0000 113px,#2a0000 128px,#350000 129px,#350000 140px,#400000 141px,#400000 148px,#4b0000 153px,#6b0000 166px,#8d0000 174px,#ba0000 180px,#e90000 184px,#f90000 185px,#ff0b00 186px,#ff4d00 189px,#ffa500 192px,#ffe500 194px,#fffe00 195px,#ffff18 196px,#ffff1e 197px,#ffff10 198px,#fff500 199px,#ff5d00 204px,#ff1600 207px,#ff0400 208px,#cb0000 212px,#9e0000 217px,#780000 224px,#540000 236px,#460000 244px,#400000 245px,#400000 253px,#350000 254px,#350000 264px,#2a0000 265px,#2a0000 281px,#200000 282px,#200000 308px,#150000 309px,#150000 356px,#0b0000 357px,#0b0000 395px)"></div><div style="height:2px;background:linear-gradient(90deg,#0b0000 0px,#0b0000 39px,#150000 40px,#150000 87px,#200000 88px,#200000 113px,#2a0000 114px,#2a0000 130px,#350000 131px,#350000 141px,#400000 142px,#400000 149px,#4a0000 153px,#690000 166px,#8b0000 174px,#b70000 180px,#e60000 184px,#f50000 185px,#ff0700 186px,#ff4900 189px,#ffa300 192px,#ffe400 194px,#fffe00 195px,#ffff18 196px,#ffff1f 197px,#ffff10 198px,#fff400 199px,#ff5900 204px,#ff1300 207px,#ff0000 208px,#c70000 212px,#9b0000 217px,#760000 224px,#530000 236px,#460000 243px,#400000 244px,#400000 252px,#350000 253px,#350000 263px,#2a0000 264px,#2a0000 280px,#200000 281px,#200000 306px,#150000 307px,#150000 354px,#0b0000 355px,#0b0000 395px)"></div><div style="height:2px;background:linear-gradient(90deg,#0b0000 0px,#0b0000 41px,#150000 42px,#150000 88px,#200000 89px,#200000 114px,#2a0000 115px,#2a0000 131px,#350000 132px,#350000 142px,#400000 143px,#400000 150px,#490000 153px,#6a0000 167px,#8e0000 175px,#b40000 180px,#e30000 184px,#ff0400 186px,#ff4500 189px,#ffa000 192px,#ffe300 194px,#fffe00 195px,#ffff19 196px,#ffff20 197px,#ffff11 198px,#fff400 199px,#ff5600 204px,#ff0f00 207px,#fc0000 208px,#d00000 211px,#a00000 216px,#780000 223px,#560000 234px,#460000 242px,#400000 243px,#400000 251px,#350000 252px,#350000 262px,#2a0000 263px,#2a0000 278px,#200000 279px,#200000 304px,#150000 305px,#150000 351px,#0b0000 352px,#0b0000 395px)"></div><div style="height:2px;background:linear-gradient(90deg,#0b0000 0px,#0b0000 44px,#150000 45px,#150000 90px,#200000 91px,#200000 116px,#2a0000 117px,#2a0000 132px,#350000 133px,#350000 143px,#400000 144px,#400000 151px,#490000 154px,#680000 167px,#8c0000 175px,#b10000 180px,#df0000 184px,#ff0000 186px,#ff4200 189px,#ff9d00 192px,#ffe200 194px,#fffe00 195px,#ffff1a 196px,#ffff21 197px,#ffff11 198px,#fff400 199px,#ff5200 204px,#ff0c00 207px,#f80000 208px,#cd0000 211px,#9d0000 216px,#760000 223px,#540000 234px,#450000 242px,#400000 244px,#400000 250px,#350000 251px,#350000 261px,#2a0000 262px,#2a0000 277px,#200000 278px,#200000 303px,#150000 304px,#150000 349px,#0b0000 350px,#0b0000 395px)"></div><div style="height:2px;background:linear-gradient(90deg,#0b0000 0px,#0b0000 46px,#150000 47px,#150000 92px,#200000 93px,#200000 117px,#2a0000 118px,#2a0000 133px,#350000 134px,#350000 144px,#400000 145px,#400000 152px,#480000 154px,#660000 167px,#8a0000 175px,#ae0000 180px,#dc0000 184px,#fc0000 186px,#ff2600 188px,#ff5a00 190px,#ffe100 194px,#fffe00 195px,#ffff1b 196px,#ffff22 197px,#ffff12 198px,#fff300 199px,#ff6c00 203px,#ff3400 205px,#ff0800 207px,#f50000 208px,#ca0000 211px,#9b0000 216px,#740000 223px,#530000 234px,#460000 241px,#400000 243px,#400000 249px,#350000 250px,#350000 260px,#2a0000 261px,#2a0000 276px,#200000 277px,#200000 301px,#150000 302px,#150000 347px,#0b0000 348px,#0b0000 395px)"></div><div style="height:2px;background:linear-gradient(90deg,#0b0000 0px,#0b0000 48px,#150000 49px,#150000 94px,#200000 95px,#200000 118px,#2a0000 119px,#2a0000 134px,#350000 135px,#350000 145px,#400000 146px,#400000 153px,#480000 155px,#680000 168px,#8d0000 176px,#b50000 181px,#e80000 185px,#f80000 186px,#ff0c00 187px,#ff3b00 189px,#ff7600 191px,#ffe000 194px,#fffe00 195px,#ffff1d 196px,#ffff24 197px,#ffff13 198px,#fff300 199px,#ff6900 203px,#ff3000 205px,#ff0500 207px,#e10000 209px,#b10000 213px,#850000 219px,#600000 228px,#460000 240px,#400000 241px,#400000 248px,#350000 249px,#350000 259px,#2a0000 260px,#2a0000 274px,#200000 275px,#200000 299px,#150000 300px,#150000 344px,#0b0000 345px,#0b0000 395px)"></div><div style="height:2px;background:linear-gradient(90deg,#0b0000 0px,#0b0000 51px,#150000 52px,#150000 95px,#200000 96px,#200000 120px,#2a0000 121px,#2a0000 135px,#350000 136px,#350000 146px,#400000 147px,#400000 153px,#4c0000 158px,#6e0000 170px,#920000 177px,#bd0000 182px,#e40000 185px,#f50000 186px,#ff0900 187px,#ff3700 189px,#ff7300 191px,#ffdf00 194px,#fffe00 195px,#ffff1e 196px,#ffff26 197px,#ffff14 198px,#fff200 199px,#ff6600 203px,#ff2d00 205px,#ff0100 207px,#d00000 210px,#a50000 214px,#7e0000 220px,#590000 230px,#460000 239px,#400000 240px,#400000 247px,#350000 248px,#350000 257px,#2a0000 258px,#2a0000 273px,#200000 274px,#200000 297px,#150000 298px,#150000 342px,#0b0000 343px,#0b0000 395px)"></div><div style="height:2px;background:linear-gradient(90deg,#0b0000 0px,#0b0000 53px,#150000 54px,#150000 97px,#200000 98px,#200000 121px,#2a0000 122px,#2a0000 136px,#350000 137px,#350000 147px,#400000 148px,#400000 154px,#490000 157px,#680000 169px,#8f0000 177px,#ba0000 182px,#e10000 185px,#ff0600 187px,#ff3400 189px,#ff7000 191px,#ffde00 194px,#fffe00 195px,#ffff20 196px,#ffff28 197px,#ffff15 198px,#fff200 199px,#ff6300 203px,#ff2a00 205px,#fd0000 207px,#cd0000 210px,#a30000 214px,#7c0000 220px,#580000 230px,#400000 241px,#400000 246px,#350000 247px,#350000 256px,#2a0000 257px,#2a0000 272px,#200000 273px,#200000 296px,#150000 297px,#150000 339px,#0b0000 340px,#0b0000 395px)"></div><div style="height:2px;background:linear-gradient(90deg,#0b0000 0px,#0b0000 56px,#150000 57px,#150000 99px,#200000 100px,#200000 122px,#2a0000 123px,#2a0000 137px,#350000 138px,#350000 147px,#400000 148px,#400000 155px,#480000 157px,#670000 169px,#8d0000 177px,#b80000 182px,#de0000 185px,#ff0300 187px,#ff3100 189px,#ff6d00 191px,#ffff00 195px,#ffff22 196px,#ffff2a 197px,#ffff17 198px,#fff300 199px,#ff6000 203px,#ff2700 205px,#ff0f00 206px,#fa0000 207px,#cb0000 210px,#a10000 214px,#7a0000 220px,#560000 230px,#460000 238px,#400000 240px,#400000 245px,#350000 246px,#350000 255px,#2a0000 256px,#2a0000 270px,#200000 271px,#200000 294px,#150000 295px,#150000 337px,#0b0000 338px,#0b0000 395px)"></div><div style="height:2px;background:linear-gradient(90deg,#0b0000 0px,#0b0000 59px,#150000 60px,#150000 101px,#200000 102px,#200000 124px,#2a0000 125px,#2a0000 138px,#350000 139px,#350000 148px,#400000 149px,#400000 155px,#690000 170px,#8b0000 177px,#b50000 182px,#dc0000 185px,#ff0000 187px,#ff2e00 189px,#ff6b00 191px,#ffdd00 194px,#ffff01 195px,#ffff24 196px,#ffff2d 197px,#ffff19 198px,#fff300 199px,#ff5d00 203px,#ff2400 205px,#ff0d00 206px,#f70000 207px,#c80000 210px,#9e0000 214px,#780000 220px,#550000 230px,#460000 237px,#400000 238px,#400000 244px,#350000 245px,#350000 254px,#2a0000 255px,#2a0000 269px,#200000 270px,#200000 292px,#150000 293px,#150000 334px,#0b0000 335px,#0b0000 395px)"></div><div style="height:2px;background:linear-gradient(90deg,#0b0000 0px,#0b0000 61px,#150000 62px,#150000 102px,#200000 103px,#200000 125px,#2a0000 126px,#2a0000 139px,#350000 140px,#350000 149px,#400000 150px,#400000 156px,#4a0000 159px,#6b0000 171px,#900000 178px,#be0000 183px,#ea0000 186px,#fc0000 187px,#ff1300 188px,#ff4800 190px,#ff8d00 192px,#ffdd00 194px,#ffff02 195px,#ffff27 196px,#ffff30 197px,#ffff1b 198px,#fff300 199px,#ff7e00 202px,#ff3c00 204px,#ff0a00 206px,#f40000 207px,#c60000 210px,#9c0000 214px,#760000 220px,#540000 230px,#400000 239px,#400000 244px,#350000 245px,#350000 253px,#2a0000 254px,#2a0000 268px,#200000 269px,#200000 290px,#150000 291px,#150000 331px,#0b0000 332px,#0b0000 395px)"></div><div style="height:2px;background:linear-gradient(90deg,#0b0000 0px,#0b0000 64px,#150000 65px,#150000 104px,#200000 105px,#200000 126px,#2a0000 127px,#2a0000 140px,#350000 141px,#350000 150px,#400000 151px,#400000 157px,#480000 159px,#690000 171px,#8e0000 178px,#bc0000 183px,#e70000 186px,#f90000 187px,#ff1000 188px,#ff4500 190px,#ff8b00 192px,#ffdd00 194px,#ffff04 195px,#ffff29 196px,#ffff33 197px,#ffff1d 198px,#fff400 199px,#ff7c00 202px,#ff3900 204px,#ff0700 206px,#f20000 207px,#c30000 210px,#9a0000 214px,#750000 220px,#520000 230px,#460000 236px,#400000 238px,#400000 243px,#350000 244px,#350000 252px,#2a0000 253px,#2a0000 266px,#200000 267px,#200000 288px,#150000 289px,#150000 328px,#0b0000 329px,#0b0000 395px)"></div><div style="height:2px;background:linear-gradient(90deg,#0b0000 0px,#0b0000 67px,#150000 68px,#150000 106px,#200000 107px,#200000 127px,#2a0000 128px,#2a0000 141px,#350000 142px,#350000 151px,#400000 152px,#400000 157px,#6c0000 172px,#930000 179px,#b90000 183px,#e40000 186px,#f70000 187px,#ff0d00 188px,#ff4200 190px,#ff8900 192px,#ffdc00 194px,#ffff05 195px,#ffff2c 196px,#ffff36 197px,#ffff20 198px,#fff400 199px,#ff7900 202px,#ff3600 204px,#ff0400 206px,#ce0000 209px,#a00000 213px,#780000 219px,#560000 228px,#460000 235px,#400000 236px,#400000 242px,#350000 243px,#350000 251px,#2a0000 252px,#2a0000 265px,#200000 266px,#200000 287px,#150000 288px,#150000 325px,#0b0000 326px,#0b0000 395px)"></div><div style="height:2px;background:linear-gradient(90deg,#0b0000 0px,#0b0000 70px,#150000 71px,#150000 108px,#200000 109px,#200000 129px,#2a0000 130px,#2a0000 142px,#350000 143px,#350000 151px,#400000 152px,#400000 158px,#4a0000 161px,#6a0000 172px,#910000 179px,#b70000 183px,#e10000 186px,#f40000 187px,#ff0a00 188px,#ff3f00 190px,#ff8600 192px,#ffdc00 194px,#ffff06 195px,#ffff2f 196px,#ffff39 197px,#ffff22 198px,#fff400 199px,#ff7700 202px,#ff3300 204px,#ff0100 206px,#cb0000 209px,#9e0000 213px,#760000 219px,#550000 228px,#400000 237px,#400000 241px,#350000 242px,#350000 250px,#2a0000 251px,#2a0000 264px,#200000 265px,#200000 285px,#150000 286px,#150000 322px,#0b0000 323px,#0b0000 395px)"></div><div style="height:2px;background:linear-gradient(90deg,#0b0000 0px,#0b0000 73px,#150000 74px,#150000 110px,#200000 111px,#200000 130px,#2a0000 131px,#2a0000 143px,#350000 144px,#350000 152px,#400000 153px,#400000 159px,#480000 161px,#680000 172px,#8f0000 179px,#b40000 183px,#de0000 186px,#f00000 187px,#ff0600 188px,#ff3c00 190px,#ff8400 192px,#ffdb00 194px,#ffff07 195px,#ffff31 196px,#ffff3c 197px,#ffff24 198px,#fff400 199px,#ff7400 202px,#ff3000 204px,#ff1500 205px,#fd0000 206px,#c80000 209px,#9c0000 213px,#740000 219px,#530000 228px,#460000 234px,#400000 236px,#400000 240px,#350000 241px,#350000 249px,#2a0000 250px,#2a0000 262px,#200000 263px,#200000 283px,#150000 284px,#150000 319px,#0b0000 320px,#0b0000 395px)"></div><div style="height:2px;background:linear-gradient(90deg,#0b0000 0px,#0b0000 76px,#150000 77px,#150000 112px,#200000 113px,#200000 132px,#2a0000 133px,#2a0000 144px,#350000 145px,#350000 153px,#400000 154px,#400000 160px,#490000 162px,#6a0000 173px,#8c0000 179px,#b10000 183px,#da0000 186px,#ff0300 188px,#ff3800 190px,#ff8000 192px,#ffd900 194px,#ffff07 195px,#ffff34 196px,#ffff3f 197px,#ffff25 198px,#fff400 199px,#ff7000 202px,#ff2c00 204px,#ff1100 205px,#f90000 206px,#c50000 209px,#990000 213px,#720000 219px,#4f0000 229px,#460000 233px,#400000 234px,#400000 239px,#350000 240px,#350000 248px,#2a0000 249px,#2a0000 261px,#200000 262px,#200000 281px,#150000 282px,#150000 316px,#0b0000 317px,#0b0000 395px)"></div><div style="height:2px;background:linear-gradient(90deg,#0b0000 0px,#0b0000 79px,#150000 80px,#150000 114px,#200000 115px,#200000 133px,#2a0000 134px,#2a0000 146px,#350000 147px,#350000 154px,#400000 155px,#400000 160px,#680000 173px,#890000 179px,#ad0000 183px,#d60000 186px,#fd0000 188px,#ff3400 190px,#ff7c00 192px,#ffd800 194px,#ffff07 195px,#ffff36 196px,#ffff42 197px,#ffff27 198px,#fff300 199px,#ff6c00 202px,#ff2700 204px,#ff0d00 205px,#f50000 206px,#c10000 209px,#960000 213px,#6f0000 219px,#4d0000 229px,#460000 232px,#400000 233px,#400000 238px,#350000 239px,#350000 247px,#2a0000 248px,#2a0000 259px,#200000 260px,#200000 279px,#150000 280px,#150000 313px,#0b0000 314px,#0b0000 395px)"></div><div style="height:2px;background:linear-gradient(90deg,#0b0000 0px,#0b0000 83px,#150000 84px,#150000 116px,#200000 117px,#200000 135px,#2a0000 136px,#2a0000 147px,#350000 148px,#350000 155px,#400000 156px,#400000 161px,#6a0000 174px,#8e0000 180px,#b50000 184px,#e40000 187px,#f90000 188px,#ff1200 189px,#ff5100 191px,#ffa500 193px,#ffd600 194px,#ffff07 195px,#ffff38 196px,#ffff45 197px,#ffff28 198px,#fff200 199px,#ff9300 201px,#ff4300 203px,#ff0800 205px,#f00000 206px,#bd0000 209px,#920000 213px,#6d0000 219px,#4b0000 229px,#470000 231px,#400000 232px,#400000 237px,#350000 238px,#350000 246px,#2a0000 247px,#2a0000 258px,#200000 259px,#200000 277px,#150000 278px,#150000 310px,#0b0000 311px,#0b0000 395px)"></div><div style="height:2px;background:linear-gradient(90deg,#0b0000 0px,#0b0000 86px,#150000 87px,#150000 118px,#200000 119px,#200000 136px,#2a0000 137px,#2a0000 148px,#350000 149px,#350000 156px,#400000 157px,#400000 162px,#520000 168px,#710000 176px,#930000 181px,#bf0000 185px,#f40000 188px,#ff0d00 189px,#ff4c00 191px,#ffa200 193px,#ffd400 194px,#ffff06 195px,#ffff3a 196px,#ffff48 197px,#ffff29 198px,#fff100 199px,#ff8f00 201px,#ff6300 202px,#ff1e00 204px,#ff0300 205px,#c80000 208px,#a20000 211px,#7a0000 216px,#570000 224px,#470000 230px,#400000 231px,#400000 236px,#350000 237px,#350000 244px,#2a0000 245px,#2a0000 256px,#200000 257px,#200000 274px,#150000 275px,#150000 307px,#0b0000 308px,#0b0000 395px)"></div><div style="height:2px;background:linear-gradient(90deg,#0b0000 0px,#0b0000 89px,#150000 90px,#150000 120px,#200000 121px,#200000 138px,#2a0000 139px,#2a0000 149px,#350000 150px,#350000 157px,#400000 158px,#400000 163px,#4d0000 167px,#6e0000 176px,#8f0000 181px,#bb0000 185px,#f00000 188px,#ff0900 189px,#ff4700 191px,#ff6f00 192px,#ffd100 194px,#ffff06 195px,#ffff3c 196px,#ffff4b 197px,#ffff2a 198px,#fff000 199px,#ff8b00 201px,#ff5e00 202px,#ff1900 204px,#fe0000 205px,#d40000 207px,#a90000 210px,#840000 214px,#5f0000 221px,#400000 232px,#400000 235px,#350000 236px,#350000 243px,#2a0000 244px,#2a0000 255px,#200000 256px,#200000 272px,#150000 273px,#150000 304px,#0b0000 305px,#0b0000 395px)"></div><div style="height:2px;background:linear-gradient(90deg,#0b0000 0px,#0b0000 92px,#150000 93px,#150000 123px,#200000 124px,#200000 140px,#2a0000 141px,#2a0000 151px,#350000 152px,#350000 158px,#400000 159px,#400000 164px,#4b0000 167px,#6c0000 176px,#8c0000 181px,#b70000 185px,#eb0000 188px,#ff0400 189px,#ff4200 191px,#ff6b00 192px,#ffcf00 194px,#ffff05 195px,#ffff3e 196px,#ffff4e 197px,#ffff2c 198px,#ffef00 199px,#ff8600 201px,#ff5a00 202px,#ff3400 203px,#ff1400 204px,#f90000 205px,#d00000 207px,#a50000 210px,#810000 214px,#5d0000 221px,#400000 231px,#400000 234px,#350000 235px,#350000 242px,#2a0000 243px,#2a0000 253px,#200000 254px,#200000 270px,#150000 271px,#150000 300px,#0b0000 301px,#0b0000 395px)"></div><div style="height:2px;background:linear-gradient(90deg,#0b0000 0px,#0b0000 96px,#150000 97px,#150000 125px,#200000 126px,#200000 141px,#2a0000 142px,#2a0000 152px,#350000 153px,#350000 159px,#400000 160px,#400000 165px,#4a0000 167px,#690000 176px,#890000 181px,#b30000 185px,#e70000 188px,#fe0000 189px,#ff1c00 190px,#ff3e00 191px,#ff6700 192px,#ffcd00 194px,#ffff05 195px,#ffff41 196px,#ffff51 197px,#ffff2d 198px,#ffed00 199px,#ff8300 201px,#ff5500 202px,#ff2f00 203px,#ff1000 204px,#f40000 205px,#cc0000 207px,#a20000 210px,#780000 215px,#570000 222px,#460000 228px,#400000 229px,#400000 233px,#350000 234px,#350000 241px,#2a0000 242px,#2a0000 251px,#200000 252px,#200000 268px,#150000 269px,#150000 297px,#0b0000 298px,#0b0000 395px)"></div><div style="height:2px;background:linear-gradient(90deg,#0b0000 0px,#0b0000 99px,#150000 100px,#150000 127px,#200000 128px,#200000 143px,#2a0000 144px,#2a0000 153px,#350000 154px,#350000 160px,#400000 161px,#400000 165px,#670000 176px,#860000 181px,#b00000 185px,#e30000 188px,#fa0000 189px,#ff1800 190px,#ff3a00 191px,#ff6300 192px,#ff9300 193px,#ffff05 195px,#ffff44 196px,#ffff55 197px,#ffff2f 198px,#ffed00 199px,#ff7f00 201px,#ff5100 202px,#ff2b00 203px,#ff0c00 204px,#f10000 205px,#c80000 207px,#9f0000 210px,#750000 215px,#520000 223px,#470000 227px,#400000 228px,#400000 232px,#350000 233px,#350000 240px,#2a0000 241px,#2a0000 250px,#200000 251px,#200000 266px,#150000 267px,#150000 294px,#0b0000 295px,#0b0000 395px)"></div><div style="height:2px;background:linear-gradient(90deg,#0b0000 0px,#0b0000 102px,#150000 103px,#150000 129px,#200000 130px,#200000 144px,#2a0000 145px,#2a0000 154px,#350000 155px,#350000 161px,#400000 162px,#400000 166px,#6a0000 177px,#8c0000 182px,#ad0000 185px,#df0000 188px,#f70000 189px,#ff1400 190px,#ff3600 191px,#ff5f00 192px,#ff9100 193px,#ffff05 195px,#ffff47 196px,#ffff59 197px,#ffff31 198px,#ffec00 199px,#ff7c00 201px,#ff4e00 202px,#ff2800 203px,#ff0800 204px,#ed0000 205px,#c50000 207px,#9c0000 210px,#730000 215px,#500000 223px,#400000 229px,#400000 232px,#350000 233px,#350000 239px,#2a0000 240px,#2a0000 249px,#200000 250px,#200000 264px,#150000 265px,#150000 290px,#0b0000 291px,#0b0000 395px)"></div><div style="height:2px;background:linear-gradient(90deg,#0b0000 0px,#0b0000 106px,#150000 107px,#150000 131px,#200000 132px,#200000 146px,#2a0000 147px,#2a0000 155px,#350000 156px,#350000 162px,#400000 163px,#400000 167px,#4d0000 170px,#6d0000 178px,#930000 183px,#b80000 186px,#dc0000 188px,#f30000 189px,#ff1000 190px,#ff3200 191px,#ff5c00 192px,#ff8e00 193px,#ffc800 194px,#ffff06 195px,#ffff4b 196px,#ffff5e 197px,#ffff34 198px,#ffec00 199px,#ff7900 201px,#ff4a00 202px,#ff2400 203px,#ff0500 204px,#d40000 206px,#a50000 209px,#7e0000 213px,#5d0000 219px,#400000 227px,#400000 231px,#350000 232px,#350000 238px,#2a0000 239px,#2a0000 247px,#200000 248px,#200000 261px,#150000 262px,#150000 287px,#0b0000 288px,#0b0000 395px)"></div><div style="height:2px;background:linear-gradient(90deg,#0b0000 0px,#0b0000 109px,#150000 110px,#150000 133px,#200000 134px,#200000 147px,#2a0000 148px,#2a0000 156px,#350000 157px,#350000 163px,#400000 164px,#400000 167px,#660000 177px,#870000 182px,#a70000 185px,#d90000 188px,#f00000 189px,#ff0d00 190px,#ff2f00 191px,#ff5900 192px,#ff8b00 193px,#ffc600 194px,#ffff07 195px,#ffff50 196px,#ffff64 197px,#ffff37 198px,#ffec00 199px,#ff7600 201px,#ff4700 202px,#ff2100 203px,#ff0100 204px,#d10000 206px,#a20000 209px,#7c0000 213px,#5b0000 219px,#470000 225px,#400000 226px,#400000 230px,#350000 231px,#350000 236px,#2a0000 237px,#2a0000 246px,#200000 247px,#200000 259px,#150000 260px,#150000 283px,#0b0000 284px,#0b0000 395px)"></div><div style="height:2px;background:linear-gradient(90deg,#0b0000 0px,#0b0000 113px,#150000 114px,#150000 136px,#200000 137px,#200000 149px,#2a0000 150px,#2a0000 157px,#350000 158px,#350000 163px,#400000 164px,#400000 168px,#690000 178px,#8e0000 183px,#b20000 186px,#d60000 188px,#ed0000 189px,#ff0a00 190px,#ff2c00 191px,#ff5600 192px,#ff8900 193px,#ffc500 194px,#ffff08 195px,#ffff54 196px,#ffff69 197px,#ffff3a 198px,#ffec00 199px,#ffac00 200px,#ff7300 201px,#ff4400 202px,#ff1d00 203px,#fd0000 204px,#ce0000 206px,#9f0000 209px,#7a0000 213px,#590000 219px,#400000 226px,#400000 229px,#350000 230px,#350000 235px,#2a0000 236px,#2a0000 244px,#200000 245px,#200000 257px,#150000 258px,#150000 279px,#0b0000 280px,#0b0000 395px)"></div><div style="height:2px;background:linear-gradient(90deg,#0b0000 0px,#0b0000 117px,#150000 118px,#150000 138px,#200000 139px,#200000 150px,#2a0000 151px,#2a0000 158px,#350000 159px,#350000 164px,#400000 165px,#400000 169px,#4d0000 172px,#6d0000 179px,#960000 184px,#bf0000 187px,#e90000 189px,#ff0600 190px,#ff2800 191px,#ff5200 192px,#ff8600 193px,#ffc400 194px,#ffff09 195px,#ffff58 196px,#ffff6e 197px,#ffff3d 198px,#ffeb00 199px,#ffaa00 200px,#ff7000 201px,#ff4000 202px,#ff1a00 203px,#f90000 204px,#ca0000 206px,#9d0000 209px,#770000 213px,#530000 220px,#400000 225px,#400000 228px,#350000 229px,#350000 234px,#2a0000 235px,#2a0000 242px,#200000 243px,#200000 255px,#150000 256px,#150000 276px,#0b0000 277px,#0b0000 395px)"></div><div style="height:2px;background:linear-gradient(90deg,#0b0000 0px,#0b0000 121px,#150000 122px,#150000 140px,#200000 141px,#200000 152px,#2a0000 153px,#2a0000 160px,#350000 161px,#350000 165px,#400000 166px,#400000 170px,#4b0000 172px,#6a0000 179px,#930000 184px,#bc0000 187px,#e60000 189px,#ff0200 190px,#ff2400 191px,#ff4f00 192px,#ff8300 193px,#ffc200 194px,#ffff09 195px,#ffff5c 196px,#ffff74 197px,#ffff40 198px,#ffea00 199px,#ffa700 200px,#ff6d00 201px,#ff3d00 202px,#ff1600 203px,#f60000 204px,#c70000 206px,#9a0000 209px,#750000 213px,#510000 220px,#400000 224px,#400000 227px,#350000 228px,#350000 233px,#2a0000 234px,#2a0000 241px,#200000 242px,#200000 252px,#150000 253px,#150000 272px,#0b0000 273px,#0b0000 395px)"></div><div style="height:2px;background:linear-gradient(90deg,#0b0000 0px,#0b0000 124px,#150000 125px,#150000 143px,#200000 144px,#200000 154px,#2a0000 155px,#2a0000 161px,#350000 162px,#350000 166px,#400000 167px,#400000 170px,#670000 179px,#900000 184px,#b80000 187px,#e10000 189px,#fd0000 190px,#ff2000 191px,#ff4a00 192px,#ff7f00 193px,#ffbf00 194px,#ffff09 195px,#ffff60 196px,#ffff79 197px,#ffff42 198px,#ffe900 199px,#ffa400 200px,#ff6800 201px,#ff3800 202px,#ff1100 203px,#f10000 204px,#c30000 206px,#960000 209px,#720000 213px,#4e0000 220px,#400000 223px,#400000 226px,#350000 227px,#350000 232px,#2a0000 233px,#2a0000 239px,#200000 240px,#200000 250px,#150000 251px,#150000 268px,#0b0000 269px,#0b0000 395px)"></div><div style="height:2px;background:linear-gradient(90deg,#0b0000 0px,#0b0000 128px,#150000 129px,#150000 145px,#200000 146px,#200000 155px,#2a0000 156px,#2a0000 162px,#350000 163px,#350000 167px,#400000 168px,#400000 171px,#6b0000 180px,#8c0000 184px,#b40000 187px,#dd0000 189px,#f80000 190px,#ff1b00 191px,#ff4500 192px,#ff7a00 193px,#ffbc00 194px,#ffff07 195px,#ffff63 196px,#ffff7d 197px,#ffff43 198px,#ffe700 199px,#ffa000 200px,#ff6400 201px,#ff3300 202px,#ff0d00 203px,#ed0000 204px,#bf0000 206px,#930000 209px,#6f0000 213px,#4c0000 220px,#400000 222px,#400000 225px,#350000 226px,#350000 230px,#2a0000 231px,#2a0000 237px,#200000 238px,#200000 248px,#150000 249px,#150000 265px,#0b0000 266px,#0b0000 395px)"></div><div style="height:2px;background:linear-gradient(90deg,#0b0000 0px,#0b0000 132px,#150000 133px,#150000 148px,#200000 149px,#200000 157px,#2a0000 158px,#2a0000 164px,#350000 165px,#350000 168px,#400000 169px,#400000 172px,#6e0000 181px,#940000 185px,#c20000 188px,#f30000 190px,#ff1600 191px,#ff4000 192px,#ff7600 193px,#ffff05 195px,#ffff65 196px,#ffff81 197px,#ffff44 198px,#ffe400 199px,#ff9c00 200px,#ff5f00 201px,#ff2e00 202px,#ff0700 203px,#e80000 204px,#ba0000 206px,#8f0000 209px,#6c0000 213px,#490000 220px,#400000 222px,#400000 224px,#350000 225px,#350000 229px,#2a0000 230px,#2a0000 236px,#200000 237px,#200000 245px,#150000 246px,#150000 261px,#0b0000 262px,#0b0000 395px)"></div><div style="height:2px;background:linear-gradient(90deg,#0b0000 0px,#0b0000 135px,#150000 136px,#150000 150px,#200000 151px,#200000 159px,#2a0000 160px,#2a0000 165px,#350000 166px,#350000 169px,#400000 170px,#400000 173px,#6b0000 181px,#8f0000 185px,#bd0000 188px,#ee0000 190px,#ff1000 191px,#ff3a00 192px,#ff7000 193px,#ffb300 194px,#ffff02 195px,#ffff67 196px,#ffff85 197px,#ffff44 198px,#ffe100 199px,#ff9700 200px,#ff5900 201px,#ff2800 202px,#ff0200 203px,#ca0000 205px,#a50000 207px,#800000 210px,#5c0000 215px,#400000 221px,#400000 223px,#350000 224px,#350000 228px,#2a0000 229px,#2a0000 234px,#200000 235px,#200000 243px,#150000 244px,#150000 257px,#0b0000 258px,#0b0000 395px)"></div><div style="height:2px;background:linear-gradient(90deg,#0b0000 0px,#0b0000 139px,#150000 140px,#150000 152px,#200000 153px,#200000 161px,#2a0000 162px,#2a0000 166px,#350000 167px,#350000 170px,#400000 171px,#400000 174px,#6e0000 182px,#980000 186px,#b80000 188px,#e80000 190px,#ff0a00 191px,#ff3400 192px,#ff6a00 193px,#ffaf00 194px,#fffe00 195px,#ffff69 196px,#ffff89 197px,#ffff44 198px,#ffde00 199px,#ff9200 200px,#ff5300 201px,#ff2200 202px,#fb0000 203px,#c50000 205px,#a00000 207px,#7c0000 210px,#580000 215px,#400000 220px,#400000 222px,#350000 223px,#350000 226px,#2a0000 227px,#2a0000 232px,#200000 233px,#200000 240px,#150000 241px,#150000 254px,#0b0000 255px,#0b0000 395px)"></div><div style="height:2px;background:linear-gradient(90deg,#0b0000 0px,#0b0000 143px,#150000 144px,#150000 155px,#200000 156px,#200000 162px,#2a0000 163px,#2a0000 168px,#350000 169px,#350000 172px,#400000 173px,#400000 175px,#730000 183px,#930000 186px,#b30000 188px,#e20000 190px,#ff0400 191px,#ff2e00 192px,#ff6400 193px,#ffa900 194px,#fffc00 195px,#ffff6b 196px,#ffff8d 197px,#ffff43 198px,#ffda00 199px,#ff8c00 200px,#ff4d00 201px,#ff1c00 202px,#f50000 203px,#bf0000 205px,#9c0000 207px,#780000 210px,#550000 215px,#400000 219px,#400000 221px,#350000 222px,#350000 225px,#2a0000 226px,#2a0000 230px,#200000 231px,#200000 238px,#150000 239px,#150000 250px,#0b0000 251px,#0b0000 395px)"></div><div style="height:2px;background:linear-gradient(90deg,#0b0000 0px,#0b0000 146px,#150000 147px,#150000 158px,#200000 159px,#200000 164px,#2a0000 165px,#2a0000 169px,#350000 170px,#350000 173px,#400000 174px,#400000 176px,#6e0000 183px,#8e0000 186px,#ae0000 188px,#dc0000 190px,#fc0000 191px,#ff2700 192px,#ff5d00 193px,#ffa400 194px,#fff900 195px,#ffff6d 196px,#ffff91 197px,#ffff42 198px,#ffd500 199px,#ff8500 200px,#ff4600 201px,#ff1500 202px,#ef0000 203px,#ba0000 205px,#960000 207px,#730000 210px,#510000 215px,#400000 218px,#400000 220px,#350000 221px,#350000 223px,#2a0000 224px,#2a0000 228px,#200000 229px,#200000 235px,#150000 236px,#150000 246px,#0b0000 247px,#0b0000 395px)"></div><div style="height:2px;background:linear-gradient(90deg,#0b0000 0px,#0b0000 150px,#150000 151px,#150000 160px,#200000 161px,#200000 166px,#2a0000 167px,#2a0000 171px,#350000 172px,#350000 174px,#400000 175px,#400000 177px,#720000 184px,#970000 187px,#bc0000 189px,#d50000 190px,#f50000 191px,#ff2000 192px,#ff5600 193px,#ff9d00 194px,#fff500 195px,#ffff6e 196px,#ffff95 197px,#ffff41 198px,#ffd000 199px,#ff7e00 200px,#ff3e00 201px,#ff0e00 202px,#e80000 203px,#b30000 205px,#840000 208px,#5e0000 212px,#400000 217px,#400000 219px,#350000 220px,#350000 222px,#2a0000 223px,#2a0000 226px,#200000 227px,#200000 233px,#150000 234px,#150000 243px,#0b0000 244px,#0b0000 395px)"></div><div style="height:2px;background:linear-gradient(90deg,#0b0000 0px,#0b0000 153px,#150000 154px,#150000 162px,#200000 163px,#200000 168px,#2a0000 169px,#2a0000 172px,#350000 173px,#350000 175px,#400000 176px,#400000 178px,#6d0000 184px,#910000 187px,#b50000 189px,#ce0000 190px,#ee0000 191px,#ff1800 192px,#ff4e00 193px,#ff9600 194px,#fff100 195px,#ffff70 196px,#ffff9a 197px,#ffff40 198px,#ffcb00 199px,#ff7700 200px,#ff3600 201px,#ff0600 202px,#e00000 203px,#ad0000 205px,#7e0000 208px,#590000 212px,#400000 216px,#400000 217px,#350000 218px,#350000 220px,#2a0000 221px,#2a0000 225px,#200000 226px,#200000 230px,#150000 231px,#150000 240px,#0b0000 241px,#0b0000 395px)"></div><div style="height:2px;background:linear-gradient(90deg,#0b0000 0px,#0b0000 156px,#150000 157px,#150000 165px,#200000 166px,#200000 170px,#2a0000 171px,#2a0000 174px,#350000 175px,#350000 176px,#400000 177px,#400000 179px,#710000 185px,#9b0000 188px,#c70000 190px,#e60000 191px,#ff0f00 192px,#ff4500 193px,#ff8e00 194px,#ffec00 195px,#ffff72 196px,#ffffa1 197px,#ffff3e 198px,#ffc500 199px,#ff6f00 200px,#ff2e00 201px,#fd0000 202px,#d80000 203px,#a60000 205px,#780000 208px,#540000 212px,#400000 215px,#400000 216px,#350000 217px,#350000 219px,#2a0000 220px,#2a0000 223px,#200000 224px,#200000 228px,#150000 229px,#150000 236px,#0b0000 237px,#0b0000 395px)"></div><div style="height:2px;background:linear-gradient(90deg,#0b0000 0px,#0b0000 159px,#150000 160px,#150000 167px,#200000 168px,#200000 171px,#2a0000 172px,#2a0000 175px,#350000 176px,#350000 177px,#400000 178px,#400000 180px,#770000 186px,#940000 188px,#c00000 190px,#de0000 191px,#ff0700 192px,#ff3d00 193px,#ff8700 194px,#ffe900 195px,#ffff77 196px,#ffffab 197px,#ffff3f 198px,#ffbf00 199px,#ff6700 200px,#ff2600 201px,#f50000 202px,#d10000 203px,#9f0000 205px,#720000 208px,#4f0000 212px,#400000 214px,#400000 215px,#350000 216px,#350000 218px,#2a0000 219px,#2a0000 221px,#200000 222px,#200000 226px,#150000 227px,#150000 234px,#0b0000 235px,#0b0000 395px)"></div><div style="height:2px;background:linear-gradient(90deg,#0b0000 0px,#0b0000 162px,#150000 163px,#150000 169px,#200000 170px,#200000 173px,#2a0000 174px,#2a0000 176px,#350000 177px,#350000 178px,#400000 179px,#460000 181px,#660000 185px,#8d0000 188px,#b80000 190px,#d60000 191px,#fe0000 192px,#ff3500 193px,#ff8000 194px,#ffe500 195px,#ffff7e 196px,#ffffb6 197px,#ffff40 198px,#ffb900 199px,#ff5f00 200px,#ff1d00 201px,#ed0000 202px,#c90000 203px,#980000 205px,#6c0000 208px,#400000 213px,#400000 214px,#350000 215px,#350000 217px,#2a0000 218px,#2a0000 220px,#200000 221px,#200000 224px,#150000 225px,#150000 231px,#0b0000 232px,#0b0000 395px)"></div><div style="height:2px;background:linear-gradient(90deg,#0b0000 0px,#0b0000 164px,#150000 165px,#150000 171px,#200000 172px,#200000 174px,#2a0000 175px,#2a0000 177px,#350000 178px,#350000 180px,#6a0000 186px,#860000 188px,#b00000 190px,#cd0000 191px,#f50000 192px,#ff2b00 193px,#ff7700 194px,#ffe000 195px,#ffff83 196px,#ffffc2 197px,#ffff3f 198px,#ffb200 199px,#ff5500 200px,#ff1400 201px,#e40000 202px,#c10000 203px,#910000 205px,#650000 208px,#400000 212px,#400000 213px,#350000 214px,#350000 215px,#2a0000 216px,#2a0000 218px,#200000 219px,#200000 222px,#150000 223px,#150000 228px,#0b0000 229px,#0b0000 395px)"></div><div style="height:2px;background:linear-gradient(90deg,#0b0000 0px,#0b0000 167px,#150000 168px,#150000 173px,#200000 174px,#200000 176px,#2a0000 177px,#2a0000 179px,#350000 180px,#350000 181px,#620000 186px,#8f0000 189px,#a60000 190px,#c30000 191px,#e90000 192px,#ff1f00 193px,#ff6a00 194px,#ffd700 195px,#ffff85 196px,#ffffcd 197px,#ffff3a 198px,#ffa700 199px,#ff4900 200px,#ff0800 201px,#d80000 202px,#b60000 203px,#880000 205px,#5d0000 208px,#400000 211px,#400000 212px,#350000 213px,#350000 214px,#2a0000 215px,#2a0000 216px,#200000 217px,#200000 220px,#150000 221px,#150000 226px,#0b0000 227px,#0b0000 395px)"></div><div style="height:2px;background:linear-gradient(90deg,#0b0000 0px,#0b0000 170px,#150000 171px,#150000 175px,#200000 176px,#200000 178px,#2a0000 179px,#2a0000 180px,#350000 181px,#350000 182px,#400000 183px,#400000 184px,#720000 188px,#990000 190px,#b50000 191px,#da0000 192px,#ff0f00 193px,#ff5a00 194px,#ffc900 195px,#ffff81 196px,#ffffd4 197px,#ffff2d 198px,#ff9700 199px,#ff3800 200px,#f70000 201px,#ca0000 202px,#a90000 203px,#7c0000 205px,#540000 208px,#400000 210px,#400000 211px,#2a0000 213px,#2a0000 215px,#200000 216px,#200000 218px,#150000 219px,#150000 223px,#0b0000 224px,#0b0000 395px)"></div><div style="height:2px;background:linear-gradient(90deg,#0b0000 0px,#0b0000 173px,#150000 174px,#150000 178px,#200000 179px,#200000 180px,#2a0000 181px,#2a0000 182px,#350000 183px,#350000 184px,#630000 188px,#890000 190px,#a30000 191px,#c70000 192px,#f90000 193px,#ff4300 194px,#ffb400 195px,#ffff75 196px,#ffffd6 197px,#ffff17 198px,#ff8100 199px,#ff2200 200px,#e30000 201px,#b70000 202px,#980000 203px,#6d0000 205px,#470000 208px,#2a0000 211px,#2a0000 212px,#200000 213px,#200000 215px,#150000 216px,#150000 219px,#0b0000 220px,#0b0000 395px)"></div><div style="height:2px;background:linear-gradient(90deg,#0b0000 0px,#0b0000 178px,#150000 179px,#150000 182px,#200000 183px,#200000 184px,#4b0000 188px,#6d0000 190px,#860000 191px,#a70000 192px,#d60000 193px,#ff1c00 194px,#ff8c00 195px,#ffff4f 196px,#ffffc5 197px,#ffec00 198px,#ff5900 199px,#fc0000 200px,#c10000 201px,#990000 202px,#7b0000 203px,#540000 205px,#350000 207px,#350000 208px,#200000 210px,#200000 211px,#150000 212px,#150000 214px,#0b0000 215px,#0b0000 395px)"></div><div style="height:2px;background:linear-gradient(90deg,#0b0000 0px,#0b0000 183px,#150000 184px,#150000 186px,#350000 189px,#5e0000 191px,#7b0000 192px,#a50000 193px,#e40000 194px,#ff4f00 195px,#ffff02 196px,#ffff94 197px,#ffb100 198px,#ff1d00 199px,#c70000 200px,#920000 201px,#6e0000 202px,#400000 204px,#150000 208px,#150000 209px,#0b0000 210px,#0b0000 395px)"></div><div style="height:2px;background:linear-gradient(90deg,#0b0000 0px,#0b0000 188px,#200000 190px,#200000 191px,#350000 192px,#400000 193px,#600000 194px,#930000 195px,#f20000 196px,#ff3200 197px,#c50000 198px,#7b0000 199px,#530000 200px,#2a0000 202px,#150000 204px,#150000 205px,#0b0000 206px,#0b0000 395px)"></div><div style="height:1px;background:linear-gradient(90deg,#0b0000 0px,#0b0000 191px,#150000 192px,#150000 193px,#200000 194px,#350000 195px,#5a0000 196px,#710000 197px,#490000 198px,#2a0000 199px,#150000 201px,#150000 202px,#0b0000 203px,#0b0000 395px)"></div></div>
<div class="t" style="left:40.40px;top:311.90px;font-size:15px;line-height:15px;font-weight:normal;font-family:'Liberation Sans', Arial, Helvetica, sans-serif;color:#000;transform:translateX(-50%);-webkit-text-stroke:0.25px #000;">-1.15</div>
<div class="t" style="left:104.60px;top:311.90px;font-size:15px;line-height:15px;font-weight:normal;font-family:'Liberation Sans', Arial, Helvetica, sans-serif;color:#000;transform:translateX(-50%);-webkit-text-stroke:0.25px #000;">-1.1</div>
<div class="t" style="left:170.90px;top:311.90px;font-size:15px;line-height:15px;font-weight:normal;font-family:'Liberation Sans', Arial, Helvetica, sans-serif;color:#000;transform:translateX(-50%);-webkit-text-stroke:0.25px #000;">-1.05</div>
<div class="t" style="left:235.60px;top:311.90px;font-size:15px;line-height:15px;font-weight:normal;font-family:'Liberation Sans', Arial, Helvetica, sans-serif;color:#000;transform:translateX(-50%);-webkit-text-stroke:0.25px #000;">-1</div>
<div class="t" style="left:302.20px;top:311.90px;font-size:15px;line-height:15px;font-weight:normal;font-family:'Liberation Sans', Arial, Helvetica, sans-serif;color:#000;transform:translateX(-50%);-webkit-text-stroke:0.25px #000;">-0.95</div>
<div class="t" style="left:368.10px;top:311.90px;font-size:15px;line-height:15px;font-weight:normal;font-family:'Liberation Sans', Arial, Helvetica, sans-serif;color:#000;transform:translateX(-50%);-webkit-text-stroke:0.25px #000;">-0.9</div>
<div class="t" style="left:432.50px;top:311.90px;font-size:15px;line-height:15px;font-weight:normal;font-family:'Liberation Sans', Arial, Helvetica, sans-serif;color:#000;transform:translateX(-50%);-webkit-text-stroke:0.25px #000;">-0.85</div>
<div class="t" style="left:14.48px;top:15.21px;font-size:16px;line-height:16px;font-weight:normal;font-family:'Liberation Sans', Arial, Helvetica, sans-serif;color:#000;-webkit-text-stroke:0.25px #000;">10</div>
<div class="t" style="left:30.94px;top:11.92px;font-size:9px;line-height:9px;font-weight:bold;font-family:'Liberation Sans', Arial, Helvetica, sans-serif;color:#000;">-2</div>
<div class="t" style="left:14.48px;top:101.21px;font-size:16px;line-height:16px;font-weight:normal;font-family:'Liberation Sans', Arial, Helvetica, sans-serif;color:#000;-webkit-text-stroke:0.25px #000;">10</div>
<div class="t" style="left:30.94px;top:97.92px;font-size:9px;line-height:9px;font-weight:bold;font-family:'Liberation Sans', Arial, Helvetica, sans-serif;color:#000;">-3</div>
<div class="t" style="left:14.48px;top:187.21px;font-size:16px;line-height:16px;font-weight:normal;font-family:'Liberation Sans', Arial, Helvetica, sans-serif;color:#000;-webkit-text-stroke:0.25px #000;">10</div>
<div class="t" style="left:30.54px;top:183.92px;font-size:9px;line-height:9px;font-weight:bold;font-family:'Liberation Sans', Arial, Helvetica, sans-serif;color:#000;">-4</div>
<div class="t" style="left:14.48px;top:273.21px;font-size:16px;line-height:16px;font-weight:normal;font-family:'Liberation Sans', Arial, Helvetica, sans-serif;color:#000;-webkit-text-stroke:0.25px #000;">10</div>
<div class="t" style="left:30.94px;top:269.92px;font-size:9px;line-height:9px;font-weight:bold;font-family:'Liberation Sans', Arial, Helvetica, sans-serif;color:#000;">-5</div>
<div class="t" style="left:-0.08px;top:170.18px;font-size:15.5px;line-height:15.5px;font-weight:bold;font-family:'Liberation Sans', Arial, Helvetica, sans-serif;color:#000;transform-origin:0 0;transform:rotate(-90deg);">&#949;''</div>
<div class="box" style="left:48px;top:33px;width:31px;height:23px;"></div>
<div class="t" style="left:62.88px;top:36.52px;font-size:15.5px;line-height:15.5px;font-weight:normal;font-family:'Liberation Sans', Arial, Helvetica, sans-serif;color:#000;transform:translateX(-50%);-webkit-text-stroke:0.25px #000;">(a)</div>
<div class="box" style="left:379px;top:33px;width:48px;height:27px;"></div>
<div class="t" style="left:400.70px;top:36.39px;font-size:16.5px;line-height:16.5px;font-weight:normal;font-family:'Liberation Sans', Arial, Helvetica, sans-serif;color:#000;transform:translateX(-50%);-webkit-text-stroke:0.25px #000;transform:translateX(-50%) scaleX(0.92);">D = 5</div>
<div class="box" style="left:48px;top:62px;width:174px;height:122px;"></div>
<div class="t" style="left:78.28px;top:63.80px;font-size:9px;line-height:9px;font-weight:bold;font-family:'Liberation Sans', Arial, Helvetica, sans-serif;color:#000;transform:translateX(-100%);">70</div>
<div class="t" style="left:78.28px;top:79.55px;font-size:9px;line-height:9px;font-weight:bold;font-family:'Liberation Sans', Arial, Helvetica, sans-serif;color:#000;transform:translateX(-100%);">65</div>
<div class="t" style="left:78.28px;top:95.30px;font-size:9px;line-height:9px;font-weight:bold;font-family:'Liberation Sans', Arial, Helvetica, sans-serif;color:#000;transform:translateX(-100%);">60</div>
<div class="t" style="left:78.28px;top:111.05px;font-size:9px;line-height:9px;font-weight:bold;font-family:'Liberation Sans', Arial, Helvetica, sans-serif;color:#000;transform:translateX(-100%);">55</div>
<div class="t" style="left:78.28px;top:126.80px;font-size:9px;line-height:9px;font-weight:bold;font-family:'Liberation Sans', Arial, Helvetica, sans-serif;color:#000;transform:translateX(-100%);">50</div>
<div class="t" style="left:78.28px;top:142.55px;font-size:9px;line-height:9px;font-weight:bold;font-family:'Liberation Sans', Arial, Helvetica, sans-serif;color:#000;transform:translateX(-100%);">45</div>
<div class="t" style="left:78.28px;top:158.70px;font-size:9px;line-height:9px;font-weight:bold;font-family:'Liberation Sans', Arial, Helvetica, sans-serif;color:#000;transform:translateX(-100%);">40</div>
<div class="t" style="left:80.36px;top:166.56px;font-size:9px;line-height:9px;font-weight:bold;font-family:'Liberation Sans', Arial, Helvetica, sans-serif;color:#000;transform:translateX(-50%);">0</div>
<div class="t" style="left:111.22px;top:166.16px;font-size:9px;line-height:9px;font-weight:bold;font-family:'Liberation Sans', Arial, Helvetica, sans-serif;color:#000;transform:translateX(-50%);">0.0025</div>
<div class="t" style="left:146.62px;top:166.16px;font-size:9px;line-height:9px;font-weight:bold;font-family:'Liberation Sans', Arial, Helvetica, sans-serif;color:#000;transform:translateX(-50%);">0.005</div>
<div class="t" style="left:179.62px;top:166.16px;font-size:9px;line-height:9px;font-weight:bold;font-family:'Liberation Sans', Arial, Helvetica, sans-serif;color:#000;transform:translateX(-50%);">0.075</div>
<div class="t" style="left:211.16px;top:166.16px;font-size:9px;line-height:9px;font-weight:bold;font-family:'Liberation Sans', Arial, Helvetica, sans-serif;color:#000;transform:translateX(-50%);">0.01</div>
<div class="t" style="left:142.76px;top:172.88px;font-size:8.5px;line-height:8.5px;font-weight:bold;font-family:'Liberation Sans', Arial, Helvetica, sans-serif;color:#000;">&#949;<span style='font-size:6px;vertical-align:3px'>''</span></div>
<div class="t" style="left:145.52px;top:87.20px;font-size:9.5px;line-height:9.5px;font-weight:normal;font-family:'Liberation Sans', Arial, Helvetica, sans-serif;color:#5a5a5a;">&#949;' = &#8211;1</div>
<div class="t" style="left:53.06px;top:146.16px;font-size:9.4px;line-height:9.4px;font-weight:bold;font-family:'Liberation Sans', Arial, Helvetica, sans-serif;color:#000;transform-origin:0 0;transform:rotate(-90deg);">q<sub>tot</sub> (10<sup>7</sup> W/m<sup>2</sup>)</div>
<div class="cb" style="left:449px;top:22px;width:15px;height:287px;background:linear-gradient(to top,#0b0000 0%,#ff0000 37.5%,#ffff00 75%,#ffffff 100%);"></div>
<div class="t" style="left:465.20px;top:258.80px;font-size:15px;line-height:15px;font-weight:normal;font-family:'Liberation Sans', Arial, Helvetica, sans-serif;color:#000;-webkit-text-stroke:0.25px #000;">1</div>
<div class="t" style="left:465.20px;top:215.80px;font-size:15px;line-height:15px;font-weight:normal;font-family:'Liberation Sans', Arial, Helvetica, sans-serif;color:#000;-webkit-text-stroke:0.25px #000;">2</div>
<div class="t" style="left:465.20px;top:172.80px;font-size:15px;line-height:15px;font-weight:normal;font-family:'Liberation Sans', Arial, Helvetica, sans-serif;color:#000;-webkit-text-stroke:0.25px #000;">3</div>
<div class="t" style="left:465.20px;top:129.80px;font-size:15px;line-height:15px;font-weight:normal;font-family:'Liberation Sans', Arial, Helvetica, sans-serif;color:#000;-webkit-text-stroke:0.25px #000;">4</div>
<div class="t" style="left:465.20px;top:86.80px;font-size:15px;line-height:15px;font-weight:normal;font-family:'Liberation Sans', Arial, Helvetica, sans-serif;color:#000;-webkit-text-stroke:0.25px #000;">5</div>
<div class="t" style="left:465.20px;top:43.80px;font-size:15px;line-height:15px;font-weight:normal;font-family:'Liberation Sans', Arial, Helvetica, sans-serif;color:#000;-webkit-text-stroke:0.25px #000;">6</div>
<div class="t" style="left:417px;top:-2.5px;font-family:'Liberation Serif', 'Times New Roman', serif;font-weight:bold;font-size:14.5px;line-height:17px;white-space:nowrap"><i>q</i><span style="font-size:7.5px;vertical-align:-3.5px">tot</span>(10<span style="font-size:7px;vertical-align:8.5px">8</span>W/m<span style="font-size:8px;vertical-align:7px">2</span>)</div>
<div class="hm" style="left:39px;top:357px;width:404px;height:262px;"><div style="height:2px;background:linear-gradient(90deg,#ff0e00 0px,#ff3c00 47px,#ff7e00 165px,#ff7500 189px,#ff5100 214px,#fd0000 255px,#b30000 299px,#7d0000 346px,#540000 404px)"></div><div style="height:2px;background:linear-gradient(90deg,#ff0d00 0px,#ff3c00 46px,#ff7f00 165px,#ff7700 188px,#ff5500 212px,#fc0000 256px,#b20000 300px,#7d0000 347px,#540000 404px)"></div><div style="height:2px;background:linear-gradient(90deg,#ff0c00 0px,#ff3b00 45px,#ff8000 166px,#ff7800 188px,#ff5700 212px,#fd0000 256px,#b30000 300px,#7d0000 347px,#540000 404px)"></div><div style="height:2px;background:linear-gradient(90deg,#ff0c00 0px,#ff3a00 44px,#ff8200 167px,#ff7900 189px,#ff5400 214px,#fe0000 256px,#b40000 300px,#7d0000 347px,#550000 404px)"></div><div style="height:2px;background:linear-gradient(90deg,#ff0b00 0px,#ff3900 43px,#ff7f00 157px,#ff8100 179px,#ff6d00 200px,#ff2400 238px,#fd0000 257px,#b30000 301px,#7d0000 348px,#550000 404px)"></div><div style="height:2px;background:linear-gradient(90deg,#ff0a00 0px,#ff3800 42px,#ff7f00 156px,#ff8400 177px,#ff7100 198px,#ff3200 232px,#fc0000 258px,#b20000 302px,#7c0000 349px,#550000 404px)"></div><div style="height:2px;background:linear-gradient(90deg,#ff0900 0px,#ff3700 41px,#ff7e00 155px,#ff8600 174px,#ff7800 194px,#ff4600 223px,#fd0000 258px,#b30000 302px,#7d0000 349px,#550000 404px)"></div><div style="height:2px;background:linear-gradient(90deg,#ff0900 0px,#ff3700 41px,#ff7e00 154px,#ff8700 172px,#ff7b00 192px,#ff4f00 219px,#fc0000 259px,#b20000 303px,#7c0000 350px,#550000 404px)"></div><div style="height:2px;background:linear-gradient(90deg,#ff0800 0px,#ff3600 40px,#ff7e00 153px,#ff8900 171px,#ff7e00 191px,#ff5400 217px,#fe0000 259px,#b30000 303px,#7d0000 350px,#550000 404px)"></div><div style="height:2px;background:linear-gradient(90deg,#ff0700 0px,#ff3500 39px,#ff5e00 106px,#ff8300 158px,#ff8a00 176px,#ff7800 197px,#ff3900 231px,#fd0000 260px,#b20000 304px,#7c0000 351px,#550000 404px)"></div><div style="height:2px;background:linear-gradient(90deg,#ff0700 0px,#ff3400 38px,#ff5b00 100px,#ff8000 154px,#ff8b00 170px,#ff8200 190px,#ff5900 216px,#fc0000 261px,#b20000 305px,#7b0000 353px,#550000 404px)"></div><div style="height:2px;background:linear-gradient(90deg,#ff0600 0px,#ff3400 38px,#ff5a00 99px,#ff8000 153px,#ff8c00 169px,#ff8400 189px,#ff5e00 214px,#fe0000 261px,#b30000 305px,#7b0000 353px,#560000 404px)"></div><div style="height:2px;background:linear-gradient(90deg,#ff0500 0px,#ff3300 37px,#ff5800 95px,#ff7e00 150px,#ff8e00 168px,#ff8600 188px,#ff6200 213px,#fd0000 262px,#b40000 305px,#7c0000 353px,#560000 404px)"></div><div style="height:2px;background:linear-gradient(90deg,#ff0400 0px,#ff3200 37px,#ff5800 94px,#ff7c00 148px,#ff8f00 168px,#ff8800 188px,#ff6300 213px,#fd0000 263px,#b40000 306px,#7b0000 354px,#560000 404px)"></div><div style="height:2px;background:linear-gradient(90deg,#ff0400 0px,#ff3100 36px,#ff5600 91px,#ff7b00 146px,#ff9000 168px,#ff8900 188px,#ff6500 213px,#fd0000 264px,#b30000 307px,#7b0000 355px,#560000 404px)"></div><div style="height:2px;background:linear-gradient(90deg,#ff0300 0px,#ff3100 36px,#ff5500 90px,#ff7b00 145px,#ff9100 168px,#ff8b00 188px,#ff6700 213px,#fc0000 265px,#b30000 308px,#7b0000 356px,#560000 404px)"></div><div style="height:2px;background:linear-gradient(90deg,#ff0200 0px,#ff3000 35px,#ff5300 87px,#ff7800 142px,#ff9200 168px,#ff8c00 188px,#ff6900 213px,#fc0000 266px,#b30000 309px,#7a0000 357px,#560000 404px)"></div><div style="height:2px;background:linear-gradient(90deg,#ff0200 0px,#ff2f00 35px,#ff5300 86px,#ff7800 141px,#ff9400 169px,#ff8d00 189px,#ff6700 215px,#fe0000 266px,#b30000 310px,#7a0000 358px,#560000 404px)"></div><div style="height:2px;background:linear-gradient(90deg,#ff0100 0px,#ff2e00 34px,#ff5100 83px,#ff7600 139px,#ff9500 169px,#ff8e00 189px,#ff6900 215px,#fe0000 267px,#b30000 311px,#790000 359px,#560000 404px)"></div><div style="height:2px;background:linear-gradient(90deg,#ff0000 0px,#ff2e00 34px,#ff5000 83px,#ff7500 137px,#ff9600 169px,#ff9000 189px,#ff6d00 214px,#fe0000 268px,#b10000 313px,#780000 361px,#570000 404px)"></div><div style="height:2px;background:linear-gradient(90deg,#fe0000 0px,#ff2e00 35px,#ff5100 84px,#ff7400 136px,#ff9700 170px,#ff9000 190px,#ff6b00 216px,#fe0000 269px,#b10000 314px,#780000 361px,#570000 404px)"></div><div style="height:2px;background:linear-gradient(90deg,#fe0000 0px,#ff3000 37px,#ff5300 89px,#ff7500 136px,#ff9800 170px,#ff9200 190px,#ff7000 215px,#fc0000 271px,#ae0000 317px,#760000 364px,#570000 404px)"></div><div style="height:2px;background:linear-gradient(90deg,#fd0000 0px,#ff3100 38px,#ff5400 92px,#ff7500 136px,#ff9900 170px,#ff9400 190px,#ff7200 215px,#fc0000 272px,#ae0000 318px,#760000 364px,#570000 404px)"></div><div style="height:2px;background:linear-gradient(90deg,#fc0000 0px,#ff3200 40px,#ff7000 131px,#ff9b00 171px,#ff9400 191px,#ff7200 216px,#fd0000 273px,#ac0000 320px,#750000 366px,#570000 404px)"></div><div style="height:2px;background:linear-gradient(90deg,#fb0000 0px,#ff1300 14px,#ff3900 49px,#ff6d00 128px,#ff9c00 171px,#ff9600 191px,#ff7700 215px,#fd0000 274px,#ab0000 321px,#750000 366px,#570000 404px)"></div><div style="height:2px;background:linear-gradient(90deg,#fb0000 0px,#ff0b00 9px,#ff3300 42px,#ff6e00 128px,#ff9d00 172px,#ff9600 193px,#ff7400 218px,#fe0000 275px,#ab0000 322px,#740000 367px,#570000 404px)"></div><div style="height:2px;background:linear-gradient(90deg,#fa0000 0px,#ff0700 7px,#ff3000 39px,#ff6d00 127px,#ff9e00 172px,#ff9800 193px,#ff7800 217px,#fe0000 276px,#ab0000 323px,#740000 368px,#570000 404px)"></div><div style="height:2px;background:linear-gradient(90deg,#f90000 0px,#ff0600 7px,#ff2f00 39px,#ff6c00 126px,#ffa000 173px,#ff9a00 194px,#ff7900 218px,#fd0000 278px,#aa0000 324px,#740000 368px,#570000 404px)"></div><div style="height:2px;background:linear-gradient(90deg,#f80000 0px,#ff0500 7px,#ff2f00 39px,#ff6a00 124px,#ffa100 173px,#ff9c00 194px,#ff7c00 218px,#fd0000 279px,#ac0000 324px,#750000 368px,#570000 404px)"></div><div style="height:2px;background:linear-gradient(90deg,#f70000 0px,#ff0500 7px,#ff2e00 39px,#ff6900 123px,#ffa200 174px,#ff9d00 195px,#ff7d00 219px,#fe0000 280px,#ad0000 324px,#760000 367px,#570000 404px)"></div><div style="height:2px;background:linear-gradient(90deg,#f60000 0px,#ff0400 7px,#ff2d00 38px,#ff6700 122px,#ffa300 174px,#ffa000 194px,#ff8400 217px,#ff0c00 275px,#fc0000 282px,#ac0000 325px,#760000 367px,#570000 404px)"></div><div style="height:2px;background:linear-gradient(90deg,#f60000 0px,#ff0300 7px,#ff2c00 38px,#ff6500 120px,#ffa500 175px,#ffa100 195px,#ff8500 218px,#ff1700 271px,#fd0000 283px,#ac0000 326px,#750000 368px,#570000 404px)"></div><div style="height:2px;background:linear-gradient(90deg,#f50000 0px,#ff0400 8px,#ff2c00 39px,#ff6400 119px,#ffa600 176px,#ffa300 196px,#ff8700 219px,#ff2300 267px,#fd0000 284px,#ad0000 326px,#770000 367px,#570000 404px)"></div><div style="height:2px;background:linear-gradient(90deg,#f40000 0px,#ff0300 8px,#ff2b00 39px,#ff6100 117px,#ffa800 176px,#ffa500 196px,#ff8a00 219px,#ff3200 262px,#fd0000 285px,#ad0000 327px,#760000 368px,#570000 404px)"></div><div style="height:2px;background:linear-gradient(90deg,#f30000 0px,#ff0400 9px,#ff2c00 40px,#ff6000 116px,#ffaa00 177px,#ffa700 197px,#ff8b00 220px,#ff3a00 260px,#fe0000 286px,#ac0000 328px,#760000 368px,#570000 404px)"></div><div style="height:2px;background:linear-gradient(90deg,#f20000 0px,#ff0300 9px,#ff2b00 40px,#ff5e00 115px,#ffab00 178px,#ffa900 198px,#ff8d00 221px,#ff4000 259px,#fc0000 288px,#ab0000 329px,#750000 369px,#570000 404px)"></div><div style="height:2px;background:linear-gradient(90deg,#f10000 0px,#ff0200 9px,#ff2a00 40px,#ff5c00 113px,#ffad00 178px,#ffab00 198px,#ff9100 221px,#ff4a00 256px,#fc0000 289px,#ac0000 329px,#770000 368px,#570000 404px)"></div><div style="height:2px;background:linear-gradient(90deg,#f00000 0px,#ff0300 10px,#ff2a00 41px,#ff5a00 112px,#ffae00 179px,#ffad00 199px,#ff9300 222px,#ff5100 255px,#fd0000 290px,#ac0000 330px,#770000 368px,#570000 404px)"></div><div style="height:2px;background:linear-gradient(90deg,#ef0000 0px,#ff0200 10px,#ff2900 41px,#ff5800 111px,#ffb000 180px,#ffaf00 200px,#ff9500 223px,#ff5500 255px,#fd0000 291px,#ad0000 330px,#770000 368px,#570000 404px)"></div><div style="height:2px;background:linear-gradient(90deg,#ee0000 0px,#ff0300 11px,#ff2900 42px,#ff5500 109px,#ffb200 181px,#ffb100 201px,#ff9700 224px,#ff5900 255px,#fd0000 292px,#ae0000 330px,#790000 367px,#570000 404px)"></div><div style="height:2px;background:linear-gradient(90deg,#ed0000 0px,#ff0200 11px,#ff2700 41px,#ff5300 108px,#ffb400 182px,#ffb400 202px,#ff9800 226px,#ff5b00 256px,#fd0000 293px,#af0000 330px,#790000 367px,#570000 404px)"></div><div style="height:2px;background:linear-gradient(90deg,#ec0000 0px,#ff0200 12px,#ff2700 42px,#ff5100 107px,#ffb600 183px,#ffb600 203px,#ff9c00 226px,#ff6400 254px,#fe0000 294px,#b00000 330px,#7b0000 366px,#570000 404px)"></div><div style="height:2px;background:linear-gradient(90deg,#eb0000 0px,#ff0300 13px,#ff2600 43px,#ff4f00 106px,#ffb800 183px,#ffb900 203px,#ffa100 226px,#ff6a00 253px,#fe0000 295px,#b10000 330px,#7b0000 366px,#570000 404px)"></div><div style="height:2px;background:linear-gradient(90deg,#ea0000 0px,#ff0200 13px,#ff2400 42px,#ff4c00 104px,#ffba00 184px,#ffbb00 204px,#ffa400 227px,#ff6f00 253px,#fe0000 296px,#b20000 330px,#7c0000 366px,#570000 404px)"></div><div style="height:2px;background:linear-gradient(90deg,#e80000 0px,#ff0200 14px,#ff2400 43px,#ff4a00 103px,#ffbc00 185px,#ffbe00 205px,#ffa800 227px,#ff7800 251px,#fe0000 297px,#b40000 330px,#7c0000 366px,#570000 404px)"></div><div style="height:2px;background:linear-gradient(90deg,#e70000 0px,#ff0300 15px,#ff2300 44px,#ff4700 102px,#ffbe00 186px,#ffc000 206px,#ffad00 227px,#ff8000 250px,#fe0000 298px,#b50000 330px,#7e0000 365px,#570000 404px)"></div><div style="height:2px;background:linear-gradient(90deg,#e60000 0px,#ff0300 16px,#ff2100 44px,#ff4500 101px,#ffc100 187px,#ffc300 208px,#ffaf00 229px,#ff7f00 252px,#fe0000 299px,#b40000 331px,#7d0000 366px,#570000 404px)"></div><div style="height:2px;background:linear-gradient(90deg,#e50000 0px,#ff0200 16px,#ff2000 44px,#ff4300 100px,#ffc300 188px,#ffc600 209px,#ffb300 229px,#ff8700 251px,#fd0000 300px,#b60000 331px,#7e0000 366px,#570000 404px)"></div><div style="height:2px;background:linear-gradient(90deg,#e30000 0px,#ff0200 17px,#ff1f00 45px,#ff4000 99px,#ffc600 190px,#ffc900 211px,#ffb500 231px,#ff8700 253px,#fd0000 301px,#b50000 332px,#7d0000 367px,#570000 404px)"></div><div style="height:2px;background:linear-gradient(90deg,#e20000 0px,#ff0200 18px,#ff1e00 46px,#ff3d00 98px,#ffc900 191px,#ffcc00 212px,#ffba00 231px,#ff8c00 253px,#fd0000 302px,#b50000 333px,#7c0000 368px,#570000 404px)"></div><div style="height:2px;background:linear-gradient(90deg,#e10000 0px,#ff0200 19px,#ff1d00 47px,#ff3b00 97px,#ffb200 174px,#ffcc00 193px,#ffd000 214px,#ffbc00 233px,#ff8c00 255px,#fd0000 303px,#b40000 334px,#7b0000 369px,#570000 404px)"></div><div style="height:2px;background:linear-gradient(90deg,#df0000 0px,#ff0200 20px,#ff1b00 48px,#ff3800 96px,#ff9600 157px,#ffce00 193px,#ffd400 213px,#ffc400 231px,#ff9900 252px,#fd0000 304px,#b40000 335px,#7c0000 369px,#570000 404px)"></div><div style="height:2px;background:linear-gradient(90deg,#de0000 0px,#ff0200 21px,#ff1b00 50px,#ff3500 95px,#ff8a00 150px,#ffd100 194px,#ffd800 214px,#ffc800 232px,#ff9c00 253px,#fd0000 305px,#b30000 336px,#7b0000 370px,#570000 404px)"></div><div style="height:2px;background:linear-gradient(90deg,#dc0000 0px,#ff0100 22px,#ff1a00 52px,#ff3200 94px,#ff8000 144px,#ffd500 196px,#ffdc00 215px,#ffcc00 233px,#ff9e00 254px,#fd0000 306px,#b30000 337px,#7b0000 370px,#570000 404px)"></div><div style="height:2px;background:linear-gradient(90deg,#db0000 0px,#ff0100 23px,#ff1800 54px,#ff2f00 93px,#ff7800 140px,#ffd800 197px,#ffe000 216px,#ffd100 233px,#ffa700 253px,#fe0000 307px,#b20000 338px,#7c0000 370px,#570000 404px)"></div><div style="height:2px;background:linear-gradient(90deg,#d90000 0px,#ff0000 24px,#ff1800 57px,#ff2d00 93px,#ff7900 141px,#ffdb00 198px,#ffe400 217px,#ffd500 234px,#ffac00 253px,#fe0000 308px,#b20000 339px,#7b0000 371px,#570000 404px)"></div><div style="height:2px;background:linear-gradient(90deg,#d80000 0px,#ff0000 25px,#ff1800 63px,#ff2b00 93px,#ff7a00 142px,#ffe000 200px,#ffe800 218px,#ffd900 235px,#ffaf00 254px,#ff0200 308px,#ab0000 343px,#760000 375px,#570000 404px)"></div><div style="height:2px;background:linear-gradient(90deg,#d60000 0px,#fd0000 25px,#ff2700 91px,#ff6b00 134px,#ffe300 201px,#ffec00 219px,#ffdc00 236px,#ffb500 254px,#fe0000 310px,#b00000 341px,#790000 373px,#570000 404px)"></div><div style="height:2px;background:linear-gradient(90deg,#d40000 0px,#fb0000 25px,#ff0900 41px,#ff2300 89px,#ff5f00 128px,#ffe700 202px,#fff000 219px,#ffe200 236px,#ffbb00 254px,#ff0000 311px,#b20000 341px,#7b0000 372px,#570000 404px)"></div><div style="height:2px;background:linear-gradient(90deg,#d30000 0px,#f90000 25px,#ff0400 38px,#ff1f00 88px,#ff5800 125px,#ffec00 204px,#fff400 221px,#ffe400 238px,#ffbe00 255px,#ff0000 312px,#b30000 341px,#7b0000 372px,#570000 404px)"></div><div style="height:2px;background:linear-gradient(90deg,#d10000 0px,#f70000 25px,#ff0300 40px,#ff1d00 88px,#ff5800 126px,#ffe200 197px,#fff600 212px,#fff500 228px,#ffdf00 244px,#ffae00 262px,#ff0300 312px,#d20000 329px,#930000 358px,#630000 391px,#560000 404px)"></div><div style="height:2px;background:linear-gradient(90deg,#cf0000 0px,#f30000 24px,#ff0200 43px,#ff1a00 87px,#ff5300 124px,#ffd800 192px,#fff400 207px,#fffc00 223px,#ffee00 239px,#ffc700 256px,#ff0100 314px,#b20000 343px,#7b0000 373px,#560000 404px)"></div><div style="height:2px;background:linear-gradient(90deg,#cd0000 0px,#f10000 24px,#ff0200 48px,#ff1600 86px,#ff4e00 122px,#ffce00 187px,#fff700 207px,#ffff02 220px,#fffa00 234px,#ffdd00 250px,#ff9b00 271px,#ff0100 315px,#b20000 344px,#7a0000 374px,#560000 404px)"></div><div style="height:2px;background:linear-gradient(90deg,#cb0000 0px,#ef0000 24px,#ff0100 53px,#ff1400 86px,#ff4c00 122px,#ffc700 184px,#fffb00 208px,#ffff09 222px,#fffc00 237px,#ffdc00 253px,#ff8700 278px,#ff0100 316px,#af0000 346px,#770000 376px,#560000 404px)"></div><div style="height:2px;background:linear-gradient(90deg,#ca0000 0px,#ed0000 24px,#ff0100 59px,#ff1200 87px,#ff4f00 125px,#ffc500 183px,#ffff00 209px,#ffff0f 223px,#ffff06 236px,#fffb00 242px,#ffd300 258px,#ff0100 317px,#ae0000 347px,#770000 376px,#560000 404px)"></div><div style="height:2px;background:linear-gradient(90deg,#c80000 0px,#ea0000 24px,#ff0000 65px,#ff1100 88px,#ff5500 129px,#ffc500 183px,#ffff01 208px,#ffff14 221px,#ffff12 233px,#fffd00 244px,#ffd400 260px,#ff0200 318px,#ab0000 349px,#740000 378px,#550000 404px)"></div><div style="height:2px;background:linear-gradient(90deg,#c60000 0px,#e70000 23px,#fc0000 64px,#ff0700 81px,#ff3400 112px,#ffa500 169px,#ffff00 207px,#ffff16 218px,#ffff1b 231px,#ffff08 243px,#fffd00 247px,#ffcd00 264px,#ff0200 319px,#aa0000 350px,#750000 378px,#550000 404px)"></div><div style="height:2px;background:linear-gradient(90deg,#c40000 0px,#e40000 23px,#ff0100 77px,#ff2400 104px,#ff8b00 158px,#ffff01 207px,#ffff18 216px,#ffff23 229px,#ffff16 241px,#fffd00 250px,#ffc300 269px,#ff0200 320px,#a70000 352px,#720000 380px,#550000 404px)"></div><div style="height:2px;background:linear-gradient(90deg,#c20000 0px,#e20000 23px,#ff0200 82px,#ff3500 115px,#ffa000 168px,#ffff03 207px,#ffff1c 216px,#ffff29 229px,#ffff20 240px,#fffc00 253px,#ffbb00 273px,#ff0600 320px,#fb0000 323px,#ad0000 350px,#770000 377px,#550000 404px)"></div><div style="height:2px;background:linear-gradient(90deg,#bf0000 0px,#df0000 23px,#ff0300 85px,#ff4100 123px,#ffa800 172px,#ffff00 206px,#ffff22 217px,#ffff30 230px,#ffff27 241px,#ffff09 252px,#fffd00 255px,#ffbb00 275px,#ff0a00 320px,#fb0000 324px,#ae0000 350px,#780000 376px,#540000 404px)"></div><div style="height:2px;background:linear-gradient(90deg,#bd0000 0px,#dc0000 23px,#fb0000 81px,#ff0800 91px,#ff5400 134px,#ffb100 176px,#ffff01 206px,#ffff27 218px,#ffff36 230px,#ffff2f 241px,#ffff12 252px,#ffff00 257px,#ffbb00 277px,#ff0b00 321px,#fc0000 325px,#ad0000 351px,#790000 376px,#540000 404px)"></div><div style="height:2px;background:linear-gradient(90deg,#bb0000 0px,#da0000 23px,#f70000 80px,#ff0400 90px,#ff4e00 132px,#ffab00 174px,#ffff02 206px,#ffff2d 219px,#ffff3d 231px,#ffff36 242px,#ffff19 253px,#fffd00 260px,#ffb200 281px,#ff0b00 322px,#fc0000 326px,#ae0000 351px,#790000 376px,#540000 404px)"></div><div style="height:2px;background:linear-gradient(90deg,#b90000 0px,#d70000 23px,#f30000 79px,#ff0300 91px,#ff5000 134px,#ffa900 174px,#ffff00 205px,#ffff35 221px,#ffff44 233px,#ffff3b 244px,#ffff18 256px,#ffff00 262px,#ffb200 283px,#ff0c00 323px,#fc0000 327px,#b00000 351px,#7b0000 375px,#540000 404px)"></div><div style="height:2px;background:linear-gradient(90deg,#b70000 0px,#d40000 23px,#f00000 79px,#ff0300 93px,#ff5500 138px,#ffab00 175px,#ffff00 205px,#ffff3b 222px,#ffff4a 234px,#ffff42 245px,#ffff20 257px,#fffd00 265px,#ffb100 285px,#ff0800 325px,#fc0000 328px,#b10000 351px,#7b0000 375px,#540000 404px)"></div><div style="height:2px;background:linear-gradient(90deg,#b40000 0px,#d00000 22px,#ec0000 78px,#ff0300 95px,#ff5900 141px,#ffa900 175px,#ffff00 205px,#ffff43 224px,#ffff51 235px,#ffff48 246px,#ffff27 258px,#ffff00 267px,#ffb000 287px,#ff0500 327px,#f10000 332px,#aa0000 354px,#770000 378px,#540000 404px)"></div><div style="height:2px;background:linear-gradient(90deg,#b20000 0px,#ce0000 22px,#e80000 77px,#ff0200 96px,#ff5a00 143px,#ffa800 175px,#ffff00 205px,#ffff49 225px,#ffff57 236px,#ffff4f 247px,#ffff2e 259px,#fffd00 270px,#ffa600 291px,#ff0100 329px,#b40000 351px,#7e0000 374px,#550000 403px,#530000 404px)"></div><div style="height:2px;background:linear-gradient(90deg,#b00000 0px,#cb0000 22px,#e50000 77px,#ff0300 98px,#ff5c00 145px,#ffa600 175px,#ffff00 205px,#ffff51 227px,#ffff5e 238px,#ffff55 249px,#ffff36 260px,#fffe00 272px,#ff9c00 295px,#ff0000 330px,#b60000 351px,#7f0000 374px,#540000 403px,#530000 404px)"></div><div style="height:2px;background:linear-gradient(90deg,#ad0000 0px,#c80000 22px,#e10000 76px,#ff0300 100px,#ff6000 148px,#ffa400 175px,#ffff00 205px,#ffff56 228px,#ffff65 239px,#ffff5c 250px,#ffff3e 261px,#ffff07 273px,#fffc00 275px,#ff7500 305px,#ff0000 331px,#b80000 351px,#800000 374px,#560000 402px,#530000 404px)"></div><div style="height:2px;background:linear-gradient(90deg,#ab0000 0px,#c50000 23px,#dd0000 75px,#ff0300 102px,#ff6100 150px,#ffa200 175px,#ffff00 205px,#ffff5e 230px,#ffff6c 241px,#ffff62 252px,#ffff43 263px,#ffff09 275px,#fff900 278px,#ff6400 310px,#fe0000 332px,#b70000 352px,#810000 374px,#560000 402px,#530000 404px)"></div><div style="height:2px;background:linear-gradient(90deg,#a80000 0px,#c20000 23px,#da0000 75px,#ff0200 103px,#ff6000 151px,#ffa000 175px,#fffe00 205px,#ffff64 231px,#ffff72 242px,#ffff6a 253px,#ffff4b 264px,#ffff16 275px,#fffe00 279px,#ff7f00 306px,#ff0300 332px,#d40000 344px,#960000 365px,#660000 390px,#530000 404px)"></div><div style="height:2px;background:linear-gradient(90deg,#a60000 0px,#bf0000 23px,#d50000 74px,#ff0200 105px,#ff6000 152px,#ff9a00 174px,#fffd00 205px,#ffff6c 233px,#ffff7a 244px,#ffff71 255px,#ffff50 266px,#ffff18 277px,#ffff00 281px,#ff8700 306px,#ff0300 333px,#ac0000 357px,#770000 380px,#530000 404px)"></div><div style="height:2px;background:linear-gradient(90deg,#a30000 0px,#bc0000 23px,#d10000 73px,#ff0300 107px,#ff5f00 153px,#ff9700 174px,#ffff00 206px,#ffff72 234px,#ffff81 245px,#ffff7b 255px,#ffff60 265px,#ffff2c 276px,#ffff01 283px,#ff9a00 304px,#ff1000 331px,#fe0000 335px,#b80000 354px,#7f0000 376px,#550000 403px,#530000 404px)"></div><div style="height:2px;background:linear-gradient(90deg,#a10000 0px,#b90000 23px,#ce0000 73px,#fb0000 105px,#ff0c00 114px,#ff6500 157px,#ff9f00 177px,#fffe00 206px,#ffff77 235px,#ffff88 246px,#ffff83 256px,#ffff69 266px,#ffff34 277px,#ffff03 285px,#ffad00 302px,#ff1500 331px,#fd0000 336px,#b70000 355px,#7e0000 377px,#540000 404px)"></div><div style="height:2px;background:linear-gradient(90deg,#9e0000 0px,#b50000 23px,#ca0000 72px,#f60000 104px,#ff0300 111px,#ff5c00 155px,#ff9500 175px,#ffff00 207px,#ffff7c 236px,#ffff8f 247px,#ffff8b 257px,#ffff71 267px,#ffff37 279px,#fffd00 288px,#ff8a00 310px,#ff1500 332px,#fd0000 337px,#b60000 356px,#7d0000 378px,#540000 404px)"></div><div style="height:2px;background:linear-gradient(90deg,#9b0000 0px,#b30000 24px,#c70000 72px,#f40000 105px,#ff0300 113px,#ff5900 155px,#ff9200 175px,#ffff02 208px,#ffff79 235px,#ffff8e 242px,#ffff98 252px,#ffff8c 262px,#ffff69 272px,#ffff27 284px,#fffe00 290px,#ff8c00 311px,#ff1a00 332px,#fd0000 338px,#b60000 357px,#7c0000 379px,#540000 404px)"></div><div style="height:2px;background:linear-gradient(90deg,#990000 0px,#af0000 24px,#c30000 71px,#ef0000 104px,#ff0400 115px,#ff5700 156px,#ff9200 176px,#fffe00 208px,#ffff85 238px,#ffff9a 246px,#ffff9f 256px,#ffff90 265px,#ffff63 276px,#ffff1c 288px,#ffff00 292px,#ff8300 314px,#ff1600 334px,#fe0000 339px,#b50000 358px,#7b0000 380px,#530000 404px)"></div><div style="height:2px;background:linear-gradient(90deg,#960000 0px,#ac0000 24px,#bf0000 71px,#ec0000 104px,#ff0200 116px,#ff5600 157px,#ff9100 177px,#ffff00 209px,#ffff7d 236px,#ffff9b 244px,#ffffa8 254px,#ffff9f 263px,#ffff7f 273px,#ffff46 284px,#ffff00 294px,#ff2b00 331px,#fe0000 340px,#b80000 358px,#7e0000 379px,#530000 404px)"></div><div style="height:2px;background:linear-gradient(90deg,#930000 0px,#a90000 24px,#bb0000 70px,#e70000 103px,#ff0200 118px,#ff5200 157px,#ff8d00 177px,#ffff00 210px,#ffff7d 236px,#ffffa1 245px,#ffffaf 255px,#ffffa7 264px,#ffff84 275px,#ffff49 286px,#ffff00 296px,#ff3100 331px,#ff0000 341px,#b80000 359px,#7d0000 380px,#530000 404px)"></div><div style="height:2px;background:linear-gradient(90deg,#910000 0px,#a60000 25px,#b80000 70px,#e50000 104px,#ff0200 120px,#ff5000 158px,#ff9000 179px,#ffff00 211px,#ffff7d 236px,#ffffa9 247px,#ffffb6 257px,#ffffad 266px,#ffff89 277px,#ffff53 287px,#ffff00 298px,#ff3d00 330px,#ff0000 342px,#b40000 361px,#7c0000 381px,#530000 404px)"></div><div style="height:2px;background:linear-gradient(90deg,#8e0000 0px,#a20000 25px,#b40000 69px,#e00000 103px,#ff0200 122px,#ff4e00 159px,#ff9600 182px,#ffff00 212px,#ffff85 238px,#ffffb2 249px,#ffffbd 259px,#ffffb0 269px,#ffff8e 279px,#ffff55 289px,#fffe00 300px,#ff4400 330px,#ff0100 343px,#ad0000 364px,#760000 384px,#530000 404px)"></div><div style="height:2px;background:linear-gradient(90deg,#8b0000 0px,#9f0000 25px,#b00000 69px,#dd0000 103px,#ff0200 124px,#ff4a00 159px,#ff9100 182px,#fffe00 213px,#ffff8d 240px,#ffffba 251px,#ffffc4 260px,#ffffb9 270px,#ffff98 280px,#ffff66 289px,#ffff18 299px,#fffd00 302px,#ff4600 331px,#ff0200 344px,#a90000 366px,#730000 386px,#540000 404px)"></div><div style="height:2px;background:linear-gradient(90deg,#880000 0px,#9c0000 26px,#ac0000 68px,#d70000 102px,#ff0100 126px,#ff4800 160px,#ff9600 185px,#fffd00 214px,#ffff95 242px,#ffffc1 253px,#ffffca 262px,#ffffbf 272px,#ffffa1 281px,#ffff6f 290px,#ffff1f 300px,#ffff03 303px,#ff8500 322px,#ff1d00 340px,#fe0000 346px,#b30000 364px,#7b0000 383px,#540000 404px)"></div><div style="height:2px;background:linear-gradient(90deg,#850000 0px,#990000 26px,#a90000 68px,#d60000 103px,#ff0300 129px,#ff4500 161px,#ff9b00 188px,#ffff01 216px,#ffff8e 241px,#ffffc6 254px,#ffffd0 263px,#ffffc7 273px,#ffffab 282px,#ffff78 291px,#ffff30 300px,#ffff01 305px,#ff4b00 333px,#ff0000 347px,#b20000 365px,#7a0000 384px,#540000 404px)"></div><div style="height:2px;background:linear-gradient(90deg,#830000 0px,#960000 27px,#a60000 68px,#d20000 103px,#ff0200 131px,#ff4300 162px,#ff9f00 191px,#fffe00 217px,#ffff90 242px,#ffffcc 256px,#ffffd7 266px,#ffffcc 276px,#ffffab 285px,#ffff73 294px,#ffff11 305px,#fffe00 307px,#ff4e00 334px,#ff0100 348px,#ae0000 367px,#760000 386px,#540000 404px)"></div><div style="height:2px;background:linear-gradient(90deg,#800000 0px,#920000 27px,#a30000 68px,#ce0000 103px,#ff0200 133px,#ff3e00 162px,#ff9b00 192px,#fff800 217px,#ffff02 219px,#ffff92 243px,#ffffcb 256px,#ffffd9 262px,#ffffdc 272px,#ffffc9 281px,#ffffa4 289px,#ffff6b 297px,#ffff05 308px,#fff500 310px,#ff5100 335px,#ff0200 349px,#aa0000 369px,#750000 387px,#540000 404px)"></div><div style="height:2px;background:linear-gradient(90deg,#7d0000 0px,#8f0000 28px,#9e0000 67px,#cb0000 103px,#ff0300 136px,#ff3e00 164px,#ffa800 198px,#fffe00 220px,#ffff93 244px,#ffffc9 256px,#ffffdd 263px,#ffffe3 273px,#ffffd1 282px,#ffffad 290px,#ffff73 298px,#ffff03 310px,#ff6700 333px,#ff0400 350px,#ee0000 354px,#a60000 371px,#720000 389px,#550000 404px)"></div><div style="height:2px;background:linear-gradient(90deg,#7a0000 0px,#8c0000 28px,#9b0000 67px,#c70000 103px,#ff0200 138px,#ff3b00 165px,#ffa300 199px,#ffff00 222px,#ffff8d 244px,#ffffc6 256px,#ffffe5 266px,#ffffe9 275px,#ffffda 283px,#ffffb5 291px,#ffff73 300px,#ffff01 312px,#ff3f00 341px,#ff0000 352px,#b10000 369px,#780000 387px,#550000 404px)"></div><div style="height:2px;background:linear-gradient(90deg,#770000 0px,#890000 29px,#980000 67px,#c50000 104px,#ff0300 141px,#ff3a00 167px,#ffa100 201px,#ffff00 224px,#ffff8c 245px,#ffffc6 257px,#ffffeb 268px,#ffffef 277px,#ffffde 285px,#ffffbd 292px,#ffff7b 301px,#ffff00 314px,#ff3600 344px,#ff0200 353px,#ae0000 371px,#750000 389px,#560000 404px)"></div><div style="height:2px;background:linear-gradient(90deg,#740000 0px,#860000 30px,#950000 67px,#c10000 104px,#ff0300 144px,#ff3b00 170px,#ff9c00 202px,#fff200 223px,#ffff01 226px,#ffff89 246px,#ffffc6 258px,#fffff0 270px,#fffff4 279px,#ffffe2 287px,#ffffb8 295px,#ffff72 304px,#fffe00 316px,#ff2c00 347px,#fd0000 355px,#b60000 370px,#7d0000 387px,#570000 404px)"></div><div style="height:2px;background:linear-gradient(90deg,#720000 0px,#830000 30px,#920000 67px,#bf0000 105px,#ff0200 146px,#ff3c00 173px,#ff9500 203px,#ffec00 224px,#ffff00 228px,#ffff85 247px,#ffffc9 260px,#fffff5 272px,#fffff8 281px,#ffffe8 288px,#ffffbf 296px,#ffff7b 305px,#fffe00 318px,#ff2f00 348px,#ff0000 356px,#b60000 371px,#7c0000 388px,#580000 404px)"></div><div style="height:2px;background:linear-gradient(90deg,#6f0000 0px,#800000 31px,#8f0000 67px,#bb0000 105px,#ff0200 149px,#ff4200 178px,#ff8e00 204px,#ffe100 224px,#fffe00 230px,#ffff80 248px,#ffffd0 263px,#fffffb 275px,#fffffc 283px,#ffffea 290px,#ffffc1 298px,#ffff7c 307px,#fffe00 320px,#ff3300 349px,#ff0200 357px,#ab0000 375px,#730000 392px,#580000 404px)"></div><div style="height:2px;background:linear-gradient(90deg,#6c0000 0px,#7d0000 32px,#8b0000 67px,#b70000 105px,#ff0200 152px,#ff4600 183px,#ff8600 205px,#ffd500 224px,#fffd00 232px,#ffff32 239px,#ffff91 253px,#ffffdb 267px,#ffffff 277px,#fffffb 287px,#ffffde 295px,#ffffa6 304px,#ffff4f 314px,#fffe00 322px,#ff3600 350px,#fe0000 359px,#b40000 374px,#780000 391px,#590000 404px)"></div><div style="height:2px;background:linear-gradient(90deg,#690000 0px,#7a0000 33px,#880000 67px,#b50000 106px,#ff0200 155px,#ff4600 187px,#ff8100 207px,#ffcd00 225px,#ffff00 235px,#ffff75 251px,#ffffd3 267px,#fffffb 277px,#ffffff 288px,#ffffe4 296px,#ffffb6 304px,#ffff63 314px,#ffff00 324px,#ff3400 352px,#ff0200 360px,#a80000 378px,#710000 394px,#5a0000 404px)"></div><div style="height:2px;background:linear-gradient(90deg,#660000 0px,#770000 35px,#850000 67px,#b30000 107px,#ff0300 159px,#ff4800 192px,#ff7f00 210px,#ffc800 227px,#ffff02 238px,#ffff83 256px,#ffffd9 270px,#fffffd 279px,#fffffe 291px,#ffffe1 299px,#ffffa9 308px,#ffff53 318px,#ffff01 326px,#ff3100 354px,#fe0000 362px,#ad0000 378px,#730000 394px,#5a0000 404px)"></div><div style="height:2px;background:linear-gradient(90deg,#640000 0px,#740000 36px,#830000 68px,#b00000 108px,#ff0200 162px,#ff4200 194px,#ff7900 212px,#ffc300 229px,#ffff02 241px,#ffffc1 268px,#ffffef 277px,#ffffff 282px,#fffffc 294px,#ffffde 302px,#ffffa4 311px,#ffff4c 321px,#ffff02 328px,#ff2f00 356px,#fc0000 364px,#a90000 380px,#720000 395px,#5b0000 404px)"></div><div style="height:2px;background:linear-gradient(90deg,#610000 0px,#710000 38px,#810000 69px,#af0000 110px,#ff0300 167px,#ff3b00 196px,#ff7200 214px,#ffbc00 231px,#fffe00 244px,#ffffc9 272px,#fffff5 281px,#ffffff 285px,#fffffd 296px,#ffffdf 304px,#ffffa6 313px,#ffff58 322px,#ffff02 330px,#ff2e00 358px,#ff0100 365px,#ad0000 380px,#770000 394px,#5c0000 404px)"></div><div style="height:2px;background:linear-gradient(90deg,#5e0000 0px,#6f0000 40px,#7f0000 70px,#ae0000 112px,#ff0300 172px,#ff3300 198px,#ff6a00 216px,#ffb400 233px,#ffff00 248px,#ffffc3 274px,#ffffee 282px,#ffffff 288px,#fffffc 299px,#ffffdc 307px,#ffffa2 316px,#ffff5a 324px,#ffff03 332px,#ffb400 342px,#ff2500 361px,#fd0000 367px,#ae0000 381px,#760000 395px,#5c0000 404px)"></div><div style="height:2px;background:linear-gradient(90deg,#5c0000 0px,#6d0000 44px,#7f0000 74px,#b80000 123px,#ff0300 178px,#ff2e00 201px,#ff6500 219px,#ffba00 238px,#fffd00 252px,#ffff1b 256px,#ffffc2 277px,#ffffee 285px,#ffffff 291px,#fffffc 301px,#ffffde 309px,#ffffa6 318px,#ffff5c 326px,#ffff05 334px,#fff300 336px,#ff3100 361px,#ff0000 368px,#ae0000 382px,#750000 396px,#5d0000 404px)"></div><div style="height:2px;background:linear-gradient(90deg,#590000 0px,#750000 66px,#a20000 109px,#ff0200 185px,#ff2c00 206px,#ff6300 223px,#fff900 256px,#fffe00 257px,#ffffbe 280px,#ffffec 288px,#ffffff 294px,#fffffd 303px,#ffffe1 311px,#ffffb0 319px,#ffff5e 328px,#fffc00 337px,#ff1900 366px,#fc0000 370px,#ae0000 383px,#770000 396px,#5f0000 404px)"></div><div style="height:2px;background:linear-gradient(90deg,#560000 0px,#720000 66px,#a00000 110px,#ed0000 177px,#ff0300 193px,#ff2d00 212px,#ff6700 229px,#ffe400 257px,#ffff00 262px,#ffffb9 283px,#ffffe6 290px,#ffffff 297px,#fffffd 305px,#ffffe3 313px,#ffffba 320px,#ffff6b 329px,#fffe00 339px,#ff0600 370px,#fe0000 371px,#b40000 383px,#7a0000 396px,#600000 404px)"></div><div style="height:2px;background:linear-gradient(90deg,#540000 0px,#700000 66px,#9d0000 111px,#db0000 167px,#f80000 194px,#ff0400 201px,#ff3300 220px,#ff9b00 247px,#ffdc00 261px,#ffff00 267px,#ffffb4 286px,#ffffe4 293px,#fffffd 300px,#fffffc 308px,#ffffe1 316px,#ffffb4 323px,#ffff59 333px,#ffff01 341px,#ff0200 372px,#aa0000 386px,#710000 399px,#610000 404px)"></div><div style="height:2px;background:linear-gradient(90deg,#510000 0px,#6d0000 66px,#9a0000 112px,#d00000 163px,#e80000 192px,#ff0200 207px,#ff3000 225px,#ffa400 256px,#ffe400 268px,#fffe00 272px,#ffffae 289px,#ffffdb 295px,#fffff9 302px,#ffffff 307px,#fffff2 314px,#ffffd1 321px,#ffff8c 330px,#ffff31 339px,#ffff03 343px,#ff8300 358px,#ff0500 373px,#f60000 375px,#ab0000 387px,#700000 400px,#630000 404px)"></div><div style="height:2px;background:linear-gradient(90deg,#4f0000 0px,#6a0000 66px,#990000 114px,#c80000 161px,#dc0000 192px,#ff0300 215px,#ff3a00 234px,#ff8800 257px,#ffc000 268px,#fffe00 277px,#ffff9e 291px,#ffffd0 297px,#ffffef 303px,#fffffe 309px,#fffff2 316px,#ffffd0 323px,#ffff8e 332px,#ffff34 341px,#ffff05 345px,#fff200 347px,#ff1100 373px,#ff0100 375px,#a60000 389px,#700000 401px,#650000 404px)"></div><div style="height:2px;background:linear-gradient(90deg,#4c0000 0px,#670000 66px,#970000 116px,#c00000 159px,#d00000 192px,#f10000 215px,#ff0400 223px,#ff6600 257px,#ff9b00 268px,#ffe000 278px,#ffff04 282px,#ffff80 292px,#ffffba 298px,#ffffe2 304px,#fffff9 311px,#fffff8 315px,#ffffdf 322px,#ffffa8 331px,#ffff60 339px,#ffff07 347px,#fffc00 348px,#ff1d00 373px,#fd0000 377px,#ad0000 389px,#740000 401px,#680000 404px)"></div><div style="height:2px;background:linear-gradient(90deg,#4a0000 0px,#640000 66px,#950000 118px,#b90000 158px,#c40000 191px,#e00000 215px,#ff0100 230px,#ff4800 258px,#ff7300 268px,#ffb000 277px,#ffff00 286px,#ffff6a 294px,#ffffb1 301px,#ffffdb 307px,#fffff1 313px,#fffff4 317px,#ffffd7 325px,#ffffa8 333px,#ffff61 341px,#fffc00 350px,#ff2300 374px,#ff0300 378px,#aa0000 391px,#6c0000 404px)"></div><div style="height:2px;background:linear-gradient(90deg,#470000 0px,#610000 65px,#920000 119px,#b20000 157px,#b80000 191px,#d10000 216px,#ff0100 240px,#ff2900 259px,#ff5100 269px,#ff8500 277px,#ffe000 287px,#fffe00 290px,#ffff68 298px,#ffffaf 305px,#ffffd8 311px,#ffffe9 317px,#ffffe6 322px,#ffffc0 331px,#ffff86 339px,#ffff37 347px,#ffff07 351px,#fffb00 352px,#ff2900 375px,#ff0000 380px,#ad0000 392px,#700000 404px)"></div><div style="height:2px;background:linear-gradient(90deg,#450000 0px,#5e0000 65px,#930000 124px,#ac0000 157px,#ad0000 191px,#c40000 218px,#ff0200 257px,#ff2000 267px,#ff4c00 275px,#ff8d00 283px,#fffc00 294px,#ffff70 303px,#ffffb1 310px,#ffffd3 316px,#ffffdd 322px,#ffffd9 326px,#ffffbc 333px,#ffff83 341px,#ffff40 348px,#ffff02 353px,#ff1600 379px,#fd0000 382px,#a40000 395px,#740000 404px)"></div><div style="height:2px;background:linear-gradient(90deg,#430000 0px,#5c0000 65px,#a50000 154px,#a20000 191px,#b50000 219px,#d80000 248px,#ec0000 262px,#ff0300 269px,#ff2f00 277px,#ff7400 285px,#fff800 298px,#ffff04 299px,#ffff5d 306px,#ffff97 312px,#ffffbc 318px,#ffffcd 324px,#ffffcb 330px,#ffffa3 338px,#ffff64 346px,#ffff16 353px,#fffc00 355px,#ff0d00 382px,#fd0000 384px,#9a0000 398px,#790000 404px)"></div><div style="height:2px;background:linear-gradient(90deg,#400000 0px,#590000 65px,#9f0000 153px,#980000 191px,#a70000 221px,#bd0000 246px,#cc0000 262px,#e60000 271px,#ff0000 276px,#ff3400 283px,#fffc00 303px,#ffff15 305px,#ffff5b 311px,#ffff8d 317px,#ffffb0 324px,#ffffbc 330px,#ffffb5 335px,#ffff87 343px,#ffff52 349px,#ffff01 356px,#ff0600 385px,#f50000 387px,#950000 400px,#7e0000 404px)"></div><div style="height:2px;background:linear-gradient(90deg,#3e0000 0px,#570000 66px,#990000 151px,#8e0000 192px,#9a0000 224px,#a70000 246px,#af0000 262px,#c40000 271px,#e50000 278px,#ff0200 282px,#ff5600 291px,#ffe900 306px,#fffb00 308px,#ffff12 310px,#ffff58 317px,#ffff87 324px,#ffff9f 330px,#ffffa3 336px,#ffff95 341px,#ffff6c 347px,#ffff1a 355px,#ffff03 357px,#ff6400 376px,#fd0000 388px,#960000 401px,#820000 404px)"></div><div style="height:2px;background:linear-gradient(90deg,#3c0000 0px,#550000 66px,#930000 150px,#880000 175px,#840000 203px,#920000 245px,#960000 263px,#ab0000 273px,#cd0000 280px,#fa0000 286px,#ff0d00 288px,#ffd400 309px,#fffb00 314px,#ffff04 315px,#ffff42 322px,#ffff73 330px,#ffff85 336px,#ffff84 342px,#ffff73 346px,#ffff37 353px,#ffff03 358px,#ff8f00 373px,#ff0600 389px,#f20000 391px,#950000 402px,#870000 404px)"></div><div style="height:2px;background:linear-gradient(90deg,#3a0000 0px,#520000 66px,#8e0000 149px,#840000 171px,#7a0000 194px,#800000 245px,#7f0000 263px,#900000 273px,#b10000 281px,#ec0000 289px,#fd0000 291px,#ffba00 312px,#fffd00 322px,#ffff44 332px,#ffff5f 339px,#ffff64 344px,#ffff55 349px,#ffff2f 354px,#ffff00 359px,#ff9800 374px,#ff2a00 387px,#ff0400 391px,#db0000 395px,#8b0000 404px)"></div><div style="height:2px;background:linear-gradient(90deg,#380000 0px,#500000 66px,#890000 149px,#7c0000 171px,#710000 193px,#700000 244px,#6c0000 264px,#7a0000 274px,#990000 282px,#d60000 291px,#ff0000 296px,#ff8e00 313px,#ffdb00 325px,#fffe00 332px,#ffff2e 341px,#ffff38 346px,#ffff32 351px,#ffff1a 356px,#ffff02 359px,#ffb500 372px,#ff6200 383px,#ff0000 393px,#990000 403px,#900000 404px)"></div><div style="height:2px;background:linear-gradient(90deg,#360000 0px,#4d0000 66px,#840000 148px,#780000 168px,#6a0000 190px,#610000 245px,#5c0000 265px,#6b0000 276px,#880000 284px,#cf0000 295px,#fd0000 301px,#ff7500 317px,#ffc800 332px,#fff500 343px,#ffff03 350px,#fffc00 358px,#ffe700 364px,#ffa700 376px,#ff6400 385px,#ff1200 393px,#fa0000 395px,#950000 404px)"></div><div style="height:2px;background:linear-gradient(90deg,#340000 0px,#4b0000 66px,#7f0000 147px,#740000 166px,#620000 189px,#540000 245px,#4e0000 265px,#5b0000 277px,#750000 285px,#b20000 296px,#fe0000 307px,#ff5c00 322px,#ffb600 341px,#ffd500 352px,#ffe000 363px,#ffd600 368px,#ffa600 378px,#ff6d00 386px,#ff2500 393px,#ff0000 396px,#9b0000 404px)"></div><div style="height:2px;background:linear-gradient(90deg,#320000 0px,#490000 66px,#7a0000 146px,#700000 164px,#5b0000 188px,#490000 247px,#440000 267px,#530000 280px,#760000 290px,#c20000 304px,#fd0000 314px,#ff7000 339px,#ffaa00 357px,#ffc700 368px,#ffc600 372px,#ff9e00 381px,#ff6d00 388px,#ff2e00 394px,#ff0600 397px,#f70000 398px,#a00000 404px)"></div><div style="height:2px;background:linear-gradient(90deg,#300000 0px,#470000 66px,#750000 145px,#6d0000 162px,#550000 187px,#3c0000 254px,#3f0000 274px,#520000 285px,#7e0000 297px,#ef0000 321px,#ff0300 326px,#ff5400 350px,#ff8000 362px,#ffae00 373px,#ffb200 377px,#ff8f00 385px,#ff6300 391px,#ff2b00 396px,#fc0000 399px,#a60000 404px)"></div><div style="height:2px;background:linear-gradient(90deg,#2e0000 0px,#450000 67px,#710000 144px,#690000 160px,#4f0000 186px,#350000 266px,#400000 282px,#600000 295px,#c60000 322px,#ff0200 343px,#ff2d00 359px,#ff6900 371px,#ff9400 379px,#ff9b00 383px,#ff7900 390px,#ff4e00 395px,#ff2600 398px,#ff0100 400px,#ac0000 404px)"></div><div style="height:2px;background:linear-gradient(90deg,#2c0000 0px,#430000 67px,#6c0000 144px,#640000 160px,#490000 186px,#300000 265px,#3a0000 284px,#5b0000 299px,#a20000 323px,#ea0000 360px,#ff0100 366px,#ff3700 376px,#ff7a00 386px,#ff8100 389px,#ff6000 395px,#ff4000 398px,#ff1e00 400px,#ff0800 401px,#ed0000 402px,#b30000 404px)"></div><div style="height:2px;background:linear-gradient(90deg,#2a0000 0px,#410000 67px,#680000 143px,#610000 159px,#440000 186px,#2c0000 262px,#350000 285px,#520000 302px,#830000 324px,#a10000 351px,#b40000 364px,#d60000 375px,#ff0200 383px,#ff3400 389px,#ff6300 394px,#ff6600 395px,#ff4c00 399px,#ff2e00 401px,#ff1300 402px,#ec0000 403px,#bf0000 404px)"></div><div style="height:2px;background:linear-gradient(90deg,#290000 0px,#3f0000 68px,#640000 142px,#5e0000 157px,#3f0000 185px,#290000 254px,#300000 286px,#4c0000 306px,#6a0000 326px,#760000 351px,#830000 371px,#9d0000 386px,#b50000 392px,#cc0000 395px,#e60000 397px,#f80000 398px,#ff1000 399px,#ff4500 401px,#ff4400 402px,#ff3300 403px,#eb0000 404px)"></div></div>
<div class="t" style="left:37.28px;top:623.67px;font-size:14px;line-height:14px;font-weight:bold;font-family:'Liberation Sans', Arial, Helvetica, sans-serif;color:#000;transform:translateX(-50%);">-40</div>
<div class="t" style="left:104.22px;top:623.67px;font-size:14px;line-height:14px;font-weight:bold;font-family:'Liberation Sans', Arial, Helvetica, sans-serif;color:#000;transform:translateX(-50%);">-35</div>
<div class="t" style="left:172.32px;top:623.67px;font-size:14px;line-height:14px;font-weight:bold;font-family:'Liberation Sans', Arial, Helvetica, sans-serif;color:#000;transform:translateX(-50%);">-30</div>
<div class="t" style="left:240.00px;top:623.67px;font-size:14px;line-height:14px;font-weight:bold;font-family:'Liberation Sans', Arial, Helvetica, sans-serif;color:#000;transform:translateX(-50%);">-25</div>
<div class="t" style="left:307.00px;top:623.67px;font-size:14px;line-height:14px;font-weight:bold;font-family:'Liberation Sans', Arial, Helvetica, sans-serif;color:#000;transform:translateX(-50%);">-20</div>
<div class="t" style="left:374.00px;top:623.67px;font-size:14px;line-height:14px;font-weight:bold;font-family:'Liberation Sans', Arial, Helvetica, sans-serif;color:#000;transform:translateX(-50%);">-15</div>
<div class="t" style="left:440.50px;top:623.67px;font-size:14px;line-height:14px;font-weight:bold;font-family:'Liberation Sans', Arial, Helvetica, sans-serif;color:#000;transform:translateX(-50%);">-10</div>
<div class="t" style="left:36.26px;top:350.52px;font-size:14px;line-height:14px;font-weight:bold;font-family:'Liberation Sans', Arial, Helvetica, sans-serif;color:#000;transform:translateX(-100%);letter-spacing:-1px;">10</div>
<div class="t" style="left:37.14px;top:401.06px;font-size:15px;line-height:15px;font-weight:bold;font-family:'Liberation Sans', Arial, Helvetica, sans-serif;color:#000;transform:translateX(-100%);">8</div>
<div class="t" style="left:37.78px;top:455.56px;font-size:15px;line-height:15px;font-weight:bold;font-family:'Liberation Sans', Arial, Helvetica, sans-serif;color:#000;transform:translateX(-100%);">6</div>
<div class="t" style="left:37.38px;top:507.31px;font-size:15px;line-height:15px;font-weight:bold;font-family:'Liberation Sans', Arial, Helvetica, sans-serif;color:#000;transform:translateX(-100%);">4</div>
<div class="t" style="left:37.30px;top:559.87px;font-size:15px;line-height:15px;font-weight:bold;font-family:'Liberation Sans', Arial, Helvetica, sans-serif;color:#000;transform:translateX(-100%);">2</div>
<div class="t" style="left:5.64px;top:496.08px;font-size:14.5px;line-height:14.5px;font-weight:bold;font-family:'Liberation Sans', Arial, Helvetica, sans-serif;color:#000;transform-origin:0 0;transform:rotate(-90deg);">&#949;''</div>
<div class="t" style="left:240.72px;top:639.02px;font-size:15px;line-height:15px;font-weight:bold;font-family:'Liberation Sans', Arial, Helvetica, sans-serif;color:#000;transform:translateX(-50%);">&#949;'</div>
<div class="box" style="left:44px;top:364px;width:30px;height:24px;"></div>
<div class="t" style="left:57.80px;top:368.57px;font-size:16px;line-height:16px;font-weight:normal;font-family:'Liberation Sans', Arial, Helvetica, sans-serif;color:#000;transform:translateX(-50%);-webkit-text-stroke:0.25px #000;">(b)</div>
<div class="box" style="left:365px;top:371px;width:62px;height:23px;"></div>
<div class="t" style="left:394.44px;top:375.87px;font-size:16px;line-height:16px;font-weight:normal;font-family:'Liberation Sans', Arial, Helvetica, sans-serif;color:#000;transform:translateX(-50%);-webkit-text-stroke:0.25px #000;transform:translateX(-50%) scaleX(0.86);">D = 0.05</div>
<div class="box" style="left:41px;top:396px;width:166px;height:142px;"></div>
<div class="t" style="left:67.94px;top:396.55px;font-size:12px;line-height:12px;font-weight:bold;font-family:'Liberation Sans', Arial, Helvetica, sans-serif;color:#000;transform:translateX(-100%);">8</div>
<div class="t" style="left:67.94px;top:425.24px;font-size:12px;line-height:12px;font-weight:bold;font-family:'Liberation Sans', Arial, Helvetica, sans-serif;color:#000;transform:translateX(-100%);">6</div>
<div class="t" style="left:67.54px;top:451.80px;font-size:12px;line-height:12px;font-weight:bold;font-family:'Liberation Sans', Arial, Helvetica, sans-serif;color:#000;transform:translateX(-100%);">4</div>
<div class="t" style="left:67.94px;top:478.99px;font-size:12px;line-height:12px;font-weight:bold;font-family:'Liberation Sans', Arial, Helvetica, sans-serif;color:#000;transform:translateX(-100%);">2</div>
<div class="t" style="left:66.90px;top:507.73px;font-size:12px;line-height:12px;font-weight:bold;font-family:'Liberation Sans', Arial, Helvetica, sans-serif;color:#000;transform:translateX(-100%);">0</div>
<div class="t" style="left:69.70px;top:517.63px;font-size:8px;line-height:8px;font-weight:bold;font-family:'Liberation Sans', Arial, Helvetica, sans-serif;color:#000;transform:translateX(-50%);">0</div>
<div class="t" style="left:93.80px;top:516.16px;font-size:12px;line-height:12px;font-weight:bold;font-family:'Liberation Sans', Arial, Helvetica, sans-serif;color:#000;transform:translateX(-50%);">0.5</div>
<div class="t" style="left:119.88px;top:516.16px;font-size:12px;line-height:12px;font-weight:bold;font-family:'Liberation Sans', Arial, Helvetica, sans-serif;color:#000;transform:translateX(-50%);">1</div>
<div class="t" style="left:146.82px;top:516.16px;font-size:12px;line-height:12px;font-weight:bold;font-family:'Liberation Sans', Arial, Helvetica, sans-serif;color:#000;transform:translateX(-50%);">1.5</div>
<div class="t" style="left:171.64px;top:516.16px;font-size:12px;line-height:12px;font-weight:bold;font-family:'Liberation Sans', Arial, Helvetica, sans-serif;color:#000;transform:translateX(-50%);">2</div>
<div class="t" style="left:195.32px;top:516.16px;font-size:12px;line-height:12px;font-weight:bold;font-family:'Liberation Sans', Arial, Helvetica, sans-serif;color:#000;transform:translateX(-50%);">2.5</div>
<div class="t" style="left:126.56px;top:523.43px;font-size:10px;line-height:10px;font-weight:bold;font-family:'Liberation Sans', Arial, Helvetica, sans-serif;color:#000;">&#949;<span style='font-size:7px;vertical-align:4px'>''</span></div>
<div class="t" style="left:80.56px;top:415.61px;font-size:11px;line-height:11px;font-weight:bold;font-family:'Liberation Sans', Arial, Helvetica, sans-serif;color:#000;">&#949;' = &#8211;17.4</div>
<div class="t" style="left:44.04px;top:493.64px;font-size:12.4px;line-height:12.4px;font-weight:bold;font-family:'Liberation Sans', Arial, Helvetica, sans-serif;color:#000;transform-origin:0 0;transform:rotate(-90deg);">q<sub>tot</sub> (10<sup>7</sup> W/m<sup>2</sup>)</div>
<div class="cb" style="left:457px;top:355px;width:15px;height:265px;background:linear-gradient(to top,#0b0000 0%,#500000 15%,#900000 29.6%,#d00000 44.3%,#ff0000 56%,#ff1800 59%,#ff7000 73.7%,#ffc000 81%,#ffff00 89.4%,#ffffff 100%);"></div>
<div class="t" style="left:473.30px;top:574.80px;font-size:15px;line-height:15px;font-weight:normal;font-family:'Liberation Sans', Arial, Helvetica, sans-serif;color:#000;-webkit-text-stroke:0.25px #000;">1</div>
<div class="t" style="left:473.30px;top:535.70px;font-size:15px;line-height:15px;font-weight:normal;font-family:'Liberation Sans', Arial, Helvetica, sans-serif;color:#000;-webkit-text-stroke:0.25px #000;">2</div>
<div class="t" style="left:473.30px;top:496.60px;font-size:15px;line-height:15px;font-weight:normal;font-family:'Liberation Sans', Arial, Helvetica, sans-serif;color:#000;-webkit-text-stroke:0.25px #000;">3</div>
<div class="t" style="left:473.30px;top:457.50px;font-size:15px;line-height:15px;font-weight:normal;font-family:'Liberation Sans', Arial, Helvetica, sans-serif;color:#000;-webkit-text-stroke:0.25px #000;">4</div>
<div class="t" style="left:473.30px;top:418.40px;font-size:15px;line-height:15px;font-weight:normal;font-family:'Liberation Sans', Arial, Helvetica, sans-serif;color:#000;-webkit-text-stroke:0.25px #000;">5</div>
<div class="t" style="left:473.30px;top:379.30px;font-size:15px;line-height:15px;font-weight:normal;font-family:'Liberation Sans', Arial, Helvetica, sans-serif;color:#000;-webkit-text-stroke:0.25px #000;">6</div>
<div class="t" style="left:415px;top:326.5px;font-family:'Liberation Serif', 'Times New Roman', serif;font-weight:bold;font-size:16px;line-height:17px;white-space:nowrap"><i>q</i><span style="font-size:8px;vertical-align:-3.5px">tot</span>(10<span style="font-size:8px;vertical-align:8.5px">7</span>W/m<span style="font-size:8.5px;vertical-align:9px">2</span>)</div>
<svg class="sv" width="500" height="653" viewBox="0 0 500 653">
<rect x="41.5" y="22.5" width="396" height="286" fill="none" stroke="#111" stroke-width="1"/>
<line x1="42.0" y1="23" x2="42.0" y2="27" stroke="#111" stroke-width="1"/>
<line x1="42.0" y1="308" x2="42.0" y2="304" stroke="#111" stroke-width="1"/>
<line x1="107.8" y1="23" x2="107.8" y2="27" stroke="#111" stroke-width="1"/>
<line x1="107.8" y1="308" x2="107.8" y2="304" stroke="#111" stroke-width="1"/>
<line x1="173.7" y1="23" x2="173.7" y2="27" stroke="#111" stroke-width="1"/>
<line x1="173.7" y1="308" x2="173.7" y2="304" stroke="#111" stroke-width="1"/>
<line x1="239.5" y1="23" x2="239.5" y2="27" stroke="#111" stroke-width="1"/>
<line x1="239.5" y1="308" x2="239.5" y2="304" stroke="#111" stroke-width="1"/>
<line x1="305.3" y1="23" x2="305.3" y2="27" stroke="#111" stroke-width="1"/>
<line x1="305.3" y1="308" x2="305.3" y2="304" stroke="#111" stroke-width="1"/>
<line x1="371.2" y1="23" x2="371.2" y2="27" stroke="#111" stroke-width="1"/>
<line x1="371.2" y1="308" x2="371.2" y2="304" stroke="#111" stroke-width="1"/>
<line x1="437.0" y1="23" x2="437.0" y2="27" stroke="#111" stroke-width="1"/>
<line x1="437.0" y1="308" x2="437.0" y2="304" stroke="#111" stroke-width="1"/>
<rect x="81.5" y="69.5" width="131.5" height="94.5" fill="none" stroke="#a6a6f2" stroke-width="1"/>
<line x1="89.7" y1="69.5" x2="89.7" y2="71.0" stroke="#8080e0" stroke-width="0.8"/>
<line x1="89.7" y1="164" x2="89.7" y2="162.5" stroke="#8080e0" stroke-width="0.8"/>
<line x1="97.9" y1="69.5" x2="97.9" y2="71.0" stroke="#8080e0" stroke-width="0.8"/>
<line x1="97.9" y1="164" x2="97.9" y2="162.5" stroke="#8080e0" stroke-width="0.8"/>
<line x1="106.2" y1="69.5" x2="106.2" y2="71.0" stroke="#8080e0" stroke-width="0.8"/>
<line x1="106.2" y1="164" x2="106.2" y2="162.5" stroke="#8080e0" stroke-width="0.8"/>
<line x1="114.4" y1="69.5" x2="114.4" y2="71.0" stroke="#8080e0" stroke-width="0.8"/>
<line x1="114.4" y1="164" x2="114.4" y2="162.5" stroke="#8080e0" stroke-width="0.8"/>
<line x1="122.6" y1="69.5" x2="122.6" y2="71.0" stroke="#8080e0" stroke-width="0.8"/>
<line x1="122.6" y1="164" x2="122.6" y2="162.5" stroke="#8080e0" stroke-width="0.8"/>
<line x1="130.8" y1="69.5" x2="130.8" y2="71.0" stroke="#8080e0" stroke-width="0.8"/>
<line x1="130.8" y1="164" x2="130.8" y2="162.5" stroke="#8080e0" stroke-width="0.8"/>
<line x1="139.0" y1="69.5" x2="139.0" y2="71.0" stroke="#8080e0" stroke-width="0.8"/>
<line x1="139.0" y1="164" x2="139.0" y2="162.5" stroke="#8080e0" stroke-width="0.8"/>
<line x1="147.2" y1="69.5" x2="147.2" y2="71.0" stroke="#8080e0" stroke-width="0.8"/>
<line x1="147.2" y1="164" x2="147.2" y2="162.5" stroke="#8080e0" stroke-width="0.8"/>
<line x1="155.5" y1="69.5" x2="155.5" y2="71.0" stroke="#8080e0" stroke-width="0.8"/>
<line x1="155.5" y1="164" x2="155.5" y2="162.5" stroke="#8080e0" stroke-width="0.8"/>
<line x1="163.7" y1="69.5" x2="163.7" y2="71.0" stroke="#8080e0" stroke-width="0.8"/>
<line x1="163.7" y1="164" x2="163.7" y2="162.5" stroke="#8080e0" stroke-width="0.8"/>
<line x1="171.9" y1="69.5" x2="171.9" y2="71.0" stroke="#8080e0" stroke-width="0.8"/>
<line x1="171.9" y1="164" x2="171.9" y2="162.5" stroke="#8080e0" stroke-width="0.8"/>
<line x1="180.1" y1="69.5" x2="180.1" y2="71.0" stroke="#8080e0" stroke-width="0.8"/>
<line x1="180.1" y1="164" x2="180.1" y2="162.5" stroke="#8080e0" stroke-width="0.8"/>
<line x1="188.3" y1="69.5" x2="188.3" y2="71.0" stroke="#8080e0" stroke-width="0.8"/>
<line x1="188.3" y1="164" x2="188.3" y2="162.5" stroke="#8080e0" stroke-width="0.8"/>
<line x1="196.6" y1="69.5" x2="196.6" y2="71.0" stroke="#8080e0" stroke-width="0.8"/>
<line x1="196.6" y1="164" x2="196.6" y2="162.5" stroke="#8080e0" stroke-width="0.8"/>
<line x1="204.8" y1="69.5" x2="204.8" y2="71.0" stroke="#8080e0" stroke-width="0.8"/>
<line x1="204.8" y1="164" x2="204.8" y2="162.5" stroke="#8080e0" stroke-width="0.8"/>
<line x1="81.5" y1="77.4" x2="83.0" y2="77.4" stroke="#8080e0" stroke-width="0.8"/>
<line x1="213" y1="77.4" x2="211.5" y2="77.4" stroke="#8080e0" stroke-width="0.8"/>
<line x1="81.5" y1="85.2" x2="83.0" y2="85.2" stroke="#8080e0" stroke-width="0.8"/>
<line x1="213" y1="85.2" x2="211.5" y2="85.2" stroke="#8080e0" stroke-width="0.8"/>
<line x1="81.5" y1="93.1" x2="83.0" y2="93.1" stroke="#8080e0" stroke-width="0.8"/>
<line x1="213" y1="93.1" x2="211.5" y2="93.1" stroke="#8080e0" stroke-width="0.8"/>
<line x1="81.5" y1="101.0" x2="83.0" y2="101.0" stroke="#8080e0" stroke-width="0.8"/>
<line x1="213" y1="101.0" x2="211.5" y2="101.0" stroke="#8080e0" stroke-width="0.8"/>
<line x1="81.5" y1="108.9" x2="83.0" y2="108.9" stroke="#8080e0" stroke-width="0.8"/>
<line x1="213" y1="108.9" x2="211.5" y2="108.9" stroke="#8080e0" stroke-width="0.8"/>
<line x1="81.5" y1="116.8" x2="83.0" y2="116.8" stroke="#8080e0" stroke-width="0.8"/>
<line x1="213" y1="116.8" x2="211.5" y2="116.8" stroke="#8080e0" stroke-width="0.8"/>
<line x1="81.5" y1="124.6" x2="83.0" y2="124.6" stroke="#8080e0" stroke-width="0.8"/>
<line x1="213" y1="124.6" x2="211.5" y2="124.6" stroke="#8080e0" stroke-width="0.8"/>
<line x1="81.5" y1="132.5" x2="83.0" y2="132.5" stroke="#8080e0" stroke-width="0.8"/>
<line x1="213" y1="132.5" x2="211.5" y2="132.5" stroke="#8080e0" stroke-width="0.8"/>
<line x1="81.5" y1="140.4" x2="83.0" y2="140.4" stroke="#8080e0" stroke-width="0.8"/>
<line x1="213" y1="140.4" x2="211.5" y2="140.4" stroke="#8080e0" stroke-width="0.8"/>
<line x1="81.5" y1="148.2" x2="83.0" y2="148.2" stroke="#8080e0" stroke-width="0.8"/>
<line x1="213" y1="148.2" x2="211.5" y2="148.2" stroke="#8080e0" stroke-width="0.8"/>
<line x1="81.5" y1="156.1" x2="83.0" y2="156.1" stroke="#8080e0" stroke-width="0.8"/>
<line x1="213" y1="156.1" x2="211.5" y2="156.1" stroke="#8080e0" stroke-width="0.8"/>
<polyline fill="none" stroke="#5c5cd8" stroke-width="1.15" stroke-linejoin="round" points="81.6,132 82.0,110 82.6,92 83.4,83 84.3,79.8 85.1,79.5 86.2,80.4 88,83.5 90.5,88.2 93.3,93.4 97,99 101,104.3 108.6,112 116.3,118 124,122.7 131.6,126.5 140,130 156,136.4 172,142.5 188,146.8 204,150 212.8,151.4"/>
<line x1="450" y1="266.3" x2="452.5" y2="266.3" stroke="#333" stroke-width="0.8"/><line x1="460.5" y1="266.3" x2="463" y2="266.3" stroke="#333" stroke-width="0.8"/>
<line x1="450" y1="223.3" x2="452.5" y2="223.3" stroke="#333" stroke-width="0.8"/><line x1="460.5" y1="223.3" x2="463" y2="223.3" stroke="#333" stroke-width="0.8"/>
<line x1="450" y1="180.3" x2="452.5" y2="180.3" stroke="#333" stroke-width="0.8"/><line x1="460.5" y1="180.3" x2="463" y2="180.3" stroke="#333" stroke-width="0.8"/>
<line x1="450" y1="137.3" x2="452.5" y2="137.3" stroke="#333" stroke-width="0.8"/><line x1="460.5" y1="137.3" x2="463" y2="137.3" stroke="#333" stroke-width="0.8"/>
<line x1="450" y1="94.3" x2="452.5" y2="94.3" stroke="#333" stroke-width="0.8"/><line x1="460.5" y1="94.3" x2="463" y2="94.3" stroke="#333" stroke-width="0.8"/>
<line x1="450" y1="51.3" x2="452.5" y2="51.3" stroke="#333" stroke-width="0.8"/><line x1="460.5" y1="51.3" x2="463" y2="51.3" stroke="#333" stroke-width="0.8"/>
<rect x="38.5" y="356.5" width="405" height="263" fill="none" stroke="#2a1010" stroke-width="1"/>
<line x1="39.0" y1="357" x2="39.0" y2="361" stroke="#222" stroke-width="1"/>
<line x1="39.0" y1="619" x2="39.0" y2="615" stroke="#222" stroke-width="1"/>
<line x1="106.3" y1="357" x2="106.3" y2="361" stroke="#222" stroke-width="1"/>
<line x1="106.3" y1="619" x2="106.3" y2="615" stroke="#222" stroke-width="1"/>
<line x1="173.7" y1="357" x2="173.7" y2="361" stroke="#222" stroke-width="1"/>
<line x1="173.7" y1="619" x2="173.7" y2="615" stroke="#222" stroke-width="1"/>
<line x1="241.0" y1="357" x2="241.0" y2="361" stroke="#222" stroke-width="1"/>
<line x1="241.0" y1="619" x2="241.0" y2="615" stroke="#222" stroke-width="1"/>
<line x1="308.3" y1="357" x2="308.3" y2="361" stroke="#222" stroke-width="1"/>
<line x1="308.3" y1="619" x2="308.3" y2="615" stroke="#222" stroke-width="1"/>
<line x1="375.7" y1="357" x2="375.7" y2="361" stroke="#222" stroke-width="1"/>
<line x1="375.7" y1="619" x2="375.7" y2="615" stroke="#222" stroke-width="1"/>
<line x1="443.0" y1="357" x2="443.0" y2="361" stroke="#222" stroke-width="1"/>
<line x1="443.0" y1="619" x2="443.0" y2="615" stroke="#222" stroke-width="1"/>
<line x1="443" y1="566.6" x2="439" y2="566.6" stroke="#222" stroke-width="1"/>
<line x1="39" y1="566.6" x2="43" y2="566.6" stroke="#222" stroke-width="1"/>
<line x1="443" y1="514.2" x2="439" y2="514.2" stroke="#222" stroke-width="1"/>
<line x1="443" y1="461.8" x2="439" y2="461.8" stroke="#222" stroke-width="1"/>
<line x1="443" y1="409.4" x2="439" y2="409.4" stroke="#222" stroke-width="1"/>
<rect x="70.5" y="404.5" width="128.5" height="110.5" fill="none" stroke="#a6a6f2" stroke-width="1"/>
<line x1="83.3" y1="404.5" x2="83.3" y2="406.0" stroke="#8080e0" stroke-width="0.8"/>
<line x1="83.3" y1="515" x2="83.3" y2="513.5" stroke="#8080e0" stroke-width="0.8"/>
<line x1="96.2" y1="404.5" x2="96.2" y2="406.0" stroke="#8080e0" stroke-width="0.8"/>
<line x1="96.2" y1="515" x2="96.2" y2="513.5" stroke="#8080e0" stroke-width="0.8"/>
<line x1="109.0" y1="404.5" x2="109.0" y2="406.0" stroke="#8080e0" stroke-width="0.8"/>
<line x1="109.0" y1="515" x2="109.0" y2="513.5" stroke="#8080e0" stroke-width="0.8"/>
<line x1="121.9" y1="404.5" x2="121.9" y2="406.0" stroke="#8080e0" stroke-width="0.8"/>
<line x1="121.9" y1="515" x2="121.9" y2="513.5" stroke="#8080e0" stroke-width="0.8"/>
<line x1="134.8" y1="404.5" x2="134.8" y2="406.0" stroke="#8080e0" stroke-width="0.8"/>
<line x1="134.8" y1="515" x2="134.8" y2="513.5" stroke="#8080e0" stroke-width="0.8"/>
<line x1="147.6" y1="404.5" x2="147.6" y2="406.0" stroke="#8080e0" stroke-width="0.8"/>
<line x1="147.6" y1="515" x2="147.6" y2="513.5" stroke="#8080e0" stroke-width="0.8"/>
<line x1="160.4" y1="404.5" x2="160.4" y2="406.0" stroke="#8080e0" stroke-width="0.8"/>
<line x1="160.4" y1="515" x2="160.4" y2="513.5" stroke="#8080e0" stroke-width="0.8"/>
<line x1="173.3" y1="404.5" x2="173.3" y2="406.0" stroke="#8080e0" stroke-width="0.8"/>
<line x1="173.3" y1="515" x2="173.3" y2="513.5" stroke="#8080e0" stroke-width="0.8"/>
<line x1="186.2" y1="404.5" x2="186.2" y2="406.0" stroke="#8080e0" stroke-width="0.8"/>
<line x1="186.2" y1="515" x2="186.2" y2="513.5" stroke="#8080e0" stroke-width="0.8"/>
<line x1="70.5" y1="411.4" x2="72.0" y2="411.4" stroke="#8080e0" stroke-width="0.8"/>
<line x1="199" y1="411.4" x2="197.5" y2="411.4" stroke="#8080e0" stroke-width="0.8"/>
<line x1="70.5" y1="418.3" x2="72.0" y2="418.3" stroke="#8080e0" stroke-width="0.8"/>
<line x1="199" y1="418.3" x2="197.5" y2="418.3" stroke="#8080e0" stroke-width="0.8"/>
<line x1="70.5" y1="425.2" x2="72.0" y2="425.2" stroke="#8080e0" stroke-width="0.8"/>
<line x1="199" y1="425.2" x2="197.5" y2="425.2" stroke="#8080e0" stroke-width="0.8"/>
<line x1="70.5" y1="432.1" x2="72.0" y2="432.1" stroke="#8080e0" stroke-width="0.8"/>
<line x1="199" y1="432.1" x2="197.5" y2="432.1" stroke="#8080e0" stroke-width="0.8"/>
<line x1="70.5" y1="439.0" x2="72.0" y2="439.0" stroke="#8080e0" stroke-width="0.8"/>
<line x1="199" y1="439.0" x2="197.5" y2="439.0" stroke="#8080e0" stroke-width="0.8"/>
<line x1="70.5" y1="445.9" x2="72.0" y2="445.9" stroke="#8080e0" stroke-width="0.8"/>
<line x1="199" y1="445.9" x2="197.5" y2="445.9" stroke="#8080e0" stroke-width="0.8"/>
<line x1="70.5" y1="452.8" x2="72.0" y2="452.8" stroke="#8080e0" stroke-width="0.8"/>
<line x1="199" y1="452.8" x2="197.5" y2="452.8" stroke="#8080e0" stroke-width="0.8"/>
<line x1="70.5" y1="459.8" x2="72.0" y2="459.8" stroke="#8080e0" stroke-width="0.8"/>
<line x1="199" y1="459.8" x2="197.5" y2="459.8" stroke="#8080e0" stroke-width="0.8"/>
<line x1="70.5" y1="466.7" x2="72.0" y2="466.7" stroke="#8080e0" stroke-width="0.8"/>
<line x1="199" y1="466.7" x2="197.5" y2="466.7" stroke="#8080e0" stroke-width="0.8"/>
<line x1="70.5" y1="473.6" x2="72.0" y2="473.6" stroke="#8080e0" stroke-width="0.8"/>
<line x1="199" y1="473.6" x2="197.5" y2="473.6" stroke="#8080e0" stroke-width="0.8"/>
<line x1="70.5" y1="480.5" x2="72.0" y2="480.5" stroke="#8080e0" stroke-width="0.8"/>
<line x1="199" y1="480.5" x2="197.5" y2="480.5" stroke="#8080e0" stroke-width="0.8"/>
<line x1="70.5" y1="487.4" x2="72.0" y2="487.4" stroke="#8080e0" stroke-width="0.8"/>
<line x1="199" y1="487.4" x2="197.5" y2="487.4" stroke="#8080e0" stroke-width="0.8"/>
<line x1="70.5" y1="494.3" x2="72.0" y2="494.3" stroke="#8080e0" stroke-width="0.8"/>
<line x1="199" y1="494.3" x2="197.5" y2="494.3" stroke="#8080e0" stroke-width="0.8"/>
<line x1="70.5" y1="501.2" x2="72.0" y2="501.2" stroke="#8080e0" stroke-width="0.8"/>
<line x1="199" y1="501.2" x2="197.5" y2="501.2" stroke="#8080e0" stroke-width="0.8"/>
<line x1="70.5" y1="508.1" x2="72.0" y2="508.1" stroke="#8080e0" stroke-width="0.8"/>
<line x1="199" y1="508.1" x2="197.5" y2="508.1" stroke="#8080e0" stroke-width="0.8"/>
<polyline fill="none" stroke="#5c5cd8" stroke-width="1.15" stroke-linejoin="round" points="70.5,514.5 75,505.5 80,496.6 87,484 94,471.4 101,461 108,451.8 115,443.6 122,436.4 129,430.8 136,426.6 143,423.8 150,421.8 161.2,420.4 172.4,421 183.6,423 191,424.6 199,426.6"/>
<line x1="458" y1="582.3" x2="460.5" y2="582.3" stroke="#333" stroke-width="0.8"/><line x1="468.5" y1="582.3" x2="471" y2="582.3" stroke="#333" stroke-width="0.8"/>
<line x1="458" y1="543.2" x2="460.5" y2="543.2" stroke="#333" stroke-width="0.8"/><line x1="468.5" y1="543.2" x2="471" y2="543.2" stroke="#333" stroke-width="0.8"/>
<line x1="458" y1="504.1" x2="460.5" y2="504.1" stroke="#333" stroke-width="0.8"/><line x1="468.5" y1="504.1" x2="471" y2="504.1" stroke="#333" stroke-width="0.8"/>
<line x1="458" y1="465.0" x2="460.5" y2="465.0" stroke="#333" stroke-width="0.8"/><line x1="468.5" y1="465.0" x2="471" y2="465.0" stroke="#333" stroke-width="0.8"/>
<line x1="458" y1="425.9" x2="460.5" y2="425.9" stroke="#333" stroke-width="0.8"/><line x1="468.5" y1="425.9" x2="471" y2="425.9" stroke="#333" stroke-width="0.8"/>
<line x1="458" y1="386.8" x2="460.5" y2="386.8" stroke="#333" stroke-width="0.8"/><line x1="468.5" y1="386.8" x2="471" y2="386.8" stroke="#333" stroke-width="0.8"/>
</svg>
</body></html>
